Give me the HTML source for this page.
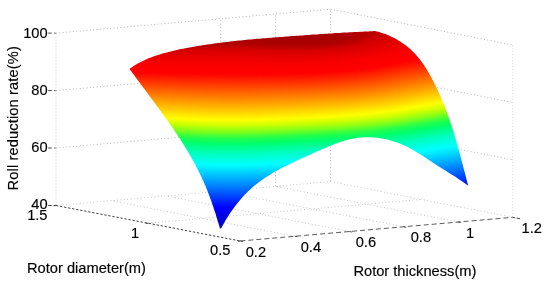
<!DOCTYPE html>
<html><head><meta charset="utf-8"><title>Roll reduction rate surface</title>
<style>
html,body{margin:0;padding:0;background:#fff}
svg{display:block}
text{font-family:"Liberation Sans",sans-serif;font-size:14.67px;fill:#000;stroke:#000;stroke-width:.15px}
.g{stroke:#8e8e8e;stroke-width:.65;stroke-dasharray:1 2.4;fill:none}
.h{stroke:#a0a0a0;stroke-width:.6;stroke-dasharray:1 2.4;fill:none}
.f{stroke:#b4b4b4;stroke-width:.6;stroke-dasharray:1 2;fill:none}
.a{stroke:#2a2a2a;stroke-width:.9;stroke-dasharray:2.3 1.8;fill:none}
.b{stroke:#4a4a4a;stroke-width:.9;stroke-dasharray:5 3;fill:none}
.t{stroke:#333;stroke-width:.9;fill:none}
</style></head><body>
<svg width="550" height="289" viewBox="0 0 550 289">
<defs>
<linearGradient id="g0" gradientUnits="userSpaceOnUse" x1="0" y1="67.4" x2="0" y2="70.5"><stop offset="0.391" stop-color="#fd0000"/><stop offset="0.565" stop-color="#fd0000"/></linearGradient>
<linearGradient id="g1" gradientUnits="userSpaceOnUse" x1="0" y1="66.1" x2="0" y2="73.3"><stop offset="0.240" stop-color="#fc0000"/><stop offset="0.662" stop-color="#fe0000"/></linearGradient>
<linearGradient id="g2" gradientUnits="userSpaceOnUse" x1="0" y1="64.8" x2="0" y2="76.0"><stop offset="0.150" stop-color="#fb0000"/><stop offset="0.686" stop-color="#ff0000"/><stop offset="0.784" stop-color="#ff0600"/></linearGradient>
<linearGradient id="g3" gradientUnits="userSpaceOnUse" x1="0" y1="63.6" x2="0" y2="78.7"><stop offset="0.109" stop-color="#fb0000"/><stop offset="0.505" stop-color="#fe0000"/><stop offset="0.604" stop-color="#ff0100"/><stop offset="0.841" stop-color="#ff1500"/></linearGradient>
<linearGradient id="g4" gradientUnits="userSpaceOnUse" x1="0" y1="62.4" x2="0" y2="81.4"><stop offset="0.085" stop-color="#f90000"/><stop offset="0.348" stop-color="#fd0000"/><stop offset="0.532" stop-color="#ff0000"/><stop offset="0.611" stop-color="#ff0800"/><stop offset="0.873" stop-color="#ff2500"/></linearGradient>
<linearGradient id="g5" gradientUnits="userSpaceOnUse" x1="0" y1="61.4" x2="0" y2="84.1"><stop offset="0.069" stop-color="#f60000"/><stop offset="0.135" stop-color="#fa0000"/><stop offset="0.289" stop-color="#fc0000"/><stop offset="0.486" stop-color="#ff0000"/><stop offset="0.684" stop-color="#ff1800"/><stop offset="0.895" stop-color="#ff3400"/></linearGradient>
<linearGradient id="g6" gradientUnits="userSpaceOnUse" x1="0" y1="60.4" x2="0" y2="86.8"><stop offset="0.058" stop-color="#f40000"/><stop offset="0.153" stop-color="#fa0000"/><stop offset="0.228" stop-color="#fb0000"/><stop offset="0.398" stop-color="#fe0000"/><stop offset="0.474" stop-color="#ff0100"/><stop offset="0.587" stop-color="#ff1200"/><stop offset="0.757" stop-color="#ff2c00"/><stop offset="0.909" stop-color="#ff4300"/></linearGradient>
<linearGradient id="g7" gradientUnits="userSpaceOnUse" x1="0" y1="59.4" x2="0" y2="89.5"><stop offset="0.050" stop-color="#f10000"/><stop offset="0.167" stop-color="#fa0000"/><stop offset="0.233" stop-color="#fb0000"/><stop offset="0.399" stop-color="#fe0000"/><stop offset="0.449" stop-color="#ff0100"/><stop offset="0.581" stop-color="#ff1800"/><stop offset="0.747" stop-color="#ff3400"/><stop offset="0.921" stop-color="#ff5200"/></linearGradient>
<linearGradient id="g8" gradientUnits="userSpaceOnUse" x1="0" y1="58.5" x2="0" y2="92.2"><stop offset="0.044" stop-color="#ef0000"/><stop offset="0.178" stop-color="#fa0000"/><stop offset="0.193" stop-color="#fa0000"/><stop offset="0.341" stop-color="#fd0000"/><stop offset="0.430" stop-color="#ff0100"/><stop offset="0.489" stop-color="#ff0d00"/><stop offset="0.637" stop-color="#ff2900"/><stop offset="0.786" stop-color="#ff4500"/><stop offset="0.929" stop-color="#ff6100"/></linearGradient>
<linearGradient id="g9" gradientUnits="userSpaceOnUse" x1="0" y1="57.6" x2="0" y2="94.9"><stop offset="0.039" stop-color="#ec0000"/><stop offset="0.174" stop-color="#fa0000"/><stop offset="0.294" stop-color="#fd0000"/><stop offset="0.402" stop-color="#ff0000"/><stop offset="0.429" stop-color="#ff0500"/><stop offset="0.549" stop-color="#ff1e00"/><stop offset="0.683" stop-color="#ff3a00"/><stop offset="0.804" stop-color="#ff5400"/><stop offset="0.936" stop-color="#ff7000"/></linearGradient>
<linearGradient id="g10" gradientUnits="userSpaceOnUse" x1="0" y1="56.8" x2="0" y2="97.6"><stop offset="0.036" stop-color="#ea0000"/><stop offset="0.170" stop-color="#f90000"/><stop offset="0.183" stop-color="#fa0000"/><stop offset="0.293" stop-color="#fd0000"/><stop offset="0.391" stop-color="#ff0000"/><stop offset="0.428" stop-color="#ff0800"/><stop offset="0.551" stop-color="#ff2400"/><stop offset="0.686" stop-color="#ff4300"/><stop offset="0.808" stop-color="#ff6000"/><stop offset="0.941" stop-color="#ff7f00"/></linearGradient>
<linearGradient id="g11" gradientUnits="userSpaceOnUse" x1="0" y1="56.1" x2="0" y2="100.3"><stop offset="0.032" stop-color="#e80000"/><stop offset="0.145" stop-color="#f50000"/><stop offset="0.191" stop-color="#fa0000"/><stop offset="0.258" stop-color="#fc0000"/><stop offset="0.371" stop-color="#ff0000"/><stop offset="0.383" stop-color="#ff0100"/><stop offset="0.484" stop-color="#ff1a00"/><stop offset="0.609" stop-color="#ff3900"/><stop offset="0.722" stop-color="#ff5500"/><stop offset="0.835" stop-color="#ff7200"/><stop offset="0.946" stop-color="#ff8e00"/></linearGradient>
<linearGradient id="g12" gradientUnits="userSpaceOnUse" x1="0" y1="55.3" x2="0" y2="103.0"><stop offset="0.030" stop-color="#e60000"/><stop offset="0.040" stop-color="#e70000"/><stop offset="0.134" stop-color="#f30000"/><stop offset="0.187" stop-color="#fa0000"/><stop offset="0.239" stop-color="#fb0000"/><stop offset="0.334" stop-color="#fe0000"/><stop offset="0.365" stop-color="#ff0000"/><stop offset="0.439" stop-color="#ff1300"/><stop offset="0.544" stop-color="#ff2f00"/><stop offset="0.648" stop-color="#ff4b00"/><stop offset="0.743" stop-color="#ff6500"/><stop offset="0.848" stop-color="#ff8100"/><stop offset="0.950" stop-color="#ff9e00"/></linearGradient>
<linearGradient id="g13" gradientUnits="userSpaceOnUse" x1="0" y1="54.6" x2="0" y2="105.7"><stop offset="0.027" stop-color="#e30000"/><stop offset="0.057" stop-color="#e80000"/><stop offset="0.135" stop-color="#f30000"/><stop offset="0.184" stop-color="#f90000"/><stop offset="0.233" stop-color="#fb0000"/><stop offset="0.341" stop-color="#fe0000"/><stop offset="0.360" stop-color="#ff0100"/><stop offset="0.438" stop-color="#ff1700"/><stop offset="0.546" stop-color="#ff3600"/><stop offset="0.644" stop-color="#ff5200"/><stop offset="0.752" stop-color="#ff7100"/><stop offset="0.850" stop-color="#ff8e00"/><stop offset="0.953" stop-color="#ffad00"/></linearGradient>
<linearGradient id="g14" gradientUnits="userSpaceOnUse" x1="0" y1="54.0" x2="0" y2="108.4"><stop offset="0.025" stop-color="#e10000"/><stop offset="0.062" stop-color="#e80000"/><stop offset="0.117" stop-color="#f00000"/><stop offset="0.191" stop-color="#fa0000"/><stop offset="0.209" stop-color="#fb0000"/><stop offset="0.310" stop-color="#fe0000"/><stop offset="0.347" stop-color="#ff0000"/><stop offset="0.402" stop-color="#ff1000"/><stop offset="0.494" stop-color="#ff2c00"/><stop offset="0.585" stop-color="#ff4800"/><stop offset="0.677" stop-color="#ff6400"/><stop offset="0.778" stop-color="#ff8400"/><stop offset="0.870" stop-color="#ffa100"/><stop offset="0.956" stop-color="#ffbc00"/></linearGradient>
<linearGradient id="g15" gradientUnits="userSpaceOnUse" x1="0" y1="53.3" x2="0" y2="111.2"><stop offset="0.024" stop-color="#df0000"/><stop offset="0.067" stop-color="#e80000"/><stop offset="0.110" stop-color="#ee0000"/><stop offset="0.188" stop-color="#fa0000"/><stop offset="0.196" stop-color="#fa0000"/><stop offset="0.283" stop-color="#fd0000"/><stop offset="0.343" stop-color="#ff0100"/><stop offset="0.369" stop-color="#ff0a00"/><stop offset="0.456" stop-color="#ff2500"/><stop offset="0.534" stop-color="#ff3e00"/><stop offset="0.620" stop-color="#ff5b00"/><stop offset="0.707" stop-color="#ff7700"/><stop offset="0.793" stop-color="#ff9400"/><stop offset="0.880" stop-color="#ffb100"/><stop offset="0.958" stop-color="#ffcb00"/></linearGradient>
<linearGradient id="g16" gradientUnits="userSpaceOnUse" x1="0" y1="52.7" x2="0" y2="113.9"><stop offset="0.022" stop-color="#dd0000"/><stop offset="0.071" stop-color="#e70000"/><stop offset="0.104" stop-color="#ed0000"/><stop offset="0.185" stop-color="#fa0000"/><stop offset="0.194" stop-color="#fa0000"/><stop offset="0.275" stop-color="#fd0000"/><stop offset="0.333" stop-color="#ff0100"/><stop offset="0.365" stop-color="#ff0b00"/><stop offset="0.447" stop-color="#ff2700"/><stop offset="0.537" stop-color="#ff4600"/><stop offset="0.619" stop-color="#ff6200"/><stop offset="0.708" stop-color="#ff8100"/><stop offset="0.790" stop-color="#ff9e00"/><stop offset="0.880" stop-color="#ffbe00"/><stop offset="0.960" stop-color="#ffdb00"/></linearGradient>
<linearGradient id="g17" gradientUnits="userSpaceOnUse" x1="0" y1="52.2" x2="0" y2="116.7"><stop offset="0.021" stop-color="#dc0000"/><stop offset="0.083" stop-color="#e90000"/><stop offset="0.098" stop-color="#eb0000"/><stop offset="0.176" stop-color="#f80000"/><stop offset="0.191" stop-color="#fa0000"/><stop offset="0.253" stop-color="#fc0000"/><stop offset="0.323" stop-color="#ff0000"/><stop offset="0.338" stop-color="#ff0500"/><stop offset="0.416" stop-color="#ff2100"/><stop offset="0.493" stop-color="#ff3d00"/><stop offset="0.571" stop-color="#ff5900"/><stop offset="0.648" stop-color="#ff7500"/><stop offset="0.733" stop-color="#ff9400"/><stop offset="0.811" stop-color="#ffb100"/><stop offset="0.888" stop-color="#ffce00"/><stop offset="0.962" stop-color="#ffea00"/></linearGradient>
<linearGradient id="g18" gradientUnits="userSpaceOnUse" x1="0" y1="51.6" x2="0" y2="119.5"><stop offset="0.019" stop-color="#da0000"/><stop offset="0.086" stop-color="#e80000"/><stop offset="0.093" stop-color="#ea0000"/><stop offset="0.167" stop-color="#f70000"/><stop offset="0.189" stop-color="#fa0000"/><stop offset="0.240" stop-color="#fc0000"/><stop offset="0.314" stop-color="#ff0000"/><stop offset="0.388" stop-color="#ff1b00"/><stop offset="0.461" stop-color="#ff3600"/><stop offset="0.528" stop-color="#ff4f00"/><stop offset="0.601" stop-color="#ff6c00"/><stop offset="0.675" stop-color="#ff8800"/><stop offset="0.749" stop-color="#ffa500"/><stop offset="0.822" stop-color="#ffc200"/><stop offset="0.896" stop-color="#ffdf00"/><stop offset="0.964" stop-color="#fffa00"/></linearGradient>
<linearGradient id="g19" gradientUnits="userSpaceOnUse" x1="0" y1="51.1" x2="0" y2="122.3"><stop offset="0.018" stop-color="#d90000"/><stop offset="0.089" stop-color="#e80000"/><stop offset="0.166" stop-color="#f60000"/><stop offset="0.187" stop-color="#fa0000"/><stop offset="0.236" stop-color="#fc0000"/><stop offset="0.306" stop-color="#ff0000"/><stop offset="0.313" stop-color="#ff0200"/><stop offset="0.383" stop-color="#ff1d00"/><stop offset="0.454" stop-color="#ff3900"/><stop offset="0.531" stop-color="#ff5700"/><stop offset="0.601" stop-color="#ff7400"/><stop offset="0.671" stop-color="#ff9000"/><stop offset="0.748" stop-color="#ffb000"/><stop offset="0.819" stop-color="#ffcd00"/><stop offset="0.896" stop-color="#ffed00"/><stop offset="0.938" stop-color="#fffe00"/><stop offset="0.965" stop-color="#eeff00"/></linearGradient>
<linearGradient id="g20" gradientUnits="userSpaceOnUse" x1="0" y1="50.6" x2="0" y2="125.2"><stop offset="0.017" stop-color="#d70000"/><stop offset="0.084" stop-color="#e70000"/><stop offset="0.091" stop-color="#e80000"/><stop offset="0.152" stop-color="#f40000"/><stop offset="0.185" stop-color="#fa0000"/><stop offset="0.219" stop-color="#fb0000"/><stop offset="0.292" stop-color="#ff0000"/><stop offset="0.299" stop-color="#ff0000"/><stop offset="0.359" stop-color="#ff1700"/><stop offset="0.426" stop-color="#ff3300"/><stop offset="0.493" stop-color="#ff4e00"/><stop offset="0.560" stop-color="#ff6b00"/><stop offset="0.627" stop-color="#ff8700"/><stop offset="0.695" stop-color="#ffa400"/><stop offset="0.768" stop-color="#ffc300"/><stop offset="0.835" stop-color="#ffe000"/><stop offset="0.902" stop-color="#fffe00"/><stop offset="0.967" stop-color="#d4ff00"/></linearGradient>
<linearGradient id="g21" gradientUnits="userSpaceOnUse" x1="0" y1="50.1" x2="0" y2="128.1"><stop offset="0.017" stop-color="#d60000"/><stop offset="0.081" stop-color="#e60000"/><stop offset="0.094" stop-color="#e90000"/><stop offset="0.145" stop-color="#f30000"/><stop offset="0.183" stop-color="#fa0000"/><stop offset="0.209" stop-color="#fb0000"/><stop offset="0.273" stop-color="#fe0000"/><stop offset="0.292" stop-color="#ff0000"/><stop offset="0.337" stop-color="#ff1200"/><stop offset="0.401" stop-color="#ff2d00"/><stop offset="0.466" stop-color="#ff4900"/><stop offset="0.523" stop-color="#ff6200"/><stop offset="0.587" stop-color="#ff7e00"/><stop offset="0.652" stop-color="#ff9a00"/><stop offset="0.716" stop-color="#ffb700"/><stop offset="0.780" stop-color="#ffd400"/><stop offset="0.844" stop-color="#fff100"/><stop offset="0.876" stop-color="#fdff00"/><stop offset="0.908" stop-color="#e6ff00"/><stop offset="0.940" stop-color="#ceff00"/><stop offset="0.968" stop-color="#b4ff08"/></linearGradient>
<linearGradient id="g22" gradientUnits="userSpaceOnUse" x1="0" y1="49.6" x2="0" y2="131.0"><stop offset="0.016" stop-color="#d40000"/><stop offset="0.077" stop-color="#e40000"/><stop offset="0.090" stop-color="#e70000"/><stop offset="0.139" stop-color="#f10000"/><stop offset="0.182" stop-color="#fa0000"/><stop offset="0.194" stop-color="#fb0000"/><stop offset="0.255" stop-color="#fd0000"/><stop offset="0.286" stop-color="#ff0000"/><stop offset="0.317" stop-color="#ff0c00"/><stop offset="0.372" stop-color="#ff2500"/><stop offset="0.434" stop-color="#ff4000"/><stop offset="0.495" stop-color="#ff5c00"/><stop offset="0.557" stop-color="#ff7800"/><stop offset="0.618" stop-color="#ff9400"/><stop offset="0.674" stop-color="#ffae00"/><stop offset="0.735" stop-color="#ffcb00"/><stop offset="0.796" stop-color="#ffe800"/><stop offset="0.846" stop-color="#feff00"/><stop offset="0.852" stop-color="#faff00"/><stop offset="0.907" stop-color="#cfff00"/><stop offset="0.913" stop-color="#caff01"/><stop offset="0.969" stop-color="#92ff14"/></linearGradient>
<linearGradient id="g23" gradientUnits="userSpaceOnUse" x1="0" y1="49.2" x2="0" y2="133.9"><stop offset="0.015" stop-color="#d20000"/><stop offset="0.074" stop-color="#e30000"/><stop offset="0.092" stop-color="#e80000"/><stop offset="0.133" stop-color="#f00000"/><stop offset="0.180" stop-color="#fa0000"/><stop offset="0.192" stop-color="#fb0000"/><stop offset="0.251" stop-color="#fd0000"/><stop offset="0.281" stop-color="#ff0000"/><stop offset="0.316" stop-color="#ff0f00"/><stop offset="0.375" stop-color="#ff2a00"/><stop offset="0.434" stop-color="#ff4600"/><stop offset="0.493" stop-color="#ff6100"/><stop offset="0.552" stop-color="#ff7e00"/><stop offset="0.611" stop-color="#ff9a00"/><stop offset="0.670" stop-color="#ffb700"/><stop offset="0.735" stop-color="#ffd600"/><stop offset="0.794" stop-color="#fff300"/><stop offset="0.817" stop-color="#ffff00"/><stop offset="0.853" stop-color="#e3ff00"/><stop offset="0.882" stop-color="#cbff01"/><stop offset="0.912" stop-color="#acff0b"/><stop offset="0.953" stop-color="#81ff19"/><stop offset="0.970" stop-color="#6cff24"/></linearGradient>
<linearGradient id="g24" gradientUnits="userSpaceOnUse" x1="0" y1="48.8" x2="0" y2="136.9"><stop offset="0.014" stop-color="#cf0000"/><stop offset="0.020" stop-color="#d30000"/><stop offset="0.071" stop-color="#e20000"/><stop offset="0.094" stop-color="#e80000"/><stop offset="0.128" stop-color="#ef0000"/><stop offset="0.179" stop-color="#fa0000"/><stop offset="0.184" stop-color="#fa0000"/><stop offset="0.241" stop-color="#fd0000"/><stop offset="0.275" stop-color="#ff0000"/><stop offset="0.298" stop-color="#ff0a00"/><stop offset="0.355" stop-color="#ff2500"/><stop offset="0.411" stop-color="#ff4000"/><stop offset="0.468" stop-color="#ff5c00"/><stop offset="0.519" stop-color="#ff7500"/><stop offset="0.576" stop-color="#ff9100"/><stop offset="0.632" stop-color="#ffae00"/><stop offset="0.689" stop-color="#ffcb00"/><stop offset="0.746" stop-color="#ffe800"/><stop offset="0.791" stop-color="#ffff00"/><stop offset="0.802" stop-color="#f6ff00"/><stop offset="0.854" stop-color="#cbff01"/><stop offset="0.859" stop-color="#c5ff03"/><stop offset="0.916" stop-color="#88ff17"/><stop offset="0.922" stop-color="#82ff19"/><stop offset="0.971" stop-color="#42ff39"/></linearGradient>
<linearGradient id="g25" gradientUnits="userSpaceOnUse" x1="0" y1="48.3" x2="0" y2="140.0"><stop offset="0.014" stop-color="#cc0000"/><stop offset="0.025" stop-color="#d40000"/><stop offset="0.068" stop-color="#e00000"/><stop offset="0.096" stop-color="#e80000"/><stop offset="0.123" stop-color="#ee0000"/><stop offset="0.172" stop-color="#fa0000"/><stop offset="0.226" stop-color="#fd0000"/><stop offset="0.270" stop-color="#ff0000"/><stop offset="0.281" stop-color="#ff0500"/><stop offset="0.336" stop-color="#ff1f00"/><stop offset="0.385" stop-color="#ff3800"/><stop offset="0.439" stop-color="#ff5400"/><stop offset="0.494" stop-color="#ff6f00"/><stop offset="0.548" stop-color="#ff8c00"/><stop offset="0.603" stop-color="#ffa800"/><stop offset="0.652" stop-color="#ffc200"/><stop offset="0.707" stop-color="#ffdf00"/><stop offset="0.761" stop-color="#fffc00"/><stop offset="0.767" stop-color="#ffff00"/><stop offset="0.816" stop-color="#d5ff00"/><stop offset="0.827" stop-color="#ccff00"/><stop offset="0.865" stop-color="#a1ff0f"/><stop offset="0.892" stop-color="#83ff19"/><stop offset="0.919" stop-color="#5eff2b"/><stop offset="0.957" stop-color="#2bff45"/><stop offset="0.972" stop-color="#1fff4d"/></linearGradient>
<linearGradient id="g26" gradientUnits="userSpaceOnUse" x1="0" y1="47.9" x2="0" y2="143.1"><stop offset="0.013" stop-color="#c90000"/><stop offset="0.029" stop-color="#d50000"/><stop offset="0.066" stop-color="#df0000"/><stop offset="0.097" stop-color="#e80000"/><stop offset="0.118" stop-color="#ed0000"/><stop offset="0.171" stop-color="#fa0000"/><stop offset="0.229" stop-color="#fd0000"/><stop offset="0.265" stop-color="#ff0000"/><stop offset="0.281" stop-color="#ff0800"/><stop offset="0.334" stop-color="#ff2200"/><stop offset="0.386" stop-color="#ff3e00"/><stop offset="0.439" stop-color="#ff5900"/><stop offset="0.497" stop-color="#ff7800"/><stop offset="0.549" stop-color="#ff9400"/><stop offset="0.602" stop-color="#ffb100"/><stop offset="0.654" stop-color="#ffcd00"/><stop offset="0.707" stop-color="#ffea00"/><stop offset="0.743" stop-color="#ffff00"/><stop offset="0.759" stop-color="#f2ff00"/><stop offset="0.801" stop-color="#ccff00"/><stop offset="0.812" stop-color="#c0ff04"/><stop offset="0.864" stop-color="#83ff19"/><stop offset="0.870" stop-color="#7cff1c"/><stop offset="0.922" stop-color="#33ff41"/><stop offset="0.927" stop-color="#2bff44"/><stop offset="0.973" stop-color="#09ff61"/></linearGradient>
<linearGradient id="g27" gradientUnits="userSpaceOnUse" x1="0" y1="47.5" x2="0" y2="146.3"><stop offset="0.013" stop-color="#c60000"/><stop offset="0.028" stop-color="#d30000"/><stop offset="0.063" stop-color="#de0000"/><stop offset="0.094" stop-color="#e70000"/><stop offset="0.114" stop-color="#ec0000"/><stop offset="0.165" stop-color="#f90000"/><stop offset="0.170" stop-color="#fa0000"/><stop offset="0.215" stop-color="#fc0000"/><stop offset="0.261" stop-color="#ff0000"/><stop offset="0.266" stop-color="#ff0300"/><stop offset="0.316" stop-color="#ff1d00"/><stop offset="0.367" stop-color="#ff3800"/><stop offset="0.418" stop-color="#ff5400"/><stop offset="0.468" stop-color="#ff7000"/><stop offset="0.519" stop-color="#ff8c00"/><stop offset="0.570" stop-color="#ffa800"/><stop offset="0.620" stop-color="#ffc500"/><stop offset="0.671" stop-color="#ffe200"/><stop offset="0.722" stop-color="#ffff00"/><stop offset="0.772" stop-color="#d1ff00"/><stop offset="0.777" stop-color="#ccff00"/><stop offset="0.823" stop-color="#95ff13"/><stop offset="0.838" stop-color="#83ff19"/><stop offset="0.874" stop-color="#50ff32"/><stop offset="0.899" stop-color="#2bff44"/><stop offset="0.924" stop-color="#17ff55"/><stop offset="0.955" stop-color="#00ff69"/><stop offset="0.973" stop-color="#00ff78"/></linearGradient>
<linearGradient id="g28" gradientUnits="userSpaceOnUse" x1="0" y1="47.2" x2="0" y2="149.5"><stop offset="0.012" stop-color="#c30000"/><stop offset="0.032" stop-color="#d40000"/><stop offset="0.061" stop-color="#dd0000"/><stop offset="0.095" stop-color="#e80000"/><stop offset="0.110" stop-color="#ec0000"/><stop offset="0.159" stop-color="#f80000"/><stop offset="0.168" stop-color="#fa0000"/><stop offset="0.203" stop-color="#fc0000"/><stop offset="0.251" stop-color="#ff0000"/><stop offset="0.256" stop-color="#ff0000"/><stop offset="0.300" stop-color="#ff1800"/><stop offset="0.349" stop-color="#ff3300"/><stop offset="0.398" stop-color="#ff4f00"/><stop offset="0.447" stop-color="#ff6a00"/><stop offset="0.491" stop-color="#ff8400"/><stop offset="0.540" stop-color="#ffa000"/><stop offset="0.589" stop-color="#ffbc00"/><stop offset="0.637" stop-color="#ffd900"/><stop offset="0.686" stop-color="#fff600"/><stop offset="0.701" stop-color="#ffff00"/><stop offset="0.735" stop-color="#dfff00"/><stop offset="0.755" stop-color="#ccff00"/><stop offset="0.784" stop-color="#a7ff0d"/><stop offset="0.813" stop-color="#83ff19"/><stop offset="0.828" stop-color="#6dff23"/><stop offset="0.872" stop-color="#2bff44"/><stop offset="0.877" stop-color="#26ff48"/><stop offset="0.926" stop-color="#00ff69"/><stop offset="0.974" stop-color="#00ff91"/></linearGradient>
<linearGradient id="g29" gradientUnits="userSpaceOnUse" x1="0" y1="46.8" x2="0" y2="152.8"><stop offset="0.012" stop-color="#c10000"/><stop offset="0.035" stop-color="#d50000"/><stop offset="0.059" stop-color="#dc0000"/><stop offset="0.097" stop-color="#e80000"/><stop offset="0.106" stop-color="#eb0000"/><stop offset="0.158" stop-color="#f80000"/><stop offset="0.163" stop-color="#f90000"/><stop offset="0.205" stop-color="#fc0000"/><stop offset="0.252" stop-color="#ff0100"/><stop offset="0.304" stop-color="#ff1e00"/><stop offset="0.351" stop-color="#ff3900"/><stop offset="0.398" stop-color="#ff5500"/><stop offset="0.445" stop-color="#ff7000"/><stop offset="0.493" stop-color="#ff8c00"/><stop offset="0.544" stop-color="#ffac00"/><stop offset="0.592" stop-color="#ffc800"/><stop offset="0.639" stop-color="#ffe500"/><stop offset="0.681" stop-color="#ffff00"/><stop offset="0.691" stop-color="#f6ff00"/><stop offset="0.733" stop-color="#cbff01"/><stop offset="0.738" stop-color="#c5ff03"/><stop offset="0.785" stop-color="#89ff17"/><stop offset="0.790" stop-color="#83ff19"/><stop offset="0.832" stop-color="#41ff39"/><stop offset="0.846" stop-color="#2bff44"/><stop offset="0.879" stop-color="#0fff5c"/><stop offset="0.898" stop-color="#00ff69"/><stop offset="0.931" stop-color="#00ff86"/><stop offset="0.974" stop-color="#00ffab"/></linearGradient>
<linearGradient id="g30" gradientUnits="userSpaceOnUse" x1="0" y1="46.4" x2="0" y2="156.2"><stop offset="0.011" stop-color="#bf0000"/><stop offset="0.034" stop-color="#d30000"/><stop offset="0.057" stop-color="#db0000"/><stop offset="0.093" stop-color="#e70000"/><stop offset="0.102" stop-color="#ea0000"/><stop offset="0.148" stop-color="#f60000"/><stop offset="0.161" stop-color="#fa0000"/><stop offset="0.193" stop-color="#fc0000"/><stop offset="0.239" stop-color="#ff0000"/><stop offset="0.243" stop-color="#ff0000"/><stop offset="0.289" stop-color="#ff1900"/><stop offset="0.335" stop-color="#ff3400"/><stop offset="0.380" stop-color="#ff5000"/><stop offset="0.426" stop-color="#ff6b00"/><stop offset="0.471" stop-color="#ff8700"/><stop offset="0.517" stop-color="#ffa300"/><stop offset="0.562" stop-color="#ffc000"/><stop offset="0.608" stop-color="#ffdd00"/><stop offset="0.653" stop-color="#fff900"/><stop offset="0.662" stop-color="#ffff00"/><stop offset="0.699" stop-color="#d9ff00"/><stop offset="0.712" stop-color="#cbff01"/><stop offset="0.749" stop-color="#9aff11"/><stop offset="0.767" stop-color="#82ff19"/><stop offset="0.794" stop-color="#57ff2f"/><stop offset="0.822" stop-color="#2bff45"/><stop offset="0.840" stop-color="#1aff52"/><stop offset="0.872" stop-color="#00ff69"/><stop offset="0.885" stop-color="#00ff76"/><stop offset="0.931" stop-color="#00ff9e"/><stop offset="0.967" stop-color="#00ffbf"/><stop offset="0.975" stop-color="#00ffc3"/></linearGradient>
<linearGradient id="g31" gradientUnits="userSpaceOnUse" x1="0" y1="46.1" x2="0" y2="159.7"><stop offset="0.011" stop-color="#bc0000"/><stop offset="0.037" stop-color="#d40000"/><stop offset="0.055" stop-color="#da0000"/><stop offset="0.094" stop-color="#e80000"/><stop offset="0.099" stop-color="#e90000"/><stop offset="0.143" stop-color="#f50000"/><stop offset="0.160" stop-color="#fa0000"/><stop offset="0.187" stop-color="#fc0000"/><stop offset="0.231" stop-color="#fe0000"/><stop offset="0.240" stop-color="#ff0000"/><stop offset="0.275" stop-color="#ff1500"/><stop offset="0.319" stop-color="#ff2f00"/><stop offset="0.363" stop-color="#ff4b00"/><stop offset="0.407" stop-color="#ff6600"/><stop offset="0.451" stop-color="#ff8200"/><stop offset="0.495" stop-color="#ff9e00"/><stop offset="0.539" stop-color="#ffba00"/><stop offset="0.583" stop-color="#ffd700"/><stop offset="0.627" stop-color="#fff400"/><stop offset="0.644" stop-color="#feff00"/><stop offset="0.671" stop-color="#e2ff00"/><stop offset="0.693" stop-color="#caff01"/><stop offset="0.715" stop-color="#acff0b"/><stop offset="0.745" stop-color="#82ff19"/><stop offset="0.759" stop-color="#6cff24"/><stop offset="0.798" stop-color="#2aff45"/><stop offset="0.803" stop-color="#25ff48"/><stop offset="0.847" stop-color="#00ff6a"/><stop offset="0.891" stop-color="#00ff92"/><stop offset="0.935" stop-color="#00ffbb"/><stop offset="0.939" stop-color="#00ffbf"/><stop offset="0.975" stop-color="#00ffd7"/></linearGradient>
<linearGradient id="g32" gradientUnits="userSpaceOnUse" x1="0" y1="45.7" x2="0" y2="163.3"><stop offset="0.010" stop-color="#ba0000"/><stop offset="0.036" stop-color="#d30000"/><stop offset="0.053" stop-color="#d90000"/><stop offset="0.095" stop-color="#e80000"/><stop offset="0.138" stop-color="#f40000"/><stop offset="0.159" stop-color="#fa0000"/><stop offset="0.180" stop-color="#fb0000"/><stop offset="0.223" stop-color="#fe0000"/><stop offset="0.236" stop-color="#ff0000"/><stop offset="0.261" stop-color="#ff1000"/><stop offset="0.304" stop-color="#ff2a00"/><stop offset="0.346" stop-color="#ff4600"/><stop offset="0.389" stop-color="#ff6100"/><stop offset="0.431" stop-color="#ff7d00"/><stop offset="0.474" stop-color="#ff9900"/><stop offset="0.516" stop-color="#ffb500"/><stop offset="0.559" stop-color="#ffd200"/><stop offset="0.601" stop-color="#ffef00"/><stop offset="0.627" stop-color="#fdff00"/><stop offset="0.644" stop-color="#ebff00"/><stop offset="0.669" stop-color="#cfff00"/><stop offset="0.686" stop-color="#b7ff07"/><stop offset="0.725" stop-color="#81ff1a"/><stop offset="0.729" stop-color="#7aff1d"/><stop offset="0.767" stop-color="#38ff3e"/><stop offset="0.776" stop-color="#29ff45"/><stop offset="0.810" stop-color="#0aff60"/><stop offset="0.822" stop-color="#00ff6a"/><stop offset="0.852" stop-color="#00ff86"/><stop offset="0.895" stop-color="#00ffaf"/><stop offset="0.912" stop-color="#00ffbf"/><stop offset="0.937" stop-color="#00ffd0"/><stop offset="0.976" stop-color="#00ffeb"/></linearGradient>
<linearGradient id="g33" gradientUnits="userSpaceOnUse" x1="0" y1="45.4" x2="0" y2="167.1"><stop offset="0.010" stop-color="#b80000"/><stop offset="0.039" stop-color="#d40000"/><stop offset="0.051" stop-color="#d80000"/><stop offset="0.092" stop-color="#e70000"/><stop offset="0.133" stop-color="#f30000"/><stop offset="0.154" stop-color="#fa0000"/><stop offset="0.170" stop-color="#fb0000"/><stop offset="0.211" stop-color="#fe0000"/><stop offset="0.232" stop-color="#ff0100"/><stop offset="0.252" stop-color="#ff0e00"/><stop offset="0.294" stop-color="#ff2800"/><stop offset="0.335" stop-color="#ff4300"/><stop offset="0.372" stop-color="#ff5c00"/><stop offset="0.413" stop-color="#ff7800"/><stop offset="0.454" stop-color="#ff9400"/><stop offset="0.495" stop-color="#ffb000"/><stop offset="0.536" stop-color="#ffcd00"/><stop offset="0.577" stop-color="#ffe900"/><stop offset="0.610" stop-color="#fdff00"/><stop offset="0.618" stop-color="#f4ff00"/><stop offset="0.651" stop-color="#ceff00"/><stop offset="0.655" stop-color="#c9ff01"/><stop offset="0.696" stop-color="#8cff16"/><stop offset="0.704" stop-color="#80ff1a"/><stop offset="0.737" stop-color="#46ff37"/><stop offset="0.754" stop-color="#29ff46"/><stop offset="0.778" stop-color="#12ff5a"/><stop offset="0.799" stop-color="#00ff6b"/><stop offset="0.819" stop-color="#00ff7f"/><stop offset="0.856" stop-color="#00ffa3"/><stop offset="0.885" stop-color="#00ffbf"/><stop offset="0.898" stop-color="#00ffc8"/><stop offset="0.939" stop-color="#00ffe5"/><stop offset="0.976" stop-color="#00ffff"/><stop offset="0.976" stop-color="#00ffff"/></linearGradient>
<linearGradient id="g34" gradientUnits="userSpaceOnUse" x1="0" y1="45.0" x2="0" y2="170.9"><stop offset="0.010" stop-color="#b60000"/><stop offset="0.037" stop-color="#d20000"/><stop offset="0.049" stop-color="#d80000"/><stop offset="0.089" stop-color="#e60000"/><stop offset="0.093" stop-color="#e80000"/><stop offset="0.129" stop-color="#f30000"/><stop offset="0.153" stop-color="#fa0000"/><stop offset="0.172" stop-color="#fb0000"/><stop offset="0.212" stop-color="#fe0000"/><stop offset="0.224" stop-color="#ff0000"/><stop offset="0.252" stop-color="#ff1100"/><stop offset="0.292" stop-color="#ff2c00"/><stop offset="0.331" stop-color="#ff4700"/><stop offset="0.375" stop-color="#ff6500"/><stop offset="0.415" stop-color="#ff8100"/><stop offset="0.454" stop-color="#ff9d00"/><stop offset="0.494" stop-color="#ffb900"/><stop offset="0.534" stop-color="#ffd600"/><stop offset="0.574" stop-color="#fff200"/><stop offset="0.589" stop-color="#fffe00"/><stop offset="0.613" stop-color="#e5ff00"/><stop offset="0.633" stop-color="#ceff00"/><stop offset="0.657" stop-color="#aaff0c"/><stop offset="0.685" stop-color="#7fff1b"/><stop offset="0.697" stop-color="#69ff25"/><stop offset="0.732" stop-color="#28ff46"/><stop offset="0.736" stop-color="#24ff4a"/><stop offset="0.772" stop-color="#02ff67"/><stop offset="0.776" stop-color="#00ff6b"/><stop offset="0.816" stop-color="#00ff94"/><stop offset="0.856" stop-color="#00ffbc"/><stop offset="0.860" stop-color="#00ffc0"/><stop offset="0.899" stop-color="#00ffdd"/><stop offset="0.939" stop-color="#00fffa"/><stop offset="0.947" stop-color="#00ffff"/><stop offset="0.976" stop-color="#00e9ff"/></linearGradient>
<linearGradient id="g35" gradientUnits="userSpaceOnUse" x1="0" y1="44.7" x2="0" y2="175.0"><stop offset="0.009" stop-color="#b50000"/><stop offset="0.013" stop-color="#b80000"/><stop offset="0.040" stop-color="#d40000"/><stop offset="0.048" stop-color="#d70000"/><stop offset="0.086" stop-color="#e50000"/><stop offset="0.094" stop-color="#e80000"/><stop offset="0.124" stop-color="#f20000"/><stop offset="0.151" stop-color="#fa0000"/><stop offset="0.163" stop-color="#fb0000"/><stop offset="0.201" stop-color="#fe0000"/><stop offset="0.220" stop-color="#ff0000"/><stop offset="0.240" stop-color="#ff0d00"/><stop offset="0.282" stop-color="#ff2a00"/><stop offset="0.320" stop-color="#ff4500"/><stop offset="0.359" stop-color="#ff6000"/><stop offset="0.397" stop-color="#ff7c00"/><stop offset="0.435" stop-color="#ff9800"/><stop offset="0.474" stop-color="#ffb400"/><stop offset="0.512" stop-color="#ffd000"/><stop offset="0.551" stop-color="#ffed00"/><stop offset="0.574" stop-color="#fffe00"/><stop offset="0.589" stop-color="#edff00"/><stop offset="0.616" stop-color="#cdff00"/><stop offset="0.627" stop-color="#bbff06"/><stop offset="0.662" stop-color="#84ff18"/><stop offset="0.666" stop-color="#7eff1b"/><stop offset="0.704" stop-color="#35ff40"/><stop offset="0.712" stop-color="#27ff47"/><stop offset="0.746" stop-color="#05ff65"/><stop offset="0.750" stop-color="#01ff68"/><stop offset="0.785" stop-color="#00ff8c"/><stop offset="0.823" stop-color="#00ffb5"/><stop offset="0.831" stop-color="#00ffbd"/><stop offset="0.861" stop-color="#00ffd4"/><stop offset="0.900" stop-color="#00fff1"/><stop offset="0.919" stop-color="#00feff"/><stop offset="0.938" stop-color="#00efff"/><stop offset="0.976" stop-color="#00d2ff"/></linearGradient>
<linearGradient id="g36" gradientUnits="userSpaceOnUse" x1="0" y1="44.4" x2="0" y2="179.2"><stop offset="0.009" stop-color="#b40000"/><stop offset="0.013" stop-color="#b60000"/><stop offset="0.042" stop-color="#d50000"/><stop offset="0.046" stop-color="#d60000"/><stop offset="0.083" stop-color="#e50000"/><stop offset="0.091" stop-color="#e80000"/><stop offset="0.120" stop-color="#f10000"/><stop offset="0.146" stop-color="#fa0000"/><stop offset="0.157" stop-color="#fb0000"/><stop offset="0.194" stop-color="#fd0000"/><stop offset="0.217" stop-color="#ff0000"/><stop offset="0.231" stop-color="#ff0b00"/><stop offset="0.269" stop-color="#ff2500"/><stop offset="0.306" stop-color="#ff4000"/><stop offset="0.343" stop-color="#ff5b00"/><stop offset="0.380" stop-color="#ff7700"/><stop offset="0.417" stop-color="#ff9300"/><stop offset="0.454" stop-color="#ffaf00"/><stop offset="0.491" stop-color="#ffcb00"/><stop offset="0.532" stop-color="#ffeb00"/><stop offset="0.558" stop-color="#ffff00"/><stop offset="0.569" stop-color="#f1ff00"/><stop offset="0.599" stop-color="#cbff01"/><stop offset="0.606" stop-color="#bfff05"/><stop offset="0.643" stop-color="#83ff19"/><stop offset="0.680" stop-color="#3bff3d"/><stop offset="0.691" stop-color="#26ff47"/><stop offset="0.717" stop-color="#0cff5f"/><stop offset="0.728" stop-color="#01ff69"/><stop offset="0.754" stop-color="#00ff85"/><stop offset="0.791" stop-color="#00ffad"/><stop offset="0.806" stop-color="#00ffbe"/><stop offset="0.829" stop-color="#00ffcf"/><stop offset="0.866" stop-color="#00ffec"/><stop offset="0.892" stop-color="#00feff"/><stop offset="0.903" stop-color="#00f5ff"/><stop offset="0.940" stop-color="#00d7ff"/><stop offset="0.976" stop-color="#00baff"/></linearGradient>
<linearGradient id="g37" gradientUnits="userSpaceOnUse" x1="0" y1="44.1" x2="0" y2="183.7"><stop offset="0.009" stop-color="#b30000"/><stop offset="0.016" stop-color="#b80000"/><stop offset="0.041" stop-color="#d30000"/><stop offset="0.044" stop-color="#d50000"/><stop offset="0.080" stop-color="#e40000"/><stop offset="0.091" stop-color="#e80000"/><stop offset="0.116" stop-color="#f00000"/><stop offset="0.145" stop-color="#fa0000"/><stop offset="0.152" stop-color="#fb0000"/><stop offset="0.188" stop-color="#fd0000"/><stop offset="0.213" stop-color="#ff0100"/><stop offset="0.224" stop-color="#ff0900"/><stop offset="0.259" stop-color="#ff2300"/><stop offset="0.295" stop-color="#ff3e00"/><stop offset="0.331" stop-color="#ff5900"/><stop offset="0.367" stop-color="#ff7500"/><stop offset="0.403" stop-color="#ff9100"/><stop offset="0.438" stop-color="#ffad00"/><stop offset="0.474" stop-color="#ffc900"/><stop offset="0.514" stop-color="#ffe900"/><stop offset="0.542" stop-color="#feff00"/><stop offset="0.550" stop-color="#f5ff00"/><stop offset="0.582" stop-color="#caff01"/><stop offset="0.585" stop-color="#c4ff03"/><stop offset="0.621" stop-color="#88ff17"/><stop offset="0.625" stop-color="#82ff19"/><stop offset="0.657" stop-color="#41ff3a"/><stop offset="0.668" stop-color="#2bff45"/><stop offset="0.693" stop-color="#0fff5c"/><stop offset="0.707" stop-color="#00ff69"/><stop offset="0.729" stop-color="#00ff82"/><stop offset="0.764" stop-color="#00ffaa"/><stop offset="0.782" stop-color="#00ffbe"/><stop offset="0.800" stop-color="#00ffcd"/><stop offset="0.836" stop-color="#00ffea"/><stop offset="0.861" stop-color="#00fffe"/><stop offset="0.872" stop-color="#00f7ff"/><stop offset="0.908" stop-color="#00daff"/><stop offset="0.944" stop-color="#00bcff"/><stop offset="0.976" stop-color="#00a1ff"/></linearGradient>
<linearGradient id="g38" gradientUnits="userSpaceOnUse" x1="0" y1="43.8" x2="0" y2="188.4"><stop offset="0.008" stop-color="#b20000"/><stop offset="0.015" stop-color="#b60000"/><stop offset="0.043" stop-color="#d40000"/><stop offset="0.077" stop-color="#e30000"/><stop offset="0.091" stop-color="#e90000"/><stop offset="0.112" stop-color="#f00000"/><stop offset="0.143" stop-color="#fa0000"/><stop offset="0.147" stop-color="#fa0000"/><stop offset="0.181" stop-color="#fd0000"/><stop offset="0.205" stop-color="#ff0000"/><stop offset="0.216" stop-color="#ff0700"/><stop offset="0.250" stop-color="#ff2100"/><stop offset="0.285" stop-color="#ff3c00"/><stop offset="0.320" stop-color="#ff5700"/><stop offset="0.354" stop-color="#ff7300"/><stop offset="0.389" stop-color="#ff8f00"/><stop offset="0.423" stop-color="#ffab00"/><stop offset="0.458" stop-color="#ffc700"/><stop offset="0.492" stop-color="#ffe400"/><stop offset="0.524" stop-color="#fffe00"/><stop offset="0.527" stop-color="#fdff00"/><stop offset="0.562" stop-color="#ceff00"/><stop offset="0.596" stop-color="#93ff13"/><stop offset="0.606" stop-color="#80ff1a"/><stop offset="0.631" stop-color="#4dff33"/><stop offset="0.648" stop-color="#29ff45"/><stop offset="0.665" stop-color="#16ff56"/><stop offset="0.686" stop-color="#00ff6a"/><stop offset="0.700" stop-color="#00ff7a"/><stop offset="0.734" stop-color="#00ffa3"/><stop offset="0.759" stop-color="#00ffbf"/><stop offset="0.769" stop-color="#00ffc8"/><stop offset="0.804" stop-color="#00ffe4"/><stop offset="0.835" stop-color="#00fffe"/><stop offset="0.838" stop-color="#00fdff"/><stop offset="0.873" stop-color="#00dfff"/><stop offset="0.907" stop-color="#00c1ff"/><stop offset="0.942" stop-color="#00a3ff"/><stop offset="0.976" stop-color="#0086ff"/></linearGradient>
<linearGradient id="g39" gradientUnits="userSpaceOnUse" x1="0" y1="43.5" x2="0" y2="193.3"><stop offset="0.008" stop-color="#b10000"/><stop offset="0.018" stop-color="#b80000"/><stop offset="0.041" stop-color="#d30000"/><stop offset="0.075" stop-color="#e20000"/><stop offset="0.088" stop-color="#e80000"/><stop offset="0.108" stop-color="#ef0000"/><stop offset="0.138" stop-color="#fa0000"/><stop offset="0.141" stop-color="#fa0000"/><stop offset="0.175" stop-color="#fd0000"/><stop offset="0.201" stop-color="#ff0000"/><stop offset="0.208" stop-color="#ff0600"/><stop offset="0.242" stop-color="#ff2000"/><stop offset="0.275" stop-color="#ff3a00"/><stop offset="0.308" stop-color="#ff5500"/><stop offset="0.342" stop-color="#ff7100"/><stop offset="0.375" stop-color="#ff8d00"/><stop offset="0.408" stop-color="#ffa900"/><stop offset="0.442" stop-color="#ffc500"/><stop offset="0.475" stop-color="#ffe200"/><stop offset="0.508" stop-color="#fffe00"/><stop offset="0.512" stop-color="#fbff00"/><stop offset="0.545" stop-color="#cdff00"/><stop offset="0.578" stop-color="#91ff14"/><stop offset="0.585" stop-color="#85ff18"/><stop offset="0.612" stop-color="#4cff34"/><stop offset="0.628" stop-color="#28ff46"/><stop offset="0.645" stop-color="#15ff57"/><stop offset="0.662" stop-color="#02ff67"/><stop offset="0.679" stop-color="#00ff7b"/><stop offset="0.712" stop-color="#00ffa4"/><stop offset="0.732" stop-color="#00ffbc"/><stop offset="0.745" stop-color="#00ffc8"/><stop offset="0.779" stop-color="#00ffe5"/><stop offset="0.809" stop-color="#00ffff"/><stop offset="0.812" stop-color="#00fcff"/><stop offset="0.845" stop-color="#00deff"/><stop offset="0.879" stop-color="#00c1ff"/><stop offset="0.912" stop-color="#00a3ff"/><stop offset="0.945" stop-color="#0085ff"/><stop offset="0.976" stop-color="#0069ff"/></linearGradient>
<linearGradient id="g40" gradientUnits="userSpaceOnUse" x1="0" y1="43.2" x2="0" y2="198.6"><stop offset="0.008" stop-color="#b00000"/><stop offset="0.017" stop-color="#b70000"/><stop offset="0.040" stop-color="#d10000"/><stop offset="0.043" stop-color="#d40000"/><stop offset="0.072" stop-color="#e10000"/><stop offset="0.088" stop-color="#e80000"/><stop offset="0.104" stop-color="#ee0000"/><stop offset="0.136" stop-color="#fa0000"/><stop offset="0.169" stop-color="#fd0000"/><stop offset="0.197" stop-color="#ff0100"/><stop offset="0.201" stop-color="#ff0400"/><stop offset="0.233" stop-color="#ff1e00"/><stop offset="0.268" stop-color="#ff3b00"/><stop offset="0.300" stop-color="#ff5600"/><stop offset="0.333" stop-color="#ff7200"/><stop offset="0.365" stop-color="#ff8e00"/><stop offset="0.397" stop-color="#ffaa00"/><stop offset="0.429" stop-color="#ffc600"/><stop offset="0.461" stop-color="#ffe200"/><stop offset="0.493" stop-color="#ffff00"/><stop offset="0.526" stop-color="#d0ff00"/><stop offset="0.529" stop-color="#cbff01"/><stop offset="0.558" stop-color="#95ff13"/><stop offset="0.567" stop-color="#83ff19"/><stop offset="0.590" stop-color="#51ff32"/><stop offset="0.609" stop-color="#27ff47"/><stop offset="0.622" stop-color="#17ff55"/><stop offset="0.641" stop-color="#01ff68"/><stop offset="0.654" stop-color="#00ff78"/><stop offset="0.686" stop-color="#00ffa1"/><stop offset="0.709" stop-color="#00ffbd"/><stop offset="0.719" stop-color="#00ffc6"/><stop offset="0.754" stop-color="#00ffe6"/><stop offset="0.783" stop-color="#00feff"/><stop offset="0.786" stop-color="#00fbff"/><stop offset="0.818" stop-color="#00ddff"/><stop offset="0.850" stop-color="#00c0ff"/><stop offset="0.883" stop-color="#00a2ff"/><stop offset="0.915" stop-color="#0084ff"/><stop offset="0.947" stop-color="#0066ff"/><stop offset="0.976" stop-color="#004bff"/></linearGradient>
<linearGradient id="g41" gradientUnits="userSpaceOnUse" x1="0" y1="42.9" x2="0" y2="204.2"><stop offset="0.007" stop-color="#af0000"/><stop offset="0.020" stop-color="#b80000"/><stop offset="0.038" stop-color="#cf0000"/><stop offset="0.041" stop-color="#d30000"/><stop offset="0.069" stop-color="#e00000"/><stop offset="0.085" stop-color="#e80000"/><stop offset="0.100" stop-color="#ed0000"/><stop offset="0.131" stop-color="#f90000"/><stop offset="0.134" stop-color="#fa0000"/><stop offset="0.162" stop-color="#fd0000"/><stop offset="0.190" stop-color="#ff0000"/><stop offset="0.196" stop-color="#ff0500"/><stop offset="0.227" stop-color="#ff1f00"/><stop offset="0.258" stop-color="#ff3a00"/><stop offset="0.289" stop-color="#ff5500"/><stop offset="0.320" stop-color="#ff7000"/><stop offset="0.351" stop-color="#ff8c00"/><stop offset="0.382" stop-color="#ffa800"/><stop offset="0.413" stop-color="#ffc400"/><stop offset="0.444" stop-color="#ffe000"/><stop offset="0.475" stop-color="#fffd00"/><stop offset="0.479" stop-color="#fdff00"/><stop offset="0.510" stop-color="#cfff00"/><stop offset="0.541" stop-color="#93ff13"/><stop offset="0.550" stop-color="#81ff19"/><stop offset="0.572" stop-color="#4fff33"/><stop offset="0.587" stop-color="#2aff45"/><stop offset="0.603" stop-color="#16ff55"/><stop offset="0.621" stop-color="#00ff69"/><stop offset="0.634" stop-color="#00ff7a"/><stop offset="0.665" stop-color="#00ffa2"/><stop offset="0.686" stop-color="#00ffbe"/><stop offset="0.696" stop-color="#00ffc7"/><stop offset="0.727" stop-color="#00ffe4"/><stop offset="0.754" stop-color="#00fffe"/><stop offset="0.758" stop-color="#00fdff"/><stop offset="0.789" stop-color="#00e0ff"/><stop offset="0.823" stop-color="#00bfff"/><stop offset="0.854" stop-color="#00a1ff"/><stop offset="0.885" stop-color="#0083ff"/><stop offset="0.916" stop-color="#0065ff"/><stop offset="0.947" stop-color="#0047ff"/><stop offset="0.976" stop-color="#002aff"/></linearGradient>
<linearGradient id="g42" gradientUnits="userSpaceOnUse" x1="0" y1="42.6" x2="0" y2="210.1"><stop offset="0.007" stop-color="#ae0000"/><stop offset="0.019" stop-color="#b70000"/><stop offset="0.037" stop-color="#cd0000"/><stop offset="0.043" stop-color="#d40000"/><stop offset="0.067" stop-color="#e00000"/><stop offset="0.085" stop-color="#e80000"/><stop offset="0.097" stop-color="#ed0000"/><stop offset="0.130" stop-color="#fa0000"/><stop offset="0.159" stop-color="#fd0000"/><stop offset="0.186" stop-color="#ff0100"/><stop offset="0.189" stop-color="#ff0300"/><stop offset="0.219" stop-color="#ff1d00"/><stop offset="0.249" stop-color="#ff3800"/><stop offset="0.279" stop-color="#ff5300"/><stop offset="0.312" stop-color="#ff7100"/><stop offset="0.341" stop-color="#ff8d00"/><stop offset="0.371" stop-color="#ffa900"/><stop offset="0.401" stop-color="#ffc500"/><stop offset="0.431" stop-color="#ffe100"/><stop offset="0.461" stop-color="#fffe00"/><stop offset="0.491" stop-color="#d2ff00"/><stop offset="0.494" stop-color="#cdff00"/><stop offset="0.524" stop-color="#92ff14"/><stop offset="0.533" stop-color="#7fff1b"/><stop offset="0.553" stop-color="#4cff34"/><stop offset="0.568" stop-color="#28ff46"/><stop offset="0.583" stop-color="#15ff57"/><stop offset="0.601" stop-color="#00ff6b"/><stop offset="0.613" stop-color="#00ff7b"/><stop offset="0.643" stop-color="#00ffa3"/><stop offset="0.664" stop-color="#00ffbf"/><stop offset="0.673" stop-color="#00ffc8"/><stop offset="0.706" stop-color="#00ffe8"/><stop offset="0.730" stop-color="#00ffff"/><stop offset="0.736" stop-color="#00f9ff"/><stop offset="0.765" stop-color="#00dcff"/><stop offset="0.795" stop-color="#00beff"/><stop offset="0.825" stop-color="#00a0ff"/><stop offset="0.855" stop-color="#0082ff"/><stop offset="0.888" stop-color="#0061ff"/><stop offset="0.918" stop-color="#0043ff"/><stop offset="0.948" stop-color="#0025ff"/><stop offset="0.976" stop-color="#0008ff"/></linearGradient>
<linearGradient id="g43" gradientUnits="userSpaceOnUse" x1="0" y1="42.3" x2="0" y2="216.3"><stop offset="0.007" stop-color="#ad0000"/><stop offset="0.021" stop-color="#b90000"/><stop offset="0.036" stop-color="#cb0000"/><stop offset="0.041" stop-color="#d30000"/><stop offset="0.064" stop-color="#df0000"/><stop offset="0.082" stop-color="#e70000"/><stop offset="0.093" stop-color="#ec0000"/><stop offset="0.122" stop-color="#f80000"/><stop offset="0.128" stop-color="#fa0000"/><stop offset="0.151" stop-color="#fc0000"/><stop offset="0.179" stop-color="#ff0000"/><stop offset="0.208" stop-color="#ff1900"/><stop offset="0.237" stop-color="#ff3400"/><stop offset="0.263" stop-color="#ff4c00"/><stop offset="0.291" stop-color="#ff6700"/><stop offset="0.320" stop-color="#ff8300"/><stop offset="0.349" stop-color="#ff9e00"/><stop offset="0.378" stop-color="#ffbb00"/><stop offset="0.406" stop-color="#ffd700"/><stop offset="0.435" stop-color="#fff400"/><stop offset="0.447" stop-color="#ffff00"/><stop offset="0.464" stop-color="#e3ff00"/><stop offset="0.478" stop-color="#cbff01"/><stop offset="0.493" stop-color="#adff0b"/><stop offset="0.513" stop-color="#83ff19"/><stop offset="0.521" stop-color="#6eff23"/><stop offset="0.550" stop-color="#27ff47"/><stop offset="0.579" stop-color="#01ff68"/><stop offset="0.608" stop-color="#00ff90"/><stop offset="0.636" stop-color="#00ffb9"/><stop offset="0.639" stop-color="#00ffbd"/><stop offset="0.665" stop-color="#00ffd7"/><stop offset="0.694" stop-color="#00fff4"/><stop offset="0.705" stop-color="#00feff"/><stop offset="0.723" stop-color="#00ecff"/><stop offset="0.748" stop-color="#00d2ff"/><stop offset="0.777" stop-color="#00b4ff"/><stop offset="0.806" stop-color="#0096ff"/><stop offset="0.835" stop-color="#0078ff"/><stop offset="0.863" stop-color="#005aff"/><stop offset="0.892" stop-color="#003cff"/><stop offset="0.921" stop-color="#001eff"/><stop offset="0.950" stop-color="#0000ff"/><stop offset="0.976" stop-color="#0000ef"/></linearGradient>
<linearGradient id="g44" gradientUnits="userSpaceOnUse" x1="0" y1="42.0" x2="0" y2="222.8"><stop offset="0.007" stop-color="#ac0000"/><stop offset="0.020" stop-color="#b70000"/><stop offset="0.034" stop-color="#c90000"/><stop offset="0.043" stop-color="#d40000"/><stop offset="0.062" stop-color="#de0000"/><stop offset="0.081" stop-color="#e80000"/><stop offset="0.090" stop-color="#ec0000"/><stop offset="0.117" stop-color="#f70000"/><stop offset="0.123" stop-color="#fa0000"/><stop offset="0.145" stop-color="#fc0000"/><stop offset="0.173" stop-color="#ff0000"/><stop offset="0.175" stop-color="#ff0000"/><stop offset="0.200" stop-color="#ff1800"/><stop offset="0.228" stop-color="#ff3200"/><stop offset="0.256" stop-color="#ff4d00"/><stop offset="0.283" stop-color="#ff6800"/><stop offset="0.311" stop-color="#ff8400"/><stop offset="0.339" stop-color="#ffa000"/><stop offset="0.366" stop-color="#ffbc00"/><stop offset="0.394" stop-color="#ffd800"/><stop offset="0.421" stop-color="#fff500"/><stop offset="0.433" stop-color="#fdff00"/><stop offset="0.449" stop-color="#e1ff00"/><stop offset="0.460" stop-color="#cfff00"/><stop offset="0.477" stop-color="#abff0b"/><stop offset="0.496" stop-color="#81ff19"/><stop offset="0.507" stop-color="#64ff28"/><stop offset="0.529" stop-color="#2aff45"/><stop offset="0.535" stop-color="#22ff4c"/><stop offset="0.560" stop-color="#00ff6a"/><stop offset="0.563" stop-color="#00ff6e"/><stop offset="0.590" stop-color="#00ff96"/><stop offset="0.618" stop-color="#00ffbe"/><stop offset="0.646" stop-color="#00ffdb"/><stop offset="0.673" stop-color="#00fff8"/><stop offset="0.679" stop-color="#00fffe"/><stop offset="0.701" stop-color="#00e8ff"/><stop offset="0.729" stop-color="#00cbff"/><stop offset="0.756" stop-color="#00adff"/><stop offset="0.784" stop-color="#008fff"/><stop offset="0.812" stop-color="#0071ff"/><stop offset="0.839" stop-color="#0053ff"/><stop offset="0.867" stop-color="#0035ff"/><stop offset="0.895" stop-color="#0016ff"/><stop offset="0.914" stop-color="#0001ff"/><stop offset="0.922" stop-color="#0000fb"/><stop offset="0.950" stop-color="#0000ea"/><stop offset="0.976" stop-color="#0000da"/></linearGradient>
<linearGradient id="g45" gradientUnits="userSpaceOnUse" x1="0" y1="41.8" x2="0" y2="229.6"><stop offset="0.006" stop-color="#ac0000"/><stop offset="0.020" stop-color="#b60000"/><stop offset="0.033" stop-color="#c80000"/><stop offset="0.041" stop-color="#d30000"/><stop offset="0.060" stop-color="#dd0000"/><stop offset="0.078" stop-color="#e70000"/><stop offset="0.086" stop-color="#eb0000"/><stop offset="0.115" stop-color="#f80000"/><stop offset="0.121" stop-color="#fa0000"/><stop offset="0.142" stop-color="#fc0000"/><stop offset="0.169" stop-color="#ff0000"/><stop offset="0.171" stop-color="#ff0100"/><stop offset="0.195" stop-color="#ff1900"/><stop offset="0.222" stop-color="#ff3300"/><stop offset="0.249" stop-color="#ff4e00"/><stop offset="0.275" stop-color="#ff6900"/><stop offset="0.304" stop-color="#ff8800"/><stop offset="0.331" stop-color="#ffa400"/><stop offset="0.358" stop-color="#ffc000"/><stop offset="0.384" stop-color="#ffdc00"/><stop offset="0.411" stop-color="#fff900"/><stop offset="0.416" stop-color="#ffff00"/><stop offset="0.438" stop-color="#dbff00"/><stop offset="0.446" stop-color="#cdff00"/><stop offset="0.464" stop-color="#a3ff0e"/><stop offset="0.477" stop-color="#85ff18"/><stop offset="0.491" stop-color="#61ff29"/><stop offset="0.512" stop-color="#28ff46"/><stop offset="0.520" stop-color="#1cff50"/><stop offset="0.539" stop-color="#02ff67"/><stop offset="0.547" stop-color="#00ff73"/><stop offset="0.573" stop-color="#00ff9c"/><stop offset="0.595" stop-color="#00ffbc"/><stop offset="0.600" stop-color="#00ffc2"/><stop offset="0.627" stop-color="#00ffdf"/><stop offset="0.653" stop-color="#00fffc"/><stop offset="0.656" stop-color="#00ffff"/><stop offset="0.680" stop-color="#00e4ff"/><stop offset="0.709" stop-color="#00c4ff"/><stop offset="0.736" stop-color="#00a6ff"/><stop offset="0.762" stop-color="#0088ff"/><stop offset="0.789" stop-color="#006aff"/><stop offset="0.816" stop-color="#004cff"/><stop offset="0.842" stop-color="#002dff"/><stop offset="0.869" stop-color="#000fff"/><stop offset="0.882" stop-color="#0000ff"/><stop offset="0.898" stop-color="#0000f5"/><stop offset="0.925" stop-color="#0000e4"/><stop offset="0.951" stop-color="#0000d4"/><stop offset="0.976" stop-color="#0000c4"/></linearGradient>
<linearGradient id="g46" gradientUnits="userSpaceOnUse" x1="0" y1="41.5" x2="0" y2="229.8"><stop offset="0.006" stop-color="#ab0000"/><stop offset="0.022" stop-color="#b80000"/><stop offset="0.033" stop-color="#c60000"/><stop offset="0.043" stop-color="#d40000"/><stop offset="0.059" stop-color="#dd0000"/><stop offset="0.081" stop-color="#e80000"/><stop offset="0.086" stop-color="#ea0000"/><stop offset="0.112" stop-color="#f60000"/><stop offset="0.120" stop-color="#fa0000"/><stop offset="0.139" stop-color="#fc0000"/><stop offset="0.166" stop-color="#fe0000"/><stop offset="0.171" stop-color="#ff0000"/><stop offset="0.195" stop-color="#ff1700"/><stop offset="0.221" stop-color="#ff3200"/><stop offset="0.248" stop-color="#ff4c00"/><stop offset="0.274" stop-color="#ff6800"/><stop offset="0.301" stop-color="#ff8300"/><stop offset="0.328" stop-color="#ff9f00"/><stop offset="0.354" stop-color="#ffbb00"/><stop offset="0.381" stop-color="#ffd800"/><stop offset="0.407" stop-color="#fff400"/><stop offset="0.418" stop-color="#feff00"/><stop offset="0.434" stop-color="#e2ff00"/><stop offset="0.447" stop-color="#caff01"/><stop offset="0.460" stop-color="#acff0b"/><stop offset="0.479" stop-color="#82ff19"/><stop offset="0.487" stop-color="#6dff24"/><stop offset="0.511" stop-color="#2bff44"/><stop offset="0.516" stop-color="#22ff4b"/><stop offset="0.540" stop-color="#00ff69"/><stop offset="0.543" stop-color="#00ff6d"/><stop offset="0.569" stop-color="#00ff95"/><stop offset="0.596" stop-color="#00ffbe"/><stop offset="0.622" stop-color="#00ffdb"/><stop offset="0.649" stop-color="#00fff8"/><stop offset="0.657" stop-color="#00feff"/><stop offset="0.676" stop-color="#00e9ff"/><stop offset="0.702" stop-color="#00cbff"/><stop offset="0.729" stop-color="#00adff"/><stop offset="0.755" stop-color="#008fff"/><stop offset="0.782" stop-color="#0071ff"/><stop offset="0.808" stop-color="#0053ff"/><stop offset="0.838" stop-color="#0032ff"/><stop offset="0.864" stop-color="#0014ff"/><stop offset="0.883" stop-color="#0000fe"/><stop offset="0.891" stop-color="#0000f9"/><stop offset="0.917" stop-color="#0000e9"/><stop offset="0.944" stop-color="#0000d8"/><stop offset="0.970" stop-color="#0000c7"/><stop offset="0.994" stop-color="#0000b9"/></linearGradient>
<linearGradient id="g47" gradientUnits="userSpaceOnUse" x1="0" y1="41.3" x2="0" y2="227.8"><stop offset="0.006" stop-color="#aa0000"/><stop offset="0.022" stop-color="#b60000"/><stop offset="0.033" stop-color="#c40000"/><stop offset="0.044" stop-color="#d30000"/><stop offset="0.060" stop-color="#dc0000"/><stop offset="0.084" stop-color="#e90000"/><stop offset="0.087" stop-color="#ea0000"/><stop offset="0.116" stop-color="#f70000"/><stop offset="0.124" stop-color="#fa0000"/><stop offset="0.143" stop-color="#fc0000"/><stop offset="0.170" stop-color="#ff0000"/><stop offset="0.175" stop-color="#ff0100"/><stop offset="0.197" stop-color="#ff1600"/><stop offset="0.223" stop-color="#ff3000"/><stop offset="0.250" stop-color="#ff4b00"/><stop offset="0.277" stop-color="#ff6600"/><stop offset="0.306" stop-color="#ff8400"/><stop offset="0.333" stop-color="#ffa000"/><stop offset="0.360" stop-color="#ffbd00"/><stop offset="0.387" stop-color="#ffd900"/><stop offset="0.414" stop-color="#fff600"/><stop offset="0.422" stop-color="#fffe00"/><stop offset="0.440" stop-color="#e0ff00"/><stop offset="0.451" stop-color="#ceff00"/><stop offset="0.467" stop-color="#aaff0c"/><stop offset="0.486" stop-color="#7fff1a"/><stop offset="0.494" stop-color="#6aff25"/><stop offset="0.518" stop-color="#28ff46"/><stop offset="0.524" stop-color="#21ff4c"/><stop offset="0.548" stop-color="#00ff6b"/><stop offset="0.550" stop-color="#00ff6f"/><stop offset="0.577" stop-color="#00ff97"/><stop offset="0.604" stop-color="#00ffbf"/><stop offset="0.631" stop-color="#00ffdc"/><stop offset="0.658" stop-color="#00fff9"/><stop offset="0.663" stop-color="#00ffff"/><stop offset="0.684" stop-color="#00e8ff"/><stop offset="0.714" stop-color="#00c7ff"/><stop offset="0.741" stop-color="#00a9ff"/><stop offset="0.767" stop-color="#008bff"/><stop offset="0.794" stop-color="#006dff"/><stop offset="0.821" stop-color="#004fff"/><stop offset="0.848" stop-color="#0031ff"/><stop offset="0.875" stop-color="#0013ff"/><stop offset="0.891" stop-color="#0001ff"/><stop offset="0.904" stop-color="#0000f7"/><stop offset="0.931" stop-color="#0000e6"/><stop offset="0.958" stop-color="#0000d6"/><stop offset="0.984" stop-color="#0000c5"/></linearGradient>
<linearGradient id="g48" gradientUnits="userSpaceOnUse" x1="0" y1="41.0" x2="0" y2="224.1"><stop offset="0.006" stop-color="#aa0000"/><stop offset="0.026" stop-color="#b80000"/><stop offset="0.034" stop-color="#c30000"/><stop offset="0.047" stop-color="#d40000"/><stop offset="0.061" stop-color="#db0000"/><stop offset="0.086" stop-color="#e80000"/><stop offset="0.088" stop-color="#e90000"/><stop offset="0.116" stop-color="#f50000"/><stop offset="0.127" stop-color="#f90000"/><stop offset="0.143" stop-color="#fb0000"/><stop offset="0.170" stop-color="#fe0000"/><stop offset="0.178" stop-color="#ff0000"/><stop offset="0.198" stop-color="#ff1200"/><stop offset="0.225" stop-color="#ff2c00"/><stop offset="0.252" stop-color="#ff4700"/><stop offset="0.279" stop-color="#ff6200"/><stop offset="0.307" stop-color="#ff7d00"/><stop offset="0.334" stop-color="#ff9900"/><stop offset="0.361" stop-color="#ffb500"/><stop offset="0.389" stop-color="#ffd200"/><stop offset="0.416" stop-color="#ffee00"/><stop offset="0.432" stop-color="#feff00"/><stop offset="0.443" stop-color="#ecff00"/><stop offset="0.462" stop-color="#cbff01"/><stop offset="0.471" stop-color="#b9ff07"/><stop offset="0.495" stop-color="#83ff19"/><stop offset="0.498" stop-color="#7cff1c"/><stop offset="0.523" stop-color="#3bff3d"/><stop offset="0.531" stop-color="#26ff47"/><stop offset="0.550" stop-color="#0cff5f"/><stop offset="0.558" stop-color="#01ff69"/><stop offset="0.577" stop-color="#00ff85"/><stop offset="0.604" stop-color="#00ffad"/><stop offset="0.615" stop-color="#00ffbd"/><stop offset="0.632" stop-color="#00ffcf"/><stop offset="0.659" stop-color="#00ffec"/><stop offset="0.678" stop-color="#00feff"/><stop offset="0.686" stop-color="#00f5ff"/><stop offset="0.714" stop-color="#00d7ff"/><stop offset="0.741" stop-color="#00baff"/><stop offset="0.768" stop-color="#009cff"/><stop offset="0.796" stop-color="#007eff"/><stop offset="0.823" stop-color="#0060ff"/><stop offset="0.850" stop-color="#0042ff"/><stop offset="0.878" stop-color="#0023ff"/><stop offset="0.905" stop-color="#0005ff"/><stop offset="0.910" stop-color="#0000fe"/><stop offset="0.932" stop-color="#0000f1"/><stop offset="0.959" stop-color="#0000e1"/><stop offset="0.985" stop-color="#0000d1"/></linearGradient>
<linearGradient id="g49" gradientUnits="userSpaceOnUse" x1="0" y1="40.8" x2="0" y2="220.6"><stop offset="0.007" stop-color="#a90000"/><stop offset="0.026" stop-color="#b70000"/><stop offset="0.034" stop-color="#c10000"/><stop offset="0.048" stop-color="#d30000"/><stop offset="0.062" stop-color="#da0000"/><stop offset="0.090" stop-color="#e90000"/><stop offset="0.118" stop-color="#f40000"/><stop offset="0.132" stop-color="#fa0000"/><stop offset="0.145" stop-color="#fb0000"/><stop offset="0.173" stop-color="#fe0000"/><stop offset="0.184" stop-color="#ff0100"/><stop offset="0.201" stop-color="#ff1000"/><stop offset="0.229" stop-color="#ff2b00"/><stop offset="0.259" stop-color="#ff4800"/><stop offset="0.287" stop-color="#ff6300"/><stop offset="0.315" stop-color="#ff7f00"/><stop offset="0.343" stop-color="#ff9b00"/><stop offset="0.371" stop-color="#ffb700"/><stop offset="0.398" stop-color="#ffd300"/><stop offset="0.426" stop-color="#fff000"/><stop offset="0.440" stop-color="#fffe00"/><stop offset="0.454" stop-color="#eaff00"/><stop offset="0.471" stop-color="#ceff00"/><stop offset="0.482" stop-color="#b6ff08"/><stop offset="0.507" stop-color="#80ff1a"/><stop offset="0.510" stop-color="#78ff1e"/><stop offset="0.537" stop-color="#30ff42"/><stop offset="0.540" stop-color="#29ff46"/><stop offset="0.565" stop-color="#06ff63"/><stop offset="0.571" stop-color="#00ff6a"/><stop offset="0.593" stop-color="#00ff8b"/><stop offset="0.621" stop-color="#00ffb3"/><stop offset="0.629" stop-color="#00ffbf"/><stop offset="0.649" stop-color="#00ffd3"/><stop offset="0.676" stop-color="#00fff0"/><stop offset="0.690" stop-color="#00ffff"/><stop offset="0.704" stop-color="#00f1ff"/><stop offset="0.732" stop-color="#00d3ff"/><stop offset="0.763" stop-color="#00b2ff"/><stop offset="0.790" stop-color="#0094ff"/><stop offset="0.818" stop-color="#0076ff"/><stop offset="0.846" stop-color="#0058ff"/><stop offset="0.874" stop-color="#003aff"/><stop offset="0.902" stop-color="#001cff"/><stop offset="0.927" stop-color="#0001ff"/><stop offset="0.929" stop-color="#0000fe"/><stop offset="0.957" stop-color="#0000ed"/><stop offset="0.985" stop-color="#0000dc"/></linearGradient>
<linearGradient id="g50" gradientUnits="userSpaceOnUse" x1="0" y1="40.5" x2="0" y2="217.4"><stop offset="0.007" stop-color="#a90000"/><stop offset="0.029" stop-color="#b80000"/><stop offset="0.035" stop-color="#bf0000"/><stop offset="0.052" stop-color="#d40000"/><stop offset="0.063" stop-color="#da0000"/><stop offset="0.091" stop-color="#e80000"/><stop offset="0.120" stop-color="#f30000"/><stop offset="0.134" stop-color="#f90000"/><stop offset="0.148" stop-color="#fb0000"/><stop offset="0.173" stop-color="#fe0000"/><stop offset="0.188" stop-color="#ff0000"/><stop offset="0.202" stop-color="#ff0d00"/><stop offset="0.230" stop-color="#ff2700"/><stop offset="0.258" stop-color="#ff4100"/><stop offset="0.287" stop-color="#ff5d00"/><stop offset="0.315" stop-color="#ff7800"/><stop offset="0.343" stop-color="#ff9400"/><stop offset="0.371" stop-color="#ffb000"/><stop offset="0.400" stop-color="#ffcc00"/><stop offset="0.428" stop-color="#ffe800"/><stop offset="0.451" stop-color="#feff00"/><stop offset="0.456" stop-color="#f5ff00"/><stop offset="0.482" stop-color="#cbff01"/><stop offset="0.484" stop-color="#c5ff03"/><stop offset="0.510" stop-color="#8fff15"/><stop offset="0.516" stop-color="#83ff19"/><stop offset="0.538" stop-color="#49ff35"/><stop offset="0.552" stop-color="#26ff47"/><stop offset="0.566" stop-color="#14ff58"/><stop offset="0.581" stop-color="#01ff68"/><stop offset="0.595" stop-color="#00ff7d"/><stop offset="0.623" stop-color="#00ffa5"/><stop offset="0.640" stop-color="#00ffbe"/><stop offset="0.651" stop-color="#00ffc9"/><stop offset="0.680" stop-color="#00ffe6"/><stop offset="0.705" stop-color="#00feff"/><stop offset="0.708" stop-color="#00fbff"/><stop offset="0.736" stop-color="#00ddff"/><stop offset="0.764" stop-color="#00bfff"/><stop offset="0.793" stop-color="#00a2ff"/><stop offset="0.821" stop-color="#0084ff"/><stop offset="0.846" stop-color="#0069ff"/><stop offset="0.875" stop-color="#004bff"/><stop offset="0.903" stop-color="#002cff"/><stop offset="0.931" stop-color="#000eff"/><stop offset="0.945" stop-color="#0000fe"/><stop offset="0.959" stop-color="#0000f6"/><stop offset="0.985" stop-color="#0000e7"/></linearGradient>
<linearGradient id="g51" gradientUnits="userSpaceOnUse" x1="0" y1="40.3" x2="0" y2="214.3"><stop offset="0.007" stop-color="#a80000"/><stop offset="0.030" stop-color="#b70000"/><stop offset="0.035" stop-color="#be0000"/><stop offset="0.053" stop-color="#d30000"/><stop offset="0.064" stop-color="#d90000"/><stop offset="0.093" stop-color="#e70000"/><stop offset="0.096" stop-color="#e90000"/><stop offset="0.122" stop-color="#f30000"/><stop offset="0.139" stop-color="#fa0000"/><stop offset="0.150" stop-color="#fb0000"/><stop offset="0.179" stop-color="#fe0000"/><stop offset="0.193" stop-color="#ff0100"/><stop offset="0.208" stop-color="#ff0e00"/><stop offset="0.237" stop-color="#ff2800"/><stop offset="0.265" stop-color="#ff4300"/><stop offset="0.294" stop-color="#ff5e00"/><stop offset="0.323" stop-color="#ff7900"/><stop offset="0.352" stop-color="#ff9500"/><stop offset="0.380" stop-color="#ffb100"/><stop offset="0.409" stop-color="#ffcd00"/><stop offset="0.438" stop-color="#ffea00"/><stop offset="0.458" stop-color="#fffe00"/><stop offset="0.467" stop-color="#f3ff00"/><stop offset="0.490" stop-color="#ceff00"/><stop offset="0.495" stop-color="#c2ff04"/><stop offset="0.527" stop-color="#7fff1a"/><stop offset="0.556" stop-color="#37ff3f"/><stop offset="0.561" stop-color="#28ff46"/><stop offset="0.584" stop-color="#0aff60"/><stop offset="0.593" stop-color="#00ff6b"/><stop offset="0.613" stop-color="#00ff87"/><stop offset="0.642" stop-color="#00ffaf"/><stop offset="0.653" stop-color="#00ffbf"/><stop offset="0.671" stop-color="#00ffd0"/><stop offset="0.699" stop-color="#00ffed"/><stop offset="0.717" stop-color="#00ffff"/><stop offset="0.728" stop-color="#00f3ff"/><stop offset="0.757" stop-color="#00d6ff"/><stop offset="0.786" stop-color="#00b8ff"/><stop offset="0.814" stop-color="#009aff"/><stop offset="0.843" stop-color="#007cff"/><stop offset="0.872" stop-color="#005eff"/><stop offset="0.900" stop-color="#0040ff"/><stop offset="0.929" stop-color="#0022ff"/><stop offset="0.958" stop-color="#0003ff"/><stop offset="0.961" stop-color="#0000ff"/><stop offset="0.985" stop-color="#0000f1"/></linearGradient>
<linearGradient id="g52" gradientUnits="userSpaceOnUse" x1="0" y1="40.1" x2="0" y2="211.4"><stop offset="0.007" stop-color="#a80000"/><stop offset="0.030" stop-color="#b60000"/><stop offset="0.036" stop-color="#bc0000"/><stop offset="0.056" stop-color="#d50000"/><stop offset="0.065" stop-color="#d80000"/><stop offset="0.094" stop-color="#e60000"/><stop offset="0.097" stop-color="#e80000"/><stop offset="0.124" stop-color="#f20000"/><stop offset="0.141" stop-color="#f90000"/><stop offset="0.150" stop-color="#fb0000"/><stop offset="0.179" stop-color="#fd0000"/><stop offset="0.197" stop-color="#ff0000"/><stop offset="0.208" stop-color="#ff0a00"/><stop offset="0.237" stop-color="#ff2400"/><stop offset="0.267" stop-color="#ff3f00"/><stop offset="0.296" stop-color="#ff5a00"/><stop offset="0.325" stop-color="#ff7500"/><stop offset="0.354" stop-color="#ff9100"/><stop offset="0.380" stop-color="#ffaa00"/><stop offset="0.410" stop-color="#ffc700"/><stop offset="0.439" stop-color="#ffe300"/><stop offset="0.468" stop-color="#feff00"/><stop offset="0.497" stop-color="#d0ff00"/><stop offset="0.500" stop-color="#cbff01"/><stop offset="0.526" stop-color="#95ff13"/><stop offset="0.535" stop-color="#83ff19"/><stop offset="0.556" stop-color="#50ff32"/><stop offset="0.573" stop-color="#26ff48"/><stop offset="0.585" stop-color="#17ff55"/><stop offset="0.602" stop-color="#00ff69"/><stop offset="0.614" stop-color="#00ff79"/><stop offset="0.640" stop-color="#00ff9d"/><stop offset="0.664" stop-color="#00ffbe"/><stop offset="0.669" stop-color="#00ffc4"/><stop offset="0.699" stop-color="#00ffe1"/><stop offset="0.728" stop-color="#00fffe"/><stop offset="0.731" stop-color="#00feff"/><stop offset="0.757" stop-color="#00e3ff"/><stop offset="0.786" stop-color="#00c5ff"/><stop offset="0.815" stop-color="#00a7ff"/><stop offset="0.845" stop-color="#0089ff"/><stop offset="0.871" stop-color="#006eff"/><stop offset="0.900" stop-color="#0050ff"/><stop offset="0.929" stop-color="#0032ff"/><stop offset="0.958" stop-color="#0014ff"/><stop offset="0.979" stop-color="#0000fe"/><stop offset="0.986" stop-color="#0000fa"/></linearGradient>
<linearGradient id="g53" gradientUnits="userSpaceOnUse" x1="0" y1="39.9" x2="0" y2="208.6"><stop offset="0.007" stop-color="#a70000"/><stop offset="0.034" stop-color="#b70000"/><stop offset="0.036" stop-color="#bb0000"/><stop offset="0.057" stop-color="#d40000"/><stop offset="0.066" stop-color="#d80000"/><stop offset="0.096" stop-color="#e60000"/><stop offset="0.102" stop-color="#e90000"/><stop offset="0.125" stop-color="#f20000"/><stop offset="0.146" stop-color="#fa0000"/><stop offset="0.155" stop-color="#fb0000"/><stop offset="0.185" stop-color="#fd0000"/><stop offset="0.202" stop-color="#ff0100"/><stop offset="0.214" stop-color="#ff0b00"/><stop offset="0.244" stop-color="#ff2600"/><stop offset="0.274" stop-color="#ff4000"/><stop offset="0.303" stop-color="#ff5b00"/><stop offset="0.333" stop-color="#ff7700"/><stop offset="0.362" stop-color="#ff9300"/><stop offset="0.392" stop-color="#ffaf00"/><stop offset="0.422" stop-color="#ffcb00"/><stop offset="0.451" stop-color="#ffe700"/><stop offset="0.475" stop-color="#fffe00"/><stop offset="0.481" stop-color="#f7ff00"/><stop offset="0.508" stop-color="#cdff00"/><stop offset="0.514" stop-color="#c1ff04"/><stop offset="0.543" stop-color="#85ff18"/><stop offset="0.546" stop-color="#7fff1b"/><stop offset="0.573" stop-color="#3dff3b"/><stop offset="0.582" stop-color="#28ff46"/><stop offset="0.603" stop-color="#0dff5d"/><stop offset="0.611" stop-color="#02ff67"/><stop offset="0.632" stop-color="#00ff83"/><stop offset="0.662" stop-color="#00ffac"/><stop offset="0.674" stop-color="#00ffbc"/><stop offset="0.691" stop-color="#00ffce"/><stop offset="0.721" stop-color="#00ffeb"/><stop offset="0.742" stop-color="#00ffff"/><stop offset="0.751" stop-color="#00f6ff"/><stop offset="0.780" stop-color="#00d8ff"/><stop offset="0.810" stop-color="#00baff"/><stop offset="0.840" stop-color="#009cff"/><stop offset="0.869" stop-color="#007fff"/><stop offset="0.899" stop-color="#0060ff"/><stop offset="0.928" stop-color="#0042ff"/><stop offset="0.958" stop-color="#0024ff"/><stop offset="0.986" stop-color="#0008ff"/></linearGradient>
<linearGradient id="g54" gradientUnits="userSpaceOnUse" x1="0" y1="39.7" x2="0" y2="206.0"><stop offset="0.007" stop-color="#a70000"/><stop offset="0.034" stop-color="#b60000"/><stop offset="0.037" stop-color="#b90000"/><stop offset="0.061" stop-color="#d50000"/><stop offset="0.067" stop-color="#d70000"/><stop offset="0.097" stop-color="#e50000"/><stop offset="0.103" stop-color="#e80000"/><stop offset="0.127" stop-color="#f10000"/><stop offset="0.148" stop-color="#fa0000"/><stop offset="0.154" stop-color="#fa0000"/><stop offset="0.184" stop-color="#fd0000"/><stop offset="0.205" stop-color="#ff0000"/><stop offset="0.214" stop-color="#ff0800"/><stop offset="0.244" stop-color="#ff2200"/><stop offset="0.275" stop-color="#ff3d00"/><stop offset="0.305" stop-color="#ff5800"/><stop offset="0.335" stop-color="#ff7300"/><stop offset="0.365" stop-color="#ff8f00"/><stop offset="0.392" stop-color="#ffa800"/><stop offset="0.422" stop-color="#ffc400"/><stop offset="0.452" stop-color="#ffe100"/><stop offset="0.482" stop-color="#fffd00"/><stop offset="0.485" stop-color="#fdff00"/><stop offset="0.512" stop-color="#d4ff00"/><stop offset="0.515" stop-color="#cfff00"/><stop offset="0.542" stop-color="#9aff11"/><stop offset="0.554" stop-color="#82ff19"/><stop offset="0.572" stop-color="#56ff2f"/><stop offset="0.590" stop-color="#2aff45"/><stop offset="0.602" stop-color="#1aff52"/><stop offset="0.623" stop-color="#00ff69"/><stop offset="0.629" stop-color="#00ff71"/><stop offset="0.659" stop-color="#00ff9a"/><stop offset="0.686" stop-color="#00ffbe"/><stop offset="0.689" stop-color="#00ffc1"/><stop offset="0.720" stop-color="#00ffde"/><stop offset="0.750" stop-color="#00fffb"/><stop offset="0.753" stop-color="#00fffe"/><stop offset="0.780" stop-color="#00e5ff"/><stop offset="0.810" stop-color="#00c7ff"/><stop offset="0.840" stop-color="#00aaff"/><stop offset="0.867" stop-color="#008fff"/><stop offset="0.897" stop-color="#0071ff"/><stop offset="0.927" stop-color="#0053ff"/><stop offset="0.957" stop-color="#0035ff"/><stop offset="0.986" stop-color="#0017ff"/></linearGradient>
<linearGradient id="g55" gradientUnits="userSpaceOnUse" x1="0" y1="39.5" x2="0" y2="203.5"><stop offset="0.007" stop-color="#a70000"/><stop offset="0.038" stop-color="#b80000"/><stop offset="0.062" stop-color="#d40000"/><stop offset="0.068" stop-color="#d70000"/><stop offset="0.098" stop-color="#e40000"/><stop offset="0.105" stop-color="#e70000"/><stop offset="0.129" stop-color="#f10000"/><stop offset="0.153" stop-color="#fa0000"/><stop offset="0.159" stop-color="#fb0000"/><stop offset="0.190" stop-color="#fd0000"/><stop offset="0.208" stop-color="#ff0000"/><stop offset="0.220" stop-color="#ff0900"/><stop offset="0.251" stop-color="#ff2300"/><stop offset="0.284" stop-color="#ff4100"/><stop offset="0.315" stop-color="#ff5c00"/><stop offset="0.345" stop-color="#ff7700"/><stop offset="0.376" stop-color="#ff9300"/><stop offset="0.406" stop-color="#ffaf00"/><stop offset="0.437" stop-color="#ffcb00"/><stop offset="0.467" stop-color="#ffe800"/><stop offset="0.492" stop-color="#ffff00"/><stop offset="0.498" stop-color="#f6ff00"/><stop offset="0.525" stop-color="#ccff00"/><stop offset="0.528" stop-color="#c6ff02"/><stop offset="0.559" stop-color="#8aff16"/><stop offset="0.562" stop-color="#84ff18"/><stop offset="0.589" stop-color="#43ff38"/><stop offset="0.602" stop-color="#27ff47"/><stop offset="0.620" stop-color="#10ff5b"/><stop offset="0.632" stop-color="#01ff68"/><stop offset="0.650" stop-color="#00ff80"/><stop offset="0.681" stop-color="#00ffa9"/><stop offset="0.696" stop-color="#00ffbd"/><stop offset="0.711" stop-color="#00ffcc"/><stop offset="0.745" stop-color="#00ffec"/><stop offset="0.766" stop-color="#00feff"/><stop offset="0.775" stop-color="#00f5ff"/><stop offset="0.806" stop-color="#00d7ff"/><stop offset="0.836" stop-color="#00baff"/><stop offset="0.867" stop-color="#009cff"/><stop offset="0.897" stop-color="#007eff"/><stop offset="0.928" stop-color="#0060ff"/><stop offset="0.958" stop-color="#0042ff"/><stop offset="0.986" stop-color="#0026ff"/></linearGradient>
<linearGradient id="g56" gradientUnits="userSpaceOnUse" x1="0" y1="39.3" x2="0" y2="201.1"><stop offset="0.007" stop-color="#a70000"/><stop offset="0.038" stop-color="#b70000"/><stop offset="0.063" stop-color="#d20000"/><stop offset="0.069" stop-color="#d60000"/><stop offset="0.100" stop-color="#e40000"/><stop offset="0.109" stop-color="#e80000"/><stop offset="0.131" stop-color="#f00000"/><stop offset="0.155" stop-color="#fa0000"/><stop offset="0.162" stop-color="#fa0000"/><stop offset="0.189" stop-color="#fd0000"/><stop offset="0.214" stop-color="#ff0000"/><stop offset="0.220" stop-color="#ff0500"/><stop offset="0.251" stop-color="#ff2000"/><stop offset="0.282" stop-color="#ff3a00"/><stop offset="0.313" stop-color="#ff5500"/><stop offset="0.344" stop-color="#ff7100"/><stop offset="0.375" stop-color="#ff8c00"/><stop offset="0.406" stop-color="#ffa800"/><stop offset="0.437" stop-color="#ffc500"/><stop offset="0.468" stop-color="#ffe100"/><stop offset="0.495" stop-color="#fffb00"/><stop offset="0.498" stop-color="#fffe00"/><stop offset="0.526" stop-color="#d7ff00"/><stop offset="0.532" stop-color="#ceff00"/><stop offset="0.557" stop-color="#9eff10"/><stop offset="0.573" stop-color="#80ff1a"/><stop offset="0.588" stop-color="#5cff2c"/><stop offset="0.610" stop-color="#29ff46"/><stop offset="0.619" stop-color="#1dff50"/><stop offset="0.644" stop-color="#00ff6a"/><stop offset="0.650" stop-color="#00ff73"/><stop offset="0.681" stop-color="#00ff9b"/><stop offset="0.709" stop-color="#00ffbf"/><stop offset="0.712" stop-color="#00ffc2"/><stop offset="0.743" stop-color="#00ffdf"/><stop offset="0.773" stop-color="#00fffc"/><stop offset="0.777" stop-color="#00ffff"/><stop offset="0.804" stop-color="#00e4ff"/><stop offset="0.832" stop-color="#00caff"/><stop offset="0.863" stop-color="#00acff"/><stop offset="0.894" stop-color="#008eff"/><stop offset="0.925" stop-color="#0070ff"/><stop offset="0.956" stop-color="#0052ff"/><stop offset="0.986" stop-color="#0034ff"/></linearGradient>
<linearGradient id="g57" gradientUnits="userSpaceOnUse" x1="0" y1="39.1" x2="0" y2="198.8"><stop offset="0.007" stop-color="#a60000"/><stop offset="0.038" stop-color="#b60000"/><stop offset="0.042" stop-color="#b80000"/><stop offset="0.067" stop-color="#d40000"/><stop offset="0.070" stop-color="#d50000"/><stop offset="0.101" stop-color="#e30000"/><stop offset="0.110" stop-color="#e70000"/><stop offset="0.132" stop-color="#f00000"/><stop offset="0.161" stop-color="#fa0000"/><stop offset="0.164" stop-color="#fa0000"/><stop offset="0.198" stop-color="#fd0000"/><stop offset="0.217" stop-color="#ff0000"/><stop offset="0.229" stop-color="#ff0a00"/><stop offset="0.261" stop-color="#ff2400"/><stop offset="0.292" stop-color="#ff3f00"/><stop offset="0.323" stop-color="#ff5a00"/><stop offset="0.355" stop-color="#ff7500"/><stop offset="0.386" stop-color="#ff9100"/><stop offset="0.417" stop-color="#ffad00"/><stop offset="0.449" stop-color="#ffc900"/><stop offset="0.480" stop-color="#ffe600"/><stop offset="0.508" stop-color="#feff00"/><stop offset="0.514" stop-color="#f5ff00"/><stop offset="0.542" stop-color="#caff01"/><stop offset="0.546" stop-color="#c4ff03"/><stop offset="0.577" stop-color="#88ff17"/><stop offset="0.580" stop-color="#82ff19"/><stop offset="0.608" stop-color="#41ff39"/><stop offset="0.618" stop-color="#2bff44"/><stop offset="0.640" stop-color="#0fff5c"/><stop offset="0.652" stop-color="#00ff69"/><stop offset="0.671" stop-color="#00ff81"/><stop offset="0.702" stop-color="#00ffaa"/><stop offset="0.718" stop-color="#00ffbe"/><stop offset="0.733" stop-color="#00ffcd"/><stop offset="0.765" stop-color="#00ffea"/><stop offset="0.787" stop-color="#00fffe"/><stop offset="0.796" stop-color="#00f7ff"/><stop offset="0.830" stop-color="#00d6ff"/><stop offset="0.862" stop-color="#00b9ff"/><stop offset="0.893" stop-color="#009bff"/><stop offset="0.924" stop-color="#007dff"/><stop offset="0.956" stop-color="#005fff"/><stop offset="0.987" stop-color="#0041ff"/></linearGradient>
<linearGradient id="g58" gradientUnits="userSpaceOnUse" x1="0" y1="38.9" x2="0" y2="196.6"><stop offset="0.007" stop-color="#a60000"/><stop offset="0.039" stop-color="#b50000"/><stop offset="0.042" stop-color="#b70000"/><stop offset="0.067" stop-color="#d30000"/><stop offset="0.071" stop-color="#d50000"/><stop offset="0.102" stop-color="#e20000"/><stop offset="0.115" stop-color="#e80000"/><stop offset="0.134" stop-color="#ef0000"/><stop offset="0.163" stop-color="#fa0000"/><stop offset="0.166" stop-color="#fa0000"/><stop offset="0.197" stop-color="#fd0000"/><stop offset="0.223" stop-color="#ff0100"/><stop offset="0.229" stop-color="#ff0600"/><stop offset="0.261" stop-color="#ff2000"/><stop offset="0.293" stop-color="#ff3b00"/><stop offset="0.324" stop-color="#ff5600"/><stop offset="0.356" stop-color="#ff7100"/><stop offset="0.388" stop-color="#ff8d00"/><stop offset="0.419" stop-color="#ffa900"/><stop offset="0.451" stop-color="#ffc500"/><stop offset="0.483" stop-color="#ffe200"/><stop offset="0.511" stop-color="#fffc00"/><stop offset="0.514" stop-color="#ffff00"/><stop offset="0.543" stop-color="#d6ff00"/><stop offset="0.549" stop-color="#ccff00"/><stop offset="0.575" stop-color="#9cff10"/><stop offset="0.587" stop-color="#84ff18"/><stop offset="0.606" stop-color="#59ff2d"/><stop offset="0.629" stop-color="#27ff47"/><stop offset="0.638" stop-color="#1cff51"/><stop offset="0.660" stop-color="#01ff68"/><stop offset="0.670" stop-color="#00ff74"/><stop offset="0.701" stop-color="#00ff9c"/><stop offset="0.727" stop-color="#00ffbd"/><stop offset="0.733" stop-color="#00ffc3"/><stop offset="0.765" stop-color="#00ffe0"/><stop offset="0.797" stop-color="#00fffd"/><stop offset="0.800" stop-color="#00feff"/><stop offset="0.828" stop-color="#00e3ff"/><stop offset="0.860" stop-color="#00c6ff"/><stop offset="0.892" stop-color="#00a8ff"/><stop offset="0.923" stop-color="#008aff"/><stop offset="0.955" stop-color="#006cff"/><stop offset="0.987" stop-color="#004eff"/></linearGradient>
<linearGradient id="g59" gradientUnits="userSpaceOnUse" x1="0" y1="38.7" x2="0" y2="194.5"><stop offset="0.007" stop-color="#a60000"/><stop offset="0.039" stop-color="#b40000"/><stop offset="0.046" stop-color="#b80000"/><stop offset="0.072" stop-color="#d40000"/><stop offset="0.104" stop-color="#e20000"/><stop offset="0.116" stop-color="#e80000"/><stop offset="0.132" stop-color="#ed0000"/><stop offset="0.165" stop-color="#f90000"/><stop offset="0.168" stop-color="#fa0000"/><stop offset="0.197" stop-color="#fd0000"/><stop offset="0.226" stop-color="#ff0000"/><stop offset="0.229" stop-color="#ff0200"/><stop offset="0.261" stop-color="#ff1d00"/><stop offset="0.293" stop-color="#ff3700"/><stop offset="0.325" stop-color="#ff5200"/><stop offset="0.357" stop-color="#ff6e00"/><stop offset="0.386" stop-color="#ff8700"/><stop offset="0.418" stop-color="#ffa300"/><stop offset="0.450" stop-color="#ffbf00"/><stop offset="0.482" stop-color="#ffdb00"/><stop offset="0.514" stop-color="#fff800"/><stop offset="0.521" stop-color="#fffe00"/><stop offset="0.546" stop-color="#dcff00"/><stop offset="0.556" stop-color="#ceff00"/><stop offset="0.578" stop-color="#a4ff0e"/><stop offset="0.598" stop-color="#80ff1a"/><stop offset="0.611" stop-color="#63ff29"/><stop offset="0.636" stop-color="#29ff46"/><stop offset="0.639" stop-color="#24ff49"/><stop offset="0.671" stop-color="#00ff6b"/><stop offset="0.704" stop-color="#00ff93"/><stop offset="0.736" stop-color="#00ffbc"/><stop offset="0.739" stop-color="#00ffbf"/><stop offset="0.768" stop-color="#00ffd9"/><stop offset="0.800" stop-color="#00fff6"/><stop offset="0.809" stop-color="#00ffff"/><stop offset="0.832" stop-color="#00eaff"/><stop offset="0.864" stop-color="#00ccff"/><stop offset="0.893" stop-color="#00b2ff"/><stop offset="0.925" stop-color="#0094ff"/><stop offset="0.957" stop-color="#0076ff"/><stop offset="0.987" stop-color="#005aff"/></linearGradient>
<linearGradient id="g60" gradientUnits="userSpaceOnUse" x1="0" y1="38.5" x2="0" y2="192.5"><stop offset="0.007" stop-color="#a60000"/><stop offset="0.040" stop-color="#b30000"/><stop offset="0.046" stop-color="#b70000"/><stop offset="0.072" stop-color="#d30000"/><stop offset="0.105" stop-color="#e10000"/><stop offset="0.121" stop-color="#e80000"/><stop offset="0.137" stop-color="#ee0000"/><stop offset="0.170" stop-color="#fa0000"/><stop offset="0.202" stop-color="#fd0000"/><stop offset="0.231" stop-color="#ff0100"/><stop offset="0.235" stop-color="#ff0400"/><stop offset="0.270" stop-color="#ff2100"/><stop offset="0.303" stop-color="#ff3c00"/><stop offset="0.335" stop-color="#ff5700"/><stop offset="0.368" stop-color="#ff7200"/><stop offset="0.400" stop-color="#ff8e00"/><stop offset="0.433" stop-color="#ffaa00"/><stop offset="0.465" stop-color="#ffc600"/><stop offset="0.498" stop-color="#ffe300"/><stop offset="0.530" stop-color="#feff00"/><stop offset="0.562" stop-color="#cfff00"/><stop offset="0.566" stop-color="#caff01"/><stop offset="0.595" stop-color="#94ff13"/><stop offset="0.605" stop-color="#82ff19"/><stop offset="0.627" stop-color="#4fff32"/><stop offset="0.644" stop-color="#2bff45"/><stop offset="0.660" stop-color="#16ff55"/><stop offset="0.679" stop-color="#00ff69"/><stop offset="0.692" stop-color="#00ff7a"/><stop offset="0.725" stop-color="#00ffa2"/><stop offset="0.747" stop-color="#00ffbf"/><stop offset="0.760" stop-color="#00ffca"/><stop offset="0.793" stop-color="#00ffe7"/><stop offset="0.819" stop-color="#00fffe"/><stop offset="0.825" stop-color="#00faff"/><stop offset="0.858" stop-color="#00dcff"/><stop offset="0.890" stop-color="#00beff"/><stop offset="0.923" stop-color="#00a0ff"/><stop offset="0.955" stop-color="#0083ff"/><stop offset="0.987" stop-color="#0065ff"/></linearGradient>
<linearGradient id="g61" gradientUnits="userSpaceOnUse" x1="0" y1="38.3" x2="0" y2="190.6"><stop offset="0.007" stop-color="#a60000"/><stop offset="0.040" stop-color="#b20000"/><stop offset="0.047" stop-color="#b60000"/><stop offset="0.073" stop-color="#d10000"/><stop offset="0.076" stop-color="#d40000"/><stop offset="0.106" stop-color="#e10000"/><stop offset="0.122" stop-color="#e80000"/><stop offset="0.139" stop-color="#ee0000"/><stop offset="0.172" stop-color="#fa0000"/><stop offset="0.204" stop-color="#fd0000"/><stop offset="0.234" stop-color="#ff0000"/><stop offset="0.237" stop-color="#ff0300"/><stop offset="0.270" stop-color="#ff1d00"/><stop offset="0.303" stop-color="#ff3800"/><stop offset="0.336" stop-color="#ff5300"/><stop offset="0.369" stop-color="#ff6f00"/><stop offset="0.401" stop-color="#ff8a00"/><stop offset="0.434" stop-color="#ffa600"/><stop offset="0.467" stop-color="#ffc300"/><stop offset="0.500" stop-color="#ffdf00"/><stop offset="0.529" stop-color="#fff900"/><stop offset="0.536" stop-color="#ffff00"/><stop offset="0.562" stop-color="#daff00"/><stop offset="0.572" stop-color="#ccff00"/><stop offset="0.595" stop-color="#a2ff0e"/><stop offset="0.611" stop-color="#84ff18"/><stop offset="0.628" stop-color="#60ff2a"/><stop offset="0.654" stop-color="#27ff47"/><stop offset="0.661" stop-color="#1fff4e"/><stop offset="0.687" stop-color="#01ff68"/><stop offset="0.694" stop-color="#00ff70"/><stop offset="0.726" stop-color="#00ff99"/><stop offset="0.756" stop-color="#00ffbe"/><stop offset="0.759" stop-color="#00ffc1"/><stop offset="0.792" stop-color="#00ffde"/><stop offset="0.825" stop-color="#00fffb"/><stop offset="0.831" stop-color="#00feff"/><stop offset="0.858" stop-color="#00e6ff"/><stop offset="0.890" stop-color="#00c8ff"/><stop offset="0.923" stop-color="#00aaff"/><stop offset="0.956" stop-color="#008cff"/><stop offset="0.987" stop-color="#0070ff"/></linearGradient>
<linearGradient id="g62" gradientUnits="userSpaceOnUse" x1="0" y1="38.1" x2="0" y2="188.8"><stop offset="0.008" stop-color="#a60000"/><stop offset="0.041" stop-color="#b10000"/><stop offset="0.051" stop-color="#b70000"/><stop offset="0.074" stop-color="#cf0000"/><stop offset="0.077" stop-color="#d30000"/><stop offset="0.107" stop-color="#e00000"/><stop offset="0.127" stop-color="#e80000"/><stop offset="0.137" stop-color="#ec0000"/><stop offset="0.170" stop-color="#f80000"/><stop offset="0.177" stop-color="#fa0000"/><stop offset="0.203" stop-color="#fc0000"/><stop offset="0.236" stop-color="#ff0000"/><stop offset="0.270" stop-color="#ff1a00"/><stop offset="0.303" stop-color="#ff3400"/><stop offset="0.336" stop-color="#ff5000"/><stop offset="0.369" stop-color="#ff6b00"/><stop offset="0.399" stop-color="#ff8400"/><stop offset="0.432" stop-color="#ffa000"/><stop offset="0.465" stop-color="#ffbc00"/><stop offset="0.499" stop-color="#ffd900"/><stop offset="0.532" stop-color="#fff500"/><stop offset="0.542" stop-color="#fffe00"/><stop offset="0.565" stop-color="#e0ff00"/><stop offset="0.578" stop-color="#cdff00"/><stop offset="0.598" stop-color="#a9ff0c"/><stop offset="0.621" stop-color="#7fff1b"/><stop offset="0.628" stop-color="#70ff22"/><stop offset="0.661" stop-color="#28ff46"/><stop offset="0.694" stop-color="#02ff68"/><stop offset="0.728" stop-color="#00ff90"/><stop offset="0.761" stop-color="#00ffb9"/><stop offset="0.764" stop-color="#00ffbd"/><stop offset="0.794" stop-color="#00ffd7"/><stop offset="0.827" stop-color="#00fff4"/><stop offset="0.840" stop-color="#00feff"/><stop offset="0.860" stop-color="#00ecff"/><stop offset="0.890" stop-color="#00d2ff"/><stop offset="0.923" stop-color="#00b4ff"/><stop offset="0.956" stop-color="#0096ff"/><stop offset="0.987" stop-color="#007aff"/></linearGradient>
<linearGradient id="g63" gradientUnits="userSpaceOnUse" x1="0" y1="37.9" x2="0" y2="187.1"><stop offset="0.008" stop-color="#a60000"/><stop offset="0.041" stop-color="#b00000"/><stop offset="0.051" stop-color="#b60000"/><stop offset="0.075" stop-color="#ce0000"/><stop offset="0.081" stop-color="#d40000"/><stop offset="0.108" stop-color="#df0000"/><stop offset="0.128" stop-color="#e80000"/><stop offset="0.142" stop-color="#ed0000"/><stop offset="0.179" stop-color="#fa0000"/><stop offset="0.212" stop-color="#fd0000"/><stop offset="0.242" stop-color="#ff0100"/><stop offset="0.246" stop-color="#ff0400"/><stop offset="0.279" stop-color="#ff1e00"/><stop offset="0.313" stop-color="#ff3900"/><stop offset="0.346" stop-color="#ff5400"/><stop offset="0.380" stop-color="#ff7000"/><stop offset="0.413" stop-color="#ff8c00"/><stop offset="0.447" stop-color="#ffa800"/><stop offset="0.480" stop-color="#ffc400"/><stop offset="0.517" stop-color="#ffe300"/><stop offset="0.551" stop-color="#fdff00"/><stop offset="0.584" stop-color="#cfff00"/><stop offset="0.618" stop-color="#93ff13"/><stop offset="0.628" stop-color="#80ff1a"/><stop offset="0.651" stop-color="#4eff33"/><stop offset="0.668" stop-color="#29ff45"/><stop offset="0.685" stop-color="#16ff56"/><stop offset="0.705" stop-color="#00ff6a"/><stop offset="0.718" stop-color="#00ff7b"/><stop offset="0.752" stop-color="#00ffa3"/><stop offset="0.775" stop-color="#00ffbf"/><stop offset="0.785" stop-color="#00ffc8"/><stop offset="0.819" stop-color="#00ffe5"/><stop offset="0.849" stop-color="#00ffff"/><stop offset="0.856" stop-color="#00f9ff"/><stop offset="0.889" stop-color="#00dbff"/><stop offset="0.923" stop-color="#00beff"/><stop offset="0.956" stop-color="#00a0ff"/><stop offset="0.987" stop-color="#0084ff"/></linearGradient>
<linearGradient id="g64" gradientUnits="userSpaceOnUse" x1="0" y1="37.8" x2="0" y2="185.4"><stop offset="0.008" stop-color="#a60000"/><stop offset="0.042" stop-color="#b00000"/><stop offset="0.055" stop-color="#b70000"/><stop offset="0.075" stop-color="#cc0000"/><stop offset="0.082" stop-color="#d30000"/><stop offset="0.109" stop-color="#df0000"/><stop offset="0.130" stop-color="#e70000"/><stop offset="0.143" stop-color="#ec0000"/><stop offset="0.177" stop-color="#f80000"/><stop offset="0.184" stop-color="#fa0000"/><stop offset="0.211" stop-color="#fc0000"/><stop offset="0.245" stop-color="#ff0000"/><stop offset="0.279" stop-color="#ff1b00"/><stop offset="0.312" stop-color="#ff3500"/><stop offset="0.346" stop-color="#ff5100"/><stop offset="0.380" stop-color="#ff6c00"/><stop offset="0.414" stop-color="#ff8800"/><stop offset="0.448" stop-color="#ffa400"/><stop offset="0.482" stop-color="#ffc000"/><stop offset="0.516" stop-color="#ffdd00"/><stop offset="0.549" stop-color="#fffa00"/><stop offset="0.556" stop-color="#feff00"/><stop offset="0.583" stop-color="#d9ff00"/><stop offset="0.593" stop-color="#cbff01"/><stop offset="0.617" stop-color="#a0ff0f"/><stop offset="0.634" stop-color="#82ff19"/><stop offset="0.651" stop-color="#5eff2b"/><stop offset="0.675" stop-color="#2bff45"/><stop offset="0.685" stop-color="#1eff4f"/><stop offset="0.712" stop-color="#00ff69"/><stop offset="0.719" stop-color="#00ff72"/><stop offset="0.753" stop-color="#00ff9a"/><stop offset="0.783" stop-color="#00ffbf"/><stop offset="0.786" stop-color="#00ffc2"/><stop offset="0.820" stop-color="#00ffde"/><stop offset="0.854" stop-color="#00fffb"/><stop offset="0.858" stop-color="#00fffe"/><stop offset="0.888" stop-color="#00e5ff"/><stop offset="0.922" stop-color="#00c7ff"/><stop offset="0.956" stop-color="#00a9ff"/><stop offset="0.987" stop-color="#008dff"/></linearGradient>
<linearGradient id="g65" gradientUnits="userSpaceOnUse" x1="0" y1="37.6" x2="0" y2="183.9"><stop offset="0.008" stop-color="#a60000"/><stop offset="0.042" stop-color="#af0000"/><stop offset="0.056" stop-color="#b60000"/><stop offset="0.076" stop-color="#ca0000"/><stop offset="0.086" stop-color="#d50000"/><stop offset="0.110" stop-color="#de0000"/><stop offset="0.134" stop-color="#e80000"/><stop offset="0.144" stop-color="#ec0000"/><stop offset="0.175" stop-color="#f60000"/><stop offset="0.186" stop-color="#fa0000"/><stop offset="0.209" stop-color="#fc0000"/><stop offset="0.244" stop-color="#ff0000"/><stop offset="0.247" stop-color="#ff0000"/><stop offset="0.278" stop-color="#ff1700"/><stop offset="0.312" stop-color="#ff3200"/><stop offset="0.346" stop-color="#ff4d00"/><stop offset="0.380" stop-color="#ff6900"/><stop offset="0.415" stop-color="#ff8400"/><stop offset="0.449" stop-color="#ffa000"/><stop offset="0.483" stop-color="#ffbd00"/><stop offset="0.514" stop-color="#ffd600"/><stop offset="0.548" stop-color="#fff300"/><stop offset="0.562" stop-color="#ffff00"/><stop offset="0.582" stop-color="#e4ff00"/><stop offset="0.599" stop-color="#ccff00"/><stop offset="0.616" stop-color="#aeff0a"/><stop offset="0.640" stop-color="#84ff18"/><stop offset="0.650" stop-color="#6eff23"/><stop offset="0.685" stop-color="#26ff47"/><stop offset="0.719" stop-color="#00ff69"/><stop offset="0.753" stop-color="#00ff91"/><stop offset="0.787" stop-color="#00ffba"/><stop offset="0.791" stop-color="#00ffbe"/><stop offset="0.821" stop-color="#00ffd8"/><stop offset="0.852" stop-color="#00fff2"/><stop offset="0.866" stop-color="#00fffe"/><stop offset="0.886" stop-color="#00eeff"/><stop offset="0.920" stop-color="#00d1ff"/><stop offset="0.955" stop-color="#00b3ff"/><stop offset="0.988" stop-color="#0096ff"/></linearGradient>
<linearGradient id="g66" gradientUnits="userSpaceOnUse" x1="0" y1="37.4" x2="0" y2="182.4"><stop offset="0.008" stop-color="#a60000"/><stop offset="0.042" stop-color="#ae0000"/><stop offset="0.060" stop-color="#b70000"/><stop offset="0.077" stop-color="#c90000"/><stop offset="0.087" stop-color="#d40000"/><stop offset="0.115" stop-color="#df0000"/><stop offset="0.135" stop-color="#e80000"/><stop offset="0.149" stop-color="#ec0000"/><stop offset="0.184" stop-color="#f80000"/><stop offset="0.187" stop-color="#fa0000"/><stop offset="0.218" stop-color="#fc0000"/><stop offset="0.253" stop-color="#ff0100"/><stop offset="0.287" stop-color="#ff1c00"/><stop offset="0.325" stop-color="#ff3900"/><stop offset="0.360" stop-color="#ff5500"/><stop offset="0.394" stop-color="#ff7000"/><stop offset="0.429" stop-color="#ff8c00"/><stop offset="0.463" stop-color="#ffa800"/><stop offset="0.498" stop-color="#ffc500"/><stop offset="0.536" stop-color="#ffe400"/><stop offset="0.567" stop-color="#fffe00"/><stop offset="0.570" stop-color="#fcff00"/><stop offset="0.605" stop-color="#cdff00"/><stop offset="0.639" stop-color="#91ff14"/><stop offset="0.646" stop-color="#85ff18"/><stop offset="0.674" stop-color="#4bff34"/><stop offset="0.691" stop-color="#27ff47"/><stop offset="0.712" stop-color="#10ff5b"/><stop offset="0.725" stop-color="#01ff68"/><stop offset="0.746" stop-color="#00ff80"/><stop offset="0.781" stop-color="#00ffa9"/><stop offset="0.798" stop-color="#00ffbd"/><stop offset="0.815" stop-color="#00ffcc"/><stop offset="0.850" stop-color="#00ffe9"/><stop offset="0.877" stop-color="#00feff"/><stop offset="0.884" stop-color="#00f8ff"/><stop offset="0.922" stop-color="#00d7ff"/><stop offset="0.957" stop-color="#00b9ff"/><stop offset="0.988" stop-color="#009fff"/></linearGradient>
<linearGradient id="g67" gradientUnits="userSpaceOnUse" x1="0" y1="37.3" x2="0" y2="180.9"><stop offset="0.008" stop-color="#a60000"/><stop offset="0.043" stop-color="#ad0000"/><stop offset="0.060" stop-color="#b60000"/><stop offset="0.078" stop-color="#c70000"/><stop offset="0.088" stop-color="#d20000"/><stop offset="0.112" stop-color="#dd0000"/><stop offset="0.140" stop-color="#e80000"/><stop offset="0.147" stop-color="#eb0000"/><stop offset="0.182" stop-color="#f70000"/><stop offset="0.192" stop-color="#fa0000"/><stop offset="0.217" stop-color="#fc0000"/><stop offset="0.252" stop-color="#ff0000"/><stop offset="0.255" stop-color="#ff0000"/><stop offset="0.290" stop-color="#ff1b00"/><stop offset="0.325" stop-color="#ff3600"/><stop offset="0.359" stop-color="#ff5100"/><stop offset="0.394" stop-color="#ff6d00"/><stop offset="0.429" stop-color="#ff8800"/><stop offset="0.464" stop-color="#ffa500"/><stop offset="0.499" stop-color="#ffc100"/><stop offset="0.534" stop-color="#ffde00"/><stop offset="0.568" stop-color="#fffb00"/><stop offset="0.575" stop-color="#fdff00"/><stop offset="0.603" stop-color="#d8ff00"/><stop offset="0.610" stop-color="#ceff00"/><stop offset="0.638" stop-color="#9eff10"/><stop offset="0.655" stop-color="#80ff1a"/><stop offset="0.673" stop-color="#5bff2c"/><stop offset="0.697" stop-color="#28ff46"/><stop offset="0.708" stop-color="#1dff50"/><stop offset="0.732" stop-color="#02ff67"/><stop offset="0.746" stop-color="#00ff77"/><stop offset="0.781" stop-color="#00ffa0"/><stop offset="0.805" stop-color="#00ffbd"/><stop offset="0.815" stop-color="#00ffc6"/><stop offset="0.850" stop-color="#00ffe3"/><stop offset="0.885" stop-color="#00feff"/><stop offset="0.920" stop-color="#00e1ff"/><stop offset="0.955" stop-color="#00c3ff"/><stop offset="0.988" stop-color="#00a7ff"/></linearGradient>
<linearGradient id="g68" gradientUnits="userSpaceOnUse" x1="0" y1="37.1" x2="0" y2="179.5"><stop offset="0.008" stop-color="#a60000"/><stop offset="0.043" stop-color="#ac0000"/><stop offset="0.064" stop-color="#b80000"/><stop offset="0.078" stop-color="#c50000"/><stop offset="0.092" stop-color="#d40000"/><stop offset="0.113" stop-color="#dc0000"/><stop offset="0.141" stop-color="#e80000"/><stop offset="0.148" stop-color="#ea0000"/><stop offset="0.183" stop-color="#f60000"/><stop offset="0.194" stop-color="#fa0000"/><stop offset="0.219" stop-color="#fc0000"/><stop offset="0.254" stop-color="#ff0000"/><stop offset="0.257" stop-color="#ff0000"/><stop offset="0.289" stop-color="#ff1700"/><stop offset="0.324" stop-color="#ff3200"/><stop offset="0.359" stop-color="#ff4e00"/><stop offset="0.394" stop-color="#ff6900"/><stop offset="0.429" stop-color="#ff8500"/><stop offset="0.464" stop-color="#ffa100"/><stop offset="0.499" stop-color="#ffbe00"/><stop offset="0.535" stop-color="#ffda00"/><stop offset="0.570" stop-color="#fff700"/><stop offset="0.580" stop-color="#feff00"/><stop offset="0.605" stop-color="#ddff00"/><stop offset="0.615" stop-color="#cfff00"/><stop offset="0.640" stop-color="#a5ff0d"/><stop offset="0.661" stop-color="#81ff1a"/><stop offset="0.675" stop-color="#64ff28"/><stop offset="0.703" stop-color="#29ff45"/><stop offset="0.710" stop-color="#21ff4c"/><stop offset="0.742" stop-color="#00ff6a"/><stop offset="0.745" stop-color="#00ff6e"/><stop offset="0.780" stop-color="#00ff97"/><stop offset="0.815" stop-color="#00ffbf"/><stop offset="0.851" stop-color="#00ffdc"/><stop offset="0.886" stop-color="#00fff9"/><stop offset="0.893" stop-color="#00ffff"/><stop offset="0.921" stop-color="#00e7ff"/><stop offset="0.956" stop-color="#00c9ff"/><stop offset="0.988" stop-color="#00aeff"/></linearGradient>
<linearGradient id="g69" gradientUnits="userSpaceOnUse" x1="0" y1="36.9" x2="0" y2="178.2"><stop offset="0.008" stop-color="#a60000"/><stop offset="0.043" stop-color="#ab0000"/><stop offset="0.065" stop-color="#b60000"/><stop offset="0.079" stop-color="#c40000"/><stop offset="0.093" stop-color="#d30000"/><stop offset="0.114" stop-color="#dc0000"/><stop offset="0.143" stop-color="#e70000"/><stop offset="0.150" stop-color="#ea0000"/><stop offset="0.181" stop-color="#f50000"/><stop offset="0.196" stop-color="#fa0000"/><stop offset="0.217" stop-color="#fc0000"/><stop offset="0.252" stop-color="#fe0000"/><stop offset="0.263" stop-color="#ff0100"/><stop offset="0.288" stop-color="#ff1400"/><stop offset="0.323" stop-color="#ff2f00"/><stop offset="0.359" stop-color="#ff4a00"/><stop offset="0.394" stop-color="#ff6600"/><stop offset="0.429" stop-color="#ff8200"/><stop offset="0.465" stop-color="#ff9e00"/><stop offset="0.497" stop-color="#ffb700"/><stop offset="0.532" stop-color="#ffd400"/><stop offset="0.567" stop-color="#fff100"/><stop offset="0.585" stop-color="#ffff00"/><stop offset="0.603" stop-color="#e7ff00"/><stop offset="0.624" stop-color="#cbff01"/><stop offset="0.638" stop-color="#b3ff09"/><stop offset="0.667" stop-color="#82ff19"/><stop offset="0.674" stop-color="#74ff20"/><stop offset="0.709" stop-color="#2aff45"/><stop offset="0.744" stop-color="#03ff66"/><stop offset="0.748" stop-color="#00ff6a"/><stop offset="0.780" stop-color="#00ff8e"/><stop offset="0.815" stop-color="#00ffb7"/><stop offset="0.822" stop-color="#00ffbf"/><stop offset="0.847" stop-color="#00ffd3"/><stop offset="0.883" stop-color="#00fff0"/><stop offset="0.900" stop-color="#00ffff"/><stop offset="0.918" stop-color="#00f0ff"/><stop offset="0.953" stop-color="#00d3ff"/><stop offset="0.988" stop-color="#00b6ff"/></linearGradient>
<linearGradient id="g70" gradientUnits="userSpaceOnUse" x1="0" y1="36.8" x2="0" y2="176.9"><stop offset="0.008" stop-color="#a60000"/><stop offset="0.044" stop-color="#aa0000"/><stop offset="0.069" stop-color="#b80000"/><stop offset="0.079" stop-color="#c20000"/><stop offset="0.097" stop-color="#d40000"/><stop offset="0.119" stop-color="#dd0000"/><stop offset="0.147" stop-color="#e80000"/><stop offset="0.154" stop-color="#eb0000"/><stop offset="0.190" stop-color="#f70000"/><stop offset="0.201" stop-color="#fa0000"/><stop offset="0.226" stop-color="#fc0000"/><stop offset="0.261" stop-color="#ff0000"/><stop offset="0.265" stop-color="#ff0100"/><stop offset="0.297" stop-color="#ff1800"/><stop offset="0.336" stop-color="#ff3600"/><stop offset="0.372" stop-color="#ff5200"/><stop offset="0.408" stop-color="#ff6d00"/><stop offset="0.444" stop-color="#ff8900"/><stop offset="0.479" stop-color="#ffa600"/><stop offset="0.518" stop-color="#ffc500"/><stop offset="0.554" stop-color="#ffe200"/><stop offset="0.590" stop-color="#ffff00"/><stop offset="0.626" stop-color="#d1ff00"/><stop offset="0.629" stop-color="#ccff00"/><stop offset="0.661" stop-color="#95ff13"/><stop offset="0.672" stop-color="#83ff19"/><stop offset="0.700" stop-color="#49ff36"/><stop offset="0.718" stop-color="#26ff48"/><stop offset="0.736" stop-color="#13ff58"/><stop offset="0.754" stop-color="#00ff69"/><stop offset="0.772" stop-color="#00ff7d"/><stop offset="0.808" stop-color="#00ffa6"/><stop offset="0.829" stop-color="#00ffbe"/><stop offset="0.843" stop-color="#00ffca"/><stop offset="0.879" stop-color="#00ffe7"/><stop offset="0.908" stop-color="#00fffe"/><stop offset="0.918" stop-color="#00f7ff"/><stop offset="0.954" stop-color="#00d9ff"/><stop offset="0.988" stop-color="#00bdff"/></linearGradient>
<linearGradient id="g71" gradientUnits="userSpaceOnUse" x1="0" y1="36.6" x2="0" y2="175.6"><stop offset="0.008" stop-color="#a60000"/><stop offset="0.044" stop-color="#aa0000"/><stop offset="0.069" stop-color="#b60000"/><stop offset="0.080" stop-color="#c10000"/><stop offset="0.098" stop-color="#d30000"/><stop offset="0.116" stop-color="#db0000"/><stop offset="0.148" stop-color="#e80000"/><stop offset="0.152" stop-color="#e90000"/><stop offset="0.192" stop-color="#f60000"/><stop offset="0.202" stop-color="#fa0000"/><stop offset="0.228" stop-color="#fc0000"/><stop offset="0.264" stop-color="#ff0000"/><stop offset="0.267" stop-color="#ff0000"/><stop offset="0.300" stop-color="#ff1800"/><stop offset="0.335" stop-color="#ff3300"/><stop offset="0.371" stop-color="#ff4e00"/><stop offset="0.407" stop-color="#ff6a00"/><stop offset="0.443" stop-color="#ff8600"/><stop offset="0.479" stop-color="#ffa200"/><stop offset="0.519" stop-color="#ffc100"/><stop offset="0.555" stop-color="#ffde00"/><stop offset="0.591" stop-color="#fffb00"/><stop offset="0.594" stop-color="#fffe00"/><stop offset="0.627" stop-color="#d6ff00"/><stop offset="0.634" stop-color="#cdff00"/><stop offset="0.663" stop-color="#9cff10"/><stop offset="0.677" stop-color="#84ff18"/><stop offset="0.699" stop-color="#59ff2e"/><stop offset="0.724" stop-color="#27ff47"/><stop offset="0.735" stop-color="#1bff51"/><stop offset="0.760" stop-color="#01ff69"/><stop offset="0.771" stop-color="#00ff75"/><stop offset="0.807" stop-color="#00ff9d"/><stop offset="0.836" stop-color="#00ffbe"/><stop offset="0.846" stop-color="#00ffc7"/><stop offset="0.882" stop-color="#00ffe4"/><stop offset="0.915" stop-color="#00fffe"/><stop offset="0.918" stop-color="#00fdff"/><stop offset="0.954" stop-color="#00dfff"/><stop offset="0.988" stop-color="#00c4ff"/></linearGradient>
<linearGradient id="g72" gradientUnits="userSpaceOnUse" x1="0" y1="36.5" x2="0" y2="174.4"><stop offset="0.008" stop-color="#a60000"/><stop offset="0.044" stop-color="#a90000"/><stop offset="0.073" stop-color="#b80000"/><stop offset="0.081" stop-color="#bf0000"/><stop offset="0.102" stop-color="#d40000"/><stop offset="0.117" stop-color="#da0000"/><stop offset="0.153" stop-color="#e90000"/><stop offset="0.189" stop-color="#f50000"/><stop offset="0.204" stop-color="#fa0000"/><stop offset="0.226" stop-color="#fc0000"/><stop offset="0.262" stop-color="#fe0000"/><stop offset="0.269" stop-color="#ff0000"/><stop offset="0.298" stop-color="#ff1400"/><stop offset="0.334" stop-color="#ff2f00"/><stop offset="0.371" stop-color="#ff4b00"/><stop offset="0.407" stop-color="#ff6700"/><stop offset="0.443" stop-color="#ff8200"/><stop offset="0.479" stop-color="#ff9f00"/><stop offset="0.519" stop-color="#ffbe00"/><stop offset="0.556" stop-color="#ffdb00"/><stop offset="0.592" stop-color="#fff800"/><stop offset="0.599" stop-color="#fffe00"/><stop offset="0.628" stop-color="#dcff00"/><stop offset="0.639" stop-color="#ceff00"/><stop offset="0.664" stop-color="#a3ff0e"/><stop offset="0.686" stop-color="#7eff1b"/><stop offset="0.701" stop-color="#61ff29"/><stop offset="0.730" stop-color="#27ff47"/><stop offset="0.737" stop-color="#20ff4d"/><stop offset="0.766" stop-color="#01ff68"/><stop offset="0.773" stop-color="#00ff70"/><stop offset="0.809" stop-color="#00ff99"/><stop offset="0.842" stop-color="#00ffbe"/><stop offset="0.846" stop-color="#00ffc1"/><stop offset="0.882" stop-color="#00ffde"/><stop offset="0.918" stop-color="#00fffb"/><stop offset="0.925" stop-color="#00feff"/><stop offset="0.954" stop-color="#00e6ff"/><stop offset="0.988" stop-color="#00caff"/></linearGradient>
<linearGradient id="g73" gradientUnits="userSpaceOnUse" x1="0" y1="36.3" x2="0" y2="173.2"><stop offset="0.008" stop-color="#a60000"/><stop offset="0.045" stop-color="#a80000"/><stop offset="0.074" stop-color="#b70000"/><stop offset="0.081" stop-color="#bd0000"/><stop offset="0.103" stop-color="#d40000"/><stop offset="0.118" stop-color="#d90000"/><stop offset="0.154" stop-color="#e80000"/><stop offset="0.191" stop-color="#f40000"/><stop offset="0.209" stop-color="#fa0000"/><stop offset="0.227" stop-color="#fb0000"/><stop offset="0.264" stop-color="#fe0000"/><stop offset="0.275" stop-color="#ff0100"/><stop offset="0.300" stop-color="#ff1400"/><stop offset="0.337" stop-color="#ff2f00"/><stop offset="0.373" stop-color="#ff4a00"/><stop offset="0.410" stop-color="#ff6600"/><stop offset="0.446" stop-color="#ff8200"/><stop offset="0.483" stop-color="#ff9e00"/><stop offset="0.516" stop-color="#ffb800"/><stop offset="0.552" stop-color="#ffd500"/><stop offset="0.589" stop-color="#fff200"/><stop offset="0.607" stop-color="#fdff00"/><stop offset="0.625" stop-color="#e6ff00"/><stop offset="0.644" stop-color="#ceff00"/><stop offset="0.662" stop-color="#b0ff0a"/><stop offset="0.691" stop-color="#7fff1a"/><stop offset="0.698" stop-color="#71ff22"/><stop offset="0.735" stop-color="#28ff46"/><stop offset="0.772" stop-color="#02ff68"/><stop offset="0.808" stop-color="#00ff90"/><stop offset="0.845" stop-color="#00ffb9"/><stop offset="0.848" stop-color="#00ffbd"/><stop offset="0.881" stop-color="#00ffd7"/><stop offset="0.918" stop-color="#00fff4"/><stop offset="0.932" stop-color="#00feff"/><stop offset="0.954" stop-color="#00ecff"/><stop offset="0.988" stop-color="#00d0ff"/></linearGradient>
<linearGradient id="g74" gradientUnits="userSpaceOnUse" x1="0" y1="36.2" x2="0" y2="172.1"><stop offset="0.008" stop-color="#a60000"/><stop offset="0.045" stop-color="#a70000"/><stop offset="0.078" stop-color="#b80000"/><stop offset="0.082" stop-color="#bc0000"/><stop offset="0.104" stop-color="#d20000"/><stop offset="0.119" stop-color="#d90000"/><stop offset="0.155" stop-color="#e80000"/><stop offset="0.189" stop-color="#f30000"/><stop offset="0.211" stop-color="#fa0000"/><stop offset="0.225" stop-color="#fb0000"/><stop offset="0.262" stop-color="#fe0000"/><stop offset="0.277" stop-color="#ff0000"/><stop offset="0.299" stop-color="#ff1000"/><stop offset="0.336" stop-color="#ff2b00"/><stop offset="0.372" stop-color="#ff4700"/><stop offset="0.409" stop-color="#ff6300"/><stop offset="0.446" stop-color="#ff7f00"/><stop offset="0.483" stop-color="#ff9b00"/><stop offset="0.516" stop-color="#ffb400"/><stop offset="0.553" stop-color="#ffd100"/><stop offset="0.590" stop-color="#ffee00"/><stop offset="0.612" stop-color="#feff00"/><stop offset="0.626" stop-color="#ebff00"/><stop offset="0.648" stop-color="#cfff00"/><stop offset="0.663" stop-color="#b7ff07"/><stop offset="0.696" stop-color="#80ff1a"/><stop offset="0.700" stop-color="#79ff1d"/><stop offset="0.737" stop-color="#30ff42"/><stop offset="0.740" stop-color="#28ff46"/><stop offset="0.773" stop-color="#06ff64"/><stop offset="0.781" stop-color="#00ff6b"/><stop offset="0.810" stop-color="#00ff8c"/><stop offset="0.843" stop-color="#00ffb0"/><stop offset="0.854" stop-color="#00ffbd"/><stop offset="0.880" stop-color="#00ffd1"/><stop offset="0.917" stop-color="#00ffee"/><stop offset="0.939" stop-color="#00feff"/><stop offset="0.954" stop-color="#00f2ff"/><stop offset="0.988" stop-color="#00d7ff"/></linearGradient>
<linearGradient id="g75" gradientUnits="userSpaceOnUse" x1="0" y1="36.0" x2="0" y2="171.0"><stop offset="0.008" stop-color="#a60000"/><stop offset="0.045" stop-color="#a60000"/><stop offset="0.079" stop-color="#b70000"/><stop offset="0.082" stop-color="#ba0000"/><stop offset="0.108" stop-color="#d40000"/><stop offset="0.123" stop-color="#da0000"/><stop offset="0.160" stop-color="#e80000"/><stop offset="0.197" stop-color="#f50000"/><stop offset="0.212" stop-color="#fa0000"/><stop offset="0.234" stop-color="#fc0000"/><stop offset="0.271" stop-color="#fe0000"/><stop offset="0.279" stop-color="#ff0000"/><stop offset="0.312" stop-color="#ff1800"/><stop offset="0.349" stop-color="#ff3300"/><stop offset="0.386" stop-color="#ff4e00"/><stop offset="0.423" stop-color="#ff6a00"/><stop offset="0.460" stop-color="#ff8600"/><stop offset="0.497" stop-color="#ffa300"/><stop offset="0.538" stop-color="#ffc200"/><stop offset="0.575" stop-color="#ffdf00"/><stop offset="0.612" stop-color="#fffc00"/><stop offset="0.616" stop-color="#ffff00"/><stop offset="0.649" stop-color="#d4ff00"/><stop offset="0.657" stop-color="#caff01"/><stop offset="0.686" stop-color="#9aff11"/><stop offset="0.701" stop-color="#81ff19"/><stop offset="0.727" stop-color="#4eff33"/><stop offset="0.746" stop-color="#29ff45"/><stop offset="0.764" stop-color="#16ff56"/><stop offset="0.786" stop-color="#00ff6a"/><stop offset="0.801" stop-color="#00ff7b"/><stop offset="0.838" stop-color="#00ffa4"/><stop offset="0.860" stop-color="#00ffbc"/><stop offset="0.875" stop-color="#00ffc8"/><stop offset="0.916" stop-color="#00ffe8"/><stop offset="0.946" stop-color="#00ffff"/><stop offset="0.953" stop-color="#00f9ff"/><stop offset="0.988" stop-color="#00ddff"/></linearGradient>
<linearGradient id="g76" gradientUnits="userSpaceOnUse" x1="0" y1="35.9" x2="0" y2="169.9"><stop offset="0.008" stop-color="#a60000"/><stop offset="0.046" stop-color="#a60000"/><stop offset="0.079" stop-color="#b60000"/><stop offset="0.083" stop-color="#b90000"/><stop offset="0.109" stop-color="#d30000"/><stop offset="0.120" stop-color="#d80000"/><stop offset="0.158" stop-color="#e70000"/><stop offset="0.161" stop-color="#e80000"/><stop offset="0.199" stop-color="#f40000"/><stop offset="0.217" stop-color="#fa0000"/><stop offset="0.236" stop-color="#fb0000"/><stop offset="0.273" stop-color="#fe0000"/><stop offset="0.281" stop-color="#ff0000"/><stop offset="0.311" stop-color="#ff1400"/><stop offset="0.348" stop-color="#ff3000"/><stop offset="0.385" stop-color="#ff4b00"/><stop offset="0.423" stop-color="#ff6700"/><stop offset="0.460" stop-color="#ff8300"/><stop offset="0.501" stop-color="#ffa200"/><stop offset="0.538" stop-color="#ffbf00"/><stop offset="0.575" stop-color="#ffdc00"/><stop offset="0.613" stop-color="#fff900"/><stop offset="0.620" stop-color="#ffff00"/><stop offset="0.650" stop-color="#daff00"/><stop offset="0.661" stop-color="#cbff01"/><stop offset="0.687" stop-color="#a1ff0f"/><stop offset="0.706" stop-color="#82ff19"/><stop offset="0.725" stop-color="#5eff2b"/><stop offset="0.751" stop-color="#2aff45"/><stop offset="0.762" stop-color="#1eff4f"/><stop offset="0.792" stop-color="#00ff6a"/><stop offset="0.799" stop-color="#00ff72"/><stop offset="0.840" stop-color="#00ff9f"/><stop offset="0.870" stop-color="#00ffbf"/><stop offset="0.878" stop-color="#00ffc5"/><stop offset="0.915" stop-color="#00ffe2"/><stop offset="0.952" stop-color="#00ffff"/><stop offset="0.988" stop-color="#00e2ff"/></linearGradient>
<linearGradient id="g77" gradientUnits="userSpaceOnUse" x1="0" y1="35.7" x2="0" y2="168.8"><stop offset="0.008" stop-color="#a70000"/><stop offset="0.046" stop-color="#a60000"/><stop offset="0.084" stop-color="#b80000"/><stop offset="0.114" stop-color="#d50000"/><stop offset="0.121" stop-color="#d70000"/><stop offset="0.159" stop-color="#e60000"/><stop offset="0.162" stop-color="#e80000"/><stop offset="0.196" stop-color="#f30000"/><stop offset="0.219" stop-color="#fa0000"/><stop offset="0.234" stop-color="#fb0000"/><stop offset="0.271" stop-color="#fe0000"/><stop offset="0.286" stop-color="#ff0100"/><stop offset="0.309" stop-color="#ff1100"/><stop offset="0.347" stop-color="#ff2c00"/><stop offset="0.384" stop-color="#ff4800"/><stop offset="0.422" stop-color="#ff6400"/><stop offset="0.459" stop-color="#ff8000"/><stop offset="0.497" stop-color="#ff9c00"/><stop offset="0.538" stop-color="#ffbc00"/><stop offset="0.576" stop-color="#ffd900"/><stop offset="0.613" stop-color="#fff600"/><stop offset="0.624" stop-color="#fffe00"/><stop offset="0.651" stop-color="#dfff00"/><stop offset="0.666" stop-color="#ccff00"/><stop offset="0.688" stop-color="#a8ff0c"/><stop offset="0.711" stop-color="#83ff19"/><stop offset="0.726" stop-color="#66ff27"/><stop offset="0.756" stop-color="#2bff44"/><stop offset="0.763" stop-color="#22ff4b"/><stop offset="0.797" stop-color="#00ff6a"/><stop offset="0.801" stop-color="#00ff6e"/><stop offset="0.839" stop-color="#00ff96"/><stop offset="0.876" stop-color="#00ffbf"/><stop offset="0.914" stop-color="#00ffdc"/><stop offset="0.951" stop-color="#00fff9"/><stop offset="0.959" stop-color="#00ffff"/><stop offset="0.988" stop-color="#00e8ff"/></linearGradient>
<linearGradient id="g78" gradientUnits="userSpaceOnUse" x1="0" y1="35.6" x2="0" y2="167.8"><stop offset="0.008" stop-color="#a70000"/><stop offset="0.046" stop-color="#a60000"/><stop offset="0.084" stop-color="#b60000"/><stop offset="0.114" stop-color="#d40000"/><stop offset="0.122" stop-color="#d70000"/><stop offset="0.160" stop-color="#e60000"/><stop offset="0.167" stop-color="#e90000"/><stop offset="0.198" stop-color="#f20000"/><stop offset="0.220" stop-color="#fa0000"/><stop offset="0.235" stop-color="#fb0000"/><stop offset="0.273" stop-color="#fe0000"/><stop offset="0.288" stop-color="#ff0000"/><stop offset="0.311" stop-color="#ff1000"/><stop offset="0.349" stop-color="#ff2c00"/><stop offset="0.387" stop-color="#ff4700"/><stop offset="0.424" stop-color="#ff6300"/><stop offset="0.462" stop-color="#ff7f00"/><stop offset="0.500" stop-color="#ff9c00"/><stop offset="0.538" stop-color="#ffb800"/><stop offset="0.576" stop-color="#ffd500"/><stop offset="0.614" stop-color="#fff200"/><stop offset="0.629" stop-color="#fffe00"/><stop offset="0.651" stop-color="#e4ff00"/><stop offset="0.670" stop-color="#cdff00"/><stop offset="0.689" stop-color="#aeff0a"/><stop offset="0.716" stop-color="#84ff18"/><stop offset="0.727" stop-color="#6eff23"/><stop offset="0.765" stop-color="#26ff48"/><stop offset="0.803" stop-color="#00ff69"/><stop offset="0.840" stop-color="#00ff92"/><stop offset="0.878" stop-color="#00ffbb"/><stop offset="0.882" stop-color="#00ffbf"/><stop offset="0.916" stop-color="#00ffd9"/><stop offset="0.954" stop-color="#00fff6"/><stop offset="0.965" stop-color="#00ffff"/><stop offset="0.988" stop-color="#00edff"/></linearGradient>
<linearGradient id="g79" gradientUnits="userSpaceOnUse" x1="0" y1="35.4" x2="0" y2="166.8"><stop offset="0.009" stop-color="#a70000"/><stop offset="0.047" stop-color="#a60000"/><stop offset="0.085" stop-color="#b60000"/><stop offset="0.088" stop-color="#b80000"/><stop offset="0.115" stop-color="#d30000"/><stop offset="0.123" stop-color="#d60000"/><stop offset="0.161" stop-color="#e50000"/><stop offset="0.168" stop-color="#e80000"/><stop offset="0.199" stop-color="#f20000"/><stop offset="0.222" stop-color="#f90000"/><stop offset="0.237" stop-color="#fb0000"/><stop offset="0.271" stop-color="#fe0000"/><stop offset="0.290" stop-color="#ff0000"/><stop offset="0.309" stop-color="#ff0d00"/><stop offset="0.347" stop-color="#ff2800"/><stop offset="0.385" stop-color="#ff4400"/><stop offset="0.423" stop-color="#ff6000"/><stop offset="0.462" stop-color="#ff7c00"/><stop offset="0.500" stop-color="#ff9800"/><stop offset="0.538" stop-color="#ffb500"/><stop offset="0.576" stop-color="#ffd200"/><stop offset="0.614" stop-color="#ffef00"/><stop offset="0.633" stop-color="#fffe00"/><stop offset="0.652" stop-color="#eaff00"/><stop offset="0.675" stop-color="#cdff00"/><stop offset="0.690" stop-color="#b5ff08"/><stop offset="0.720" stop-color="#84ff18"/><stop offset="0.728" stop-color="#76ff1f"/><stop offset="0.762" stop-color="#34ff40"/><stop offset="0.770" stop-color="#27ff47"/><stop offset="0.800" stop-color="#08ff62"/><stop offset="0.808" stop-color="#00ff69"/><stop offset="0.838" stop-color="#00ff89"/><stop offset="0.876" stop-color="#00ffb2"/><stop offset="0.888" stop-color="#00ffbe"/><stop offset="0.914" stop-color="#00ffd3"/><stop offset="0.953" stop-color="#00fff0"/><stop offset="0.972" stop-color="#00fffe"/><stop offset="0.988" stop-color="#00f3ff"/></linearGradient>
<linearGradient id="g80" gradientUnits="userSpaceOnUse" x1="0" y1="35.3" x2="0" y2="165.8"><stop offset="0.009" stop-color="#a70000"/><stop offset="0.047" stop-color="#a60000"/><stop offset="0.085" stop-color="#b50000"/><stop offset="0.089" stop-color="#b70000"/><stop offset="0.120" stop-color="#d50000"/><stop offset="0.124" stop-color="#d60000"/><stop offset="0.158" stop-color="#e30000"/><stop offset="0.170" stop-color="#e80000"/><stop offset="0.196" stop-color="#f00000"/><stop offset="0.227" stop-color="#fa0000"/><stop offset="0.235" stop-color="#fb0000"/><stop offset="0.273" stop-color="#fd0000"/><stop offset="0.292" stop-color="#ff0000"/><stop offset="0.311" stop-color="#ff0c00"/><stop offset="0.350" stop-color="#ff2800"/><stop offset="0.384" stop-color="#ff4000"/><stop offset="0.422" stop-color="#ff5c00"/><stop offset="0.461" stop-color="#ff7900"/><stop offset="0.499" stop-color="#ff9500"/><stop offset="0.537" stop-color="#ffb200"/><stop offset="0.576" stop-color="#ffcf00"/><stop offset="0.614" stop-color="#ffec00"/><stop offset="0.641" stop-color="#fdff00"/><stop offset="0.648" stop-color="#f4ff00"/><stop offset="0.679" stop-color="#ceff00"/><stop offset="0.687" stop-color="#c2ff04"/><stop offset="0.725" stop-color="#85ff18"/><stop offset="0.763" stop-color="#3cff3c"/><stop offset="0.775" stop-color="#27ff47"/><stop offset="0.802" stop-color="#0cff5e"/><stop offset="0.813" stop-color="#01ff68"/><stop offset="0.840" stop-color="#00ff85"/><stop offset="0.874" stop-color="#00ffaa"/><stop offset="0.894" stop-color="#00ffbe"/><stop offset="0.913" stop-color="#00ffcd"/><stop offset="0.951" stop-color="#00ffea"/><stop offset="0.978" stop-color="#00fffe"/><stop offset="0.988" stop-color="#00f8ff"/></linearGradient>
<linearGradient id="g81" gradientUnits="userSpaceOnUse" x1="0" y1="35.1" x2="0" y2="164.8"><stop offset="0.009" stop-color="#a70000"/><stop offset="0.047" stop-color="#a60000"/><stop offset="0.086" stop-color="#b40000"/><stop offset="0.090" stop-color="#b60000"/><stop offset="0.120" stop-color="#d40000"/><stop offset="0.128" stop-color="#d70000"/><stop offset="0.167" stop-color="#e60000"/><stop offset="0.171" stop-color="#e70000"/><stop offset="0.205" stop-color="#f30000"/><stop offset="0.228" stop-color="#fa0000"/><stop offset="0.244" stop-color="#fb0000"/><stop offset="0.282" stop-color="#fe0000"/><stop offset="0.298" stop-color="#ff0100"/><stop offset="0.325" stop-color="#ff1400"/><stop offset="0.363" stop-color="#ff2f00"/><stop offset="0.402" stop-color="#ff4b00"/><stop offset="0.440" stop-color="#ff6700"/><stop offset="0.479" stop-color="#ff8300"/><stop offset="0.521" stop-color="#ffa300"/><stop offset="0.560" stop-color="#ffc000"/><stop offset="0.599" stop-color="#ffdd00"/><stop offset="0.637" stop-color="#fffa00"/><stop offset="0.645" stop-color="#feff00"/><stop offset="0.676" stop-color="#d8ff00"/><stop offset="0.683" stop-color="#ceff00"/><stop offset="0.718" stop-color="#98ff12"/><stop offset="0.733" stop-color="#7fff1b"/><stop offset="0.757" stop-color="#53ff31"/><stop offset="0.780" stop-color="#27ff47"/><stop offset="0.795" stop-color="#18ff54"/><stop offset="0.818" stop-color="#01ff68"/><stop offset="0.834" stop-color="#00ff78"/><stop offset="0.872" stop-color="#00ffa1"/><stop offset="0.899" stop-color="#00ffbe"/><stop offset="0.915" stop-color="#00ffca"/><stop offset="0.953" stop-color="#00ffe7"/><stop offset="0.984" stop-color="#00fffe"/><stop offset="0.988" stop-color="#00fdff"/></linearGradient>
<linearGradient id="g82" gradientUnits="userSpaceOnUse" x1="0" y1="35.0" x2="0" y2="163.9"><stop offset="0.009" stop-color="#a70000"/><stop offset="0.048" stop-color="#a60000"/><stop offset="0.086" stop-color="#b30000"/><stop offset="0.094" stop-color="#b80000"/><stop offset="0.121" stop-color="#d30000"/><stop offset="0.125" stop-color="#d50000"/><stop offset="0.164" stop-color="#e40000"/><stop offset="0.176" stop-color="#e80000"/><stop offset="0.207" stop-color="#f20000"/><stop offset="0.230" stop-color="#fa0000"/><stop offset="0.245" stop-color="#fb0000"/><stop offset="0.284" stop-color="#fe0000"/><stop offset="0.300" stop-color="#ff0000"/><stop offset="0.323" stop-color="#ff1100"/><stop offset="0.362" stop-color="#ff2c00"/><stop offset="0.401" stop-color="#ff4800"/><stop offset="0.439" stop-color="#ff6400"/><stop offset="0.478" stop-color="#ff8000"/><stop offset="0.521" stop-color="#ffa000"/><stop offset="0.560" stop-color="#ffbc00"/><stop offset="0.598" stop-color="#ffd900"/><stop offset="0.637" stop-color="#fff700"/><stop offset="0.649" stop-color="#feff00"/><stop offset="0.676" stop-color="#ddff00"/><stop offset="0.688" stop-color="#cfff00"/><stop offset="0.715" stop-color="#a5ff0d"/><stop offset="0.738" stop-color="#80ff1a"/><stop offset="0.754" stop-color="#62ff29"/><stop offset="0.785" stop-color="#28ff46"/><stop offset="0.792" stop-color="#20ff4d"/><stop offset="0.823" stop-color="#01ff68"/><stop offset="0.835" stop-color="#00ff74"/><stop offset="0.874" stop-color="#00ff9d"/><stop offset="0.905" stop-color="#00ffbe"/><stop offset="0.913" stop-color="#00ffc4"/><stop offset="0.952" stop-color="#00ffe1"/><stop offset="0.988" stop-color="#00fffc"/></linearGradient>
<linearGradient id="g83" gradientUnits="userSpaceOnUse" x1="0" y1="34.8" x2="0" y2="162.9"><stop offset="0.009" stop-color="#a80000"/><stop offset="0.048" stop-color="#a60000"/><stop offset="0.087" stop-color="#b30000"/><stop offset="0.095" stop-color="#b70000"/><stop offset="0.126" stop-color="#d50000"/><stop offset="0.165" stop-color="#e30000"/><stop offset="0.177" stop-color="#e80000"/><stop offset="0.204" stop-color="#f10000"/><stop offset="0.231" stop-color="#f90000"/><stop offset="0.243" stop-color="#fb0000"/><stop offset="0.282" stop-color="#fe0000"/><stop offset="0.302" stop-color="#ff0000"/><stop offset="0.321" stop-color="#ff0d00"/><stop offset="0.360" stop-color="#ff2900"/><stop offset="0.399" stop-color="#ff4400"/><stop offset="0.438" stop-color="#ff6000"/><stop offset="0.477" stop-color="#ff7d00"/><stop offset="0.520" stop-color="#ff9c00"/><stop offset="0.559" stop-color="#ffb900"/><stop offset="0.598" stop-color="#ffd600"/><stop offset="0.637" stop-color="#fff300"/><stop offset="0.653" stop-color="#ffff00"/><stop offset="0.676" stop-color="#e2ff00"/><stop offset="0.696" stop-color="#caff01"/><stop offset="0.715" stop-color="#abff0b"/><stop offset="0.743" stop-color="#80ff1a"/><stop offset="0.754" stop-color="#6aff25"/><stop offset="0.790" stop-color="#28ff46"/><stop offset="0.793" stop-color="#24ff49"/><stop offset="0.829" stop-color="#02ff68"/><stop offset="0.833" stop-color="#00ff6b"/><stop offset="0.872" stop-color="#00ff94"/><stop offset="0.911" stop-color="#00ffbd"/><stop offset="0.950" stop-color="#00ffda"/><stop offset="0.988" stop-color="#00fff7"/></linearGradient>
<linearGradient id="g84" gradientUnits="userSpaceOnUse" x1="0" y1="34.7" x2="0" y2="162.0"><stop offset="0.009" stop-color="#a80000"/><stop offset="0.048" stop-color="#a60000"/><stop offset="0.087" stop-color="#b20000"/><stop offset="0.095" stop-color="#b60000"/><stop offset="0.127" stop-color="#d40000"/><stop offset="0.166" stop-color="#e30000"/><stop offset="0.178" stop-color="#e80000"/><stop offset="0.205" stop-color="#f00000"/><stop offset="0.237" stop-color="#fa0000"/><stop offset="0.245" stop-color="#fb0000"/><stop offset="0.284" stop-color="#fd0000"/><stop offset="0.303" stop-color="#ff0000"/><stop offset="0.323" stop-color="#ff0d00"/><stop offset="0.362" stop-color="#ff2800"/><stop offset="0.402" stop-color="#ff4400"/><stop offset="0.441" stop-color="#ff6000"/><stop offset="0.480" stop-color="#ff7c00"/><stop offset="0.519" stop-color="#ff9900"/><stop offset="0.559" stop-color="#ffb600"/><stop offset="0.598" stop-color="#ffd300"/><stop offset="0.637" stop-color="#fff000"/><stop offset="0.657" stop-color="#ffff00"/><stop offset="0.677" stop-color="#e8ff00"/><stop offset="0.700" stop-color="#cbff01"/><stop offset="0.716" stop-color="#b2ff09"/><stop offset="0.747" stop-color="#81ff19"/><stop offset="0.755" stop-color="#72ff21"/><stop offset="0.794" stop-color="#29ff46"/><stop offset="0.834" stop-color="#02ff67"/><stop offset="0.873" stop-color="#00ff90"/><stop offset="0.912" stop-color="#00ffb9"/><stop offset="0.916" stop-color="#00ffbd"/><stop offset="0.952" stop-color="#00ffd7"/><stop offset="0.988" stop-color="#00fff2"/></linearGradient>
<linearGradient id="g85" gradientUnits="userSpaceOnUse" x1="0" y1="34.5" x2="0" y2="161.1"><stop offset="0.009" stop-color="#a80000"/><stop offset="0.048" stop-color="#a60000"/><stop offset="0.088" stop-color="#b10000"/><stop offset="0.100" stop-color="#b80000"/><stop offset="0.127" stop-color="#d30000"/><stop offset="0.167" stop-color="#e30000"/><stop offset="0.179" stop-color="#e70000"/><stop offset="0.206" stop-color="#f00000"/><stop offset="0.238" stop-color="#fa0000"/><stop offset="0.246" stop-color="#fb0000"/><stop offset="0.282" stop-color="#fd0000"/><stop offset="0.309" stop-color="#ff0100"/><stop offset="0.321" stop-color="#ff0900"/><stop offset="0.361" stop-color="#ff2500"/><stop offset="0.400" stop-color="#ff4100"/><stop offset="0.440" stop-color="#ff5d00"/><stop offset="0.479" stop-color="#ff7900"/><stop offset="0.519" stop-color="#ff9600"/><stop offset="0.558" stop-color="#ffb300"/><stop offset="0.598" stop-color="#ffd000"/><stop offset="0.637" stop-color="#ffed00"/><stop offset="0.661" stop-color="#ffff00"/><stop offset="0.677" stop-color="#edff00"/><stop offset="0.704" stop-color="#cbff01"/><stop offset="0.716" stop-color="#b9ff07"/><stop offset="0.752" stop-color="#82ff19"/><stop offset="0.791" stop-color="#38ff3e"/><stop offset="0.799" stop-color="#29ff45"/><stop offset="0.831" stop-color="#0aff60"/><stop offset="0.843" stop-color="#00ff6b"/><stop offset="0.870" stop-color="#00ff87"/><stop offset="0.910" stop-color="#00ffb0"/><stop offset="0.922" stop-color="#00ffbd"/><stop offset="0.950" stop-color="#00ffd1"/><stop offset="0.988" stop-color="#00ffee"/></linearGradient>
<linearGradient id="g86" gradientUnits="userSpaceOnUse" x1="0" y1="34.4" x2="0" y2="160.1"><stop offset="0.009" stop-color="#a80000"/><stop offset="0.049" stop-color="#a60000"/><stop offset="0.088" stop-color="#b10000"/><stop offset="0.100" stop-color="#b70000"/><stop offset="0.128" stop-color="#d20000"/><stop offset="0.168" stop-color="#e20000"/><stop offset="0.184" stop-color="#e80000"/><stop offset="0.204" stop-color="#ee0000"/><stop offset="0.240" stop-color="#fa0000"/><stop offset="0.244" stop-color="#fa0000"/><stop offset="0.283" stop-color="#fd0000"/><stop offset="0.311" stop-color="#ff0100"/><stop offset="0.323" stop-color="#ff0900"/><stop offset="0.363" stop-color="#ff2400"/><stop offset="0.403" stop-color="#ff4000"/><stop offset="0.442" stop-color="#ff5c00"/><stop offset="0.482" stop-color="#ff7900"/><stop offset="0.518" stop-color="#ff9200"/><stop offset="0.558" stop-color="#ffaf00"/><stop offset="0.597" stop-color="#ffcc00"/><stop offset="0.637" stop-color="#ffea00"/><stop offset="0.665" stop-color="#fffe00"/><stop offset="0.677" stop-color="#f2ff00"/><stop offset="0.709" stop-color="#ccff00"/><stop offset="0.717" stop-color="#c0ff04"/><stop offset="0.756" stop-color="#82ff19"/><stop offset="0.796" stop-color="#39ff3e"/><stop offset="0.804" stop-color="#2aff45"/><stop offset="0.832" stop-color="#0eff5d"/><stop offset="0.848" stop-color="#00ff6a"/><stop offset="0.872" stop-color="#00ff83"/><stop offset="0.912" stop-color="#00ffac"/><stop offset="0.927" stop-color="#00ffbc"/><stop offset="0.951" stop-color="#00ffce"/><stop offset="0.988" stop-color="#00ffe9"/></linearGradient>
<linearGradient id="g87" gradientUnits="userSpaceOnUse" x1="0" y1="34.3" x2="0" y2="159.2"><stop offset="0.009" stop-color="#a90000"/><stop offset="0.049" stop-color="#a60000"/><stop offset="0.089" stop-color="#b00000"/><stop offset="0.101" stop-color="#b70000"/><stop offset="0.133" stop-color="#d50000"/><stop offset="0.173" stop-color="#e30000"/><stop offset="0.185" stop-color="#e80000"/><stop offset="0.213" stop-color="#f10000"/><stop offset="0.241" stop-color="#fa0000"/><stop offset="0.253" stop-color="#fb0000"/><stop offset="0.293" stop-color="#fe0000"/><stop offset="0.313" stop-color="#ff0000"/><stop offset="0.337" stop-color="#ff1100"/><stop offset="0.377" stop-color="#ff2c00"/><stop offset="0.417" stop-color="#ff4800"/><stop offset="0.457" stop-color="#ff6400"/><stop offset="0.497" stop-color="#ff8100"/><stop offset="0.541" stop-color="#ffa000"/><stop offset="0.581" stop-color="#ffbd00"/><stop offset="0.621" stop-color="#ffdb00"/><stop offset="0.661" stop-color="#fff800"/><stop offset="0.669" stop-color="#fffe00"/><stop offset="0.705" stop-color="#d6ff00"/><stop offset="0.713" stop-color="#ccff00"/><stop offset="0.745" stop-color="#9bff11"/><stop offset="0.761" stop-color="#83ff19"/><stop offset="0.785" stop-color="#57ff2f"/><stop offset="0.809" stop-color="#2aff45"/><stop offset="0.825" stop-color="#1aff52"/><stop offset="0.853" stop-color="#00ff6a"/><stop offset="0.865" stop-color="#00ff76"/><stop offset="0.909" stop-color="#00ffa3"/><stop offset="0.933" stop-color="#00ffbc"/><stop offset="0.949" stop-color="#00ffc8"/><stop offset="0.988" stop-color="#00ffe4"/></linearGradient>
<linearGradient id="g88" gradientUnits="userSpaceOnUse" x1="0" y1="34.1" x2="0" y2="158.3"><stop offset="0.009" stop-color="#a90000"/><stop offset="0.049" stop-color="#a60000"/><stop offset="0.090" stop-color="#b00000"/><stop offset="0.102" stop-color="#b60000"/><stop offset="0.130" stop-color="#d10000"/><stop offset="0.134" stop-color="#d40000"/><stop offset="0.174" stop-color="#e30000"/><stop offset="0.186" stop-color="#e80000"/><stop offset="0.214" stop-color="#f00000"/><stop offset="0.242" stop-color="#f90000"/><stop offset="0.255" stop-color="#fb0000"/><stop offset="0.295" stop-color="#fe0000"/><stop offset="0.315" stop-color="#ff0000"/><stop offset="0.335" stop-color="#ff0d00"/><stop offset="0.379" stop-color="#ff2c00"/><stop offset="0.420" stop-color="#ff4800"/><stop offset="0.460" stop-color="#ff6400"/><stop offset="0.500" stop-color="#ff8000"/><stop offset="0.540" stop-color="#ff9d00"/><stop offset="0.581" stop-color="#ffba00"/><stop offset="0.621" stop-color="#ffd700"/><stop offset="0.665" stop-color="#fff800"/><stop offset="0.673" stop-color="#fffe00"/><stop offset="0.705" stop-color="#dbff00"/><stop offset="0.717" stop-color="#cdff00"/><stop offset="0.746" stop-color="#a2ff0e"/><stop offset="0.766" stop-color="#83ff19"/><stop offset="0.786" stop-color="#5fff2b"/><stop offset="0.814" stop-color="#2bff45"/><stop offset="0.826" stop-color="#1eff4f"/><stop offset="0.858" stop-color="#00ff6a"/><stop offset="0.870" stop-color="#00ff76"/><stop offset="0.911" stop-color="#00ff9f"/><stop offset="0.943" stop-color="#00ffbf"/><stop offset="0.951" stop-color="#00ffc5"/><stop offset="0.988" stop-color="#00ffe0"/></linearGradient>
<linearGradient id="g89" gradientUnits="userSpaceOnUse" x1="0" y1="34.0" x2="0" y2="157.4"><stop offset="0.009" stop-color="#a90000"/><stop offset="0.050" stop-color="#a60000"/><stop offset="0.090" stop-color="#af0000"/><stop offset="0.106" stop-color="#b90000"/><stop offset="0.131" stop-color="#d00000"/><stop offset="0.135" stop-color="#d40000"/><stop offset="0.171" stop-color="#e10000"/><stop offset="0.187" stop-color="#e70000"/><stop offset="0.212" stop-color="#ef0000"/><stop offset="0.248" stop-color="#fa0000"/><stop offset="0.252" stop-color="#fa0000"/><stop offset="0.297" stop-color="#fd0000"/><stop offset="0.317" stop-color="#ff0000"/><stop offset="0.337" stop-color="#ff0d00"/><stop offset="0.378" stop-color="#ff2800"/><stop offset="0.418" stop-color="#ff4400"/><stop offset="0.459" stop-color="#ff6100"/><stop offset="0.499" stop-color="#ff7d00"/><stop offset="0.540" stop-color="#ff9a00"/><stop offset="0.580" stop-color="#ffb700"/><stop offset="0.621" stop-color="#ffd400"/><stop offset="0.661" stop-color="#fff200"/><stop offset="0.681" stop-color="#fdff00"/><stop offset="0.702" stop-color="#e5ff00"/><stop offset="0.722" stop-color="#cdff00"/><stop offset="0.746" stop-color="#a9ff0c"/><stop offset="0.770" stop-color="#84ff18"/><stop offset="0.787" stop-color="#67ff27"/><stop offset="0.819" stop-color="#2cff44"/><stop offset="0.827" stop-color="#22ff4b"/><stop offset="0.864" stop-color="#00ff6a"/><stop offset="0.868" stop-color="#00ff6e"/><stop offset="0.908" stop-color="#00ff97"/><stop offset="0.949" stop-color="#00ffbf"/><stop offset="0.988" stop-color="#00ffdb"/></linearGradient>
<linearGradient id="g90" gradientUnits="userSpaceOnUse" x1="0" y1="33.8" x2="0" y2="156.6"><stop offset="0.009" stop-color="#a90000"/><stop offset="0.050" stop-color="#a60000"/><stop offset="0.091" stop-color="#af0000"/><stop offset="0.107" stop-color="#b80000"/><stop offset="0.131" stop-color="#cf0000"/><stop offset="0.135" stop-color="#d30000"/><stop offset="0.172" stop-color="#e10000"/><stop offset="0.188" stop-color="#e70000"/><stop offset="0.213" stop-color="#ef0000"/><stop offset="0.250" stop-color="#fa0000"/><stop offset="0.254" stop-color="#fa0000"/><stop offset="0.294" stop-color="#fd0000"/><stop offset="0.319" stop-color="#ff0000"/><stop offset="0.335" stop-color="#ff0a00"/><stop offset="0.376" stop-color="#ff2500"/><stop offset="0.417" stop-color="#ff4100"/><stop offset="0.457" stop-color="#ff5d00"/><stop offset="0.498" stop-color="#ff7a00"/><stop offset="0.543" stop-color="#ff9900"/><stop offset="0.584" stop-color="#ffb700"/><stop offset="0.624" stop-color="#ffd400"/><stop offset="0.665" stop-color="#fff100"/><stop offset="0.685" stop-color="#fdff00"/><stop offset="0.706" stop-color="#e6ff00"/><stop offset="0.726" stop-color="#ceff00"/><stop offset="0.747" stop-color="#afff0a"/><stop offset="0.775" stop-color="#84ff18"/><stop offset="0.787" stop-color="#6fff23"/><stop offset="0.828" stop-color="#26ff48"/><stop offset="0.869" stop-color="#00ff69"/><stop offset="0.910" stop-color="#00ff92"/><stop offset="0.950" stop-color="#00ffbb"/><stop offset="0.954" stop-color="#00ffbf"/><stop offset="0.988" stop-color="#00ffd7"/></linearGradient>
<linearGradient id="g91" gradientUnits="userSpaceOnUse" x1="0" y1="33.7" x2="0" y2="155.7"><stop offset="0.009" stop-color="#aa0000"/><stop offset="0.050" stop-color="#a60000"/><stop offset="0.091" stop-color="#af0000"/><stop offset="0.108" stop-color="#b70000"/><stop offset="0.132" stop-color="#ce0000"/><stop offset="0.136" stop-color="#d20000"/><stop offset="0.173" stop-color="#e10000"/><stop offset="0.194" stop-color="#e80000"/><stop offset="0.214" stop-color="#ef0000"/><stop offset="0.251" stop-color="#fa0000"/><stop offset="0.255" stop-color="#fa0000"/><stop offset="0.296" stop-color="#fd0000"/><stop offset="0.325" stop-color="#ff0100"/><stop offset="0.337" stop-color="#ff0900"/><stop offset="0.378" stop-color="#ff2500"/><stop offset="0.419" stop-color="#ff4100"/><stop offset="0.460" stop-color="#ff5d00"/><stop offset="0.501" stop-color="#ff7900"/><stop offset="0.538" stop-color="#ff9300"/><stop offset="0.579" stop-color="#ffb000"/><stop offset="0.620" stop-color="#ffce00"/><stop offset="0.661" stop-color="#ffeb00"/><stop offset="0.690" stop-color="#feff00"/><stop offset="0.702" stop-color="#f0ff00"/><stop offset="0.731" stop-color="#ceff00"/><stop offset="0.743" stop-color="#bcff06"/><stop offset="0.780" stop-color="#85ff18"/><stop offset="0.784" stop-color="#7eff1b"/><stop offset="0.825" stop-color="#34ff40"/><stop offset="0.833" stop-color="#27ff47"/><stop offset="0.866" stop-color="#08ff62"/><stop offset="0.874" stop-color="#00ff69"/><stop offset="0.907" stop-color="#00ff8a"/><stop offset="0.948" stop-color="#00ffb3"/><stop offset="0.960" stop-color="#00ffbf"/><stop offset="0.988" stop-color="#00ffd2"/></linearGradient>
<linearGradient id="g92" gradientUnits="userSpaceOnUse" x1="0" y1="33.6" x2="0" y2="154.8"><stop offset="0.009" stop-color="#aa0000"/><stop offset="0.050" stop-color="#a60000"/><stop offset="0.092" stop-color="#ae0000"/><stop offset="0.108" stop-color="#b70000"/><stop offset="0.133" stop-color="#ce0000"/><stop offset="0.141" stop-color="#d50000"/><stop offset="0.174" stop-color="#e10000"/><stop offset="0.195" stop-color="#e80000"/><stop offset="0.215" stop-color="#ee0000"/><stop offset="0.253" stop-color="#fa0000"/><stop offset="0.257" stop-color="#fa0000"/><stop offset="0.294" stop-color="#fd0000"/><stop offset="0.327" stop-color="#ff0100"/><stop offset="0.335" stop-color="#ff0600"/><stop offset="0.376" stop-color="#ff2200"/><stop offset="0.418" stop-color="#ff3e00"/><stop offset="0.459" stop-color="#ff5a00"/><stop offset="0.500" stop-color="#ff7600"/><stop offset="0.541" stop-color="#ff9300"/><stop offset="0.583" stop-color="#ffb000"/><stop offset="0.624" stop-color="#ffcd00"/><stop offset="0.665" stop-color="#ffeb00"/><stop offset="0.694" stop-color="#feff00"/><stop offset="0.706" stop-color="#f0ff00"/><stop offset="0.735" stop-color="#cfff00"/><stop offset="0.743" stop-color="#c3ff03"/><stop offset="0.785" stop-color="#85ff18"/><stop offset="0.789" stop-color="#7fff1b"/><stop offset="0.826" stop-color="#3cff3c"/><stop offset="0.838" stop-color="#27ff47"/><stop offset="0.867" stop-color="#0cff5f"/><stop offset="0.880" stop-color="#00ff69"/><stop offset="0.908" stop-color="#00ff85"/><stop offset="0.950" stop-color="#00ffae"/><stop offset="0.966" stop-color="#00ffbf"/><stop offset="0.988" stop-color="#00ffce"/></linearGradient>
<linearGradient id="g93" gradientUnits="userSpaceOnUse" x1="0" y1="33.4" x2="0" y2="153.9"><stop offset="0.009" stop-color="#aa0000"/><stop offset="0.051" stop-color="#a60000"/><stop offset="0.092" stop-color="#ae0000"/><stop offset="0.109" stop-color="#b70000"/><stop offset="0.134" stop-color="#cd0000"/><stop offset="0.142" stop-color="#d50000"/><stop offset="0.171" stop-color="#df0000"/><stop offset="0.196" stop-color="#e80000"/><stop offset="0.213" stop-color="#ed0000"/><stop offset="0.254" stop-color="#fa0000"/><stop offset="0.296" stop-color="#fd0000"/><stop offset="0.329" stop-color="#ff0000"/><stop offset="0.337" stop-color="#ff0600"/><stop offset="0.375" stop-color="#ff1f00"/><stop offset="0.416" stop-color="#ff3a00"/><stop offset="0.458" stop-color="#ff5700"/><stop offset="0.499" stop-color="#ff7300"/><stop offset="0.541" stop-color="#ff9000"/><stop offset="0.582" stop-color="#ffad00"/><stop offset="0.624" stop-color="#ffca00"/><stop offset="0.661" stop-color="#ffe500"/><stop offset="0.698" stop-color="#ffff00"/><stop offset="0.702" stop-color="#faff00"/><stop offset="0.740" stop-color="#cfff00"/><stop offset="0.744" stop-color="#c9ff01"/><stop offset="0.785" stop-color="#8cff16"/><stop offset="0.794" stop-color="#7fff1a"/><stop offset="0.827" stop-color="#44ff38"/><stop offset="0.844" stop-color="#27ff47"/><stop offset="0.864" stop-color="#14ff58"/><stop offset="0.885" stop-color="#01ff69"/><stop offset="0.906" stop-color="#00ff7d"/><stop offset="0.947" stop-color="#00ffa6"/><stop offset="0.972" stop-color="#00ffbe"/><stop offset="0.988" stop-color="#00ffc9"/></linearGradient>
<linearGradient id="g94" gradientUnits="userSpaceOnUse" x1="0" y1="33.3" x2="0" y2="153.0"><stop offset="0.009" stop-color="#aa0000"/><stop offset="0.051" stop-color="#a60000"/><stop offset="0.093" stop-color="#ae0000"/><stop offset="0.110" stop-color="#b70000"/><stop offset="0.139" stop-color="#d10000"/><stop offset="0.143" stop-color="#d40000"/><stop offset="0.181" stop-color="#e20000"/><stop offset="0.197" stop-color="#e80000"/><stop offset="0.222" stop-color="#ef0000"/><stop offset="0.256" stop-color="#fa0000"/><stop offset="0.264" stop-color="#fa0000"/><stop offset="0.310" stop-color="#fe0000"/><stop offset="0.331" stop-color="#ff0000"/><stop offset="0.352" stop-color="#ff0e00"/><stop offset="0.394" stop-color="#ff2900"/><stop offset="0.435" stop-color="#ff4500"/><stop offset="0.477" stop-color="#ff6200"/><stop offset="0.523" stop-color="#ff8100"/><stop offset="0.565" stop-color="#ff9e00"/><stop offset="0.607" stop-color="#ffbb00"/><stop offset="0.648" stop-color="#ffd900"/><stop offset="0.690" stop-color="#fff600"/><stop offset="0.703" stop-color="#ffff00"/><stop offset="0.736" stop-color="#d9ff00"/><stop offset="0.745" stop-color="#cfff00"/><stop offset="0.778" stop-color="#9fff0f"/><stop offset="0.799" stop-color="#80ff1a"/><stop offset="0.820" stop-color="#5bff2d"/><stop offset="0.849" stop-color="#27ff47"/><stop offset="0.861" stop-color="#1cff51"/><stop offset="0.891" stop-color="#01ff68"/><stop offset="0.907" stop-color="#00ff79"/><stop offset="0.949" stop-color="#00ffa2"/><stop offset="0.978" stop-color="#00ffbe"/><stop offset="0.987" stop-color="#00ffc5"/></linearGradient>
<linearGradient id="g95" gradientUnits="userSpaceOnUse" x1="0" y1="33.1" x2="0" y2="152.1"><stop offset="0.009" stop-color="#ab0000"/><stop offset="0.051" stop-color="#a60000"/><stop offset="0.093" stop-color="#ae0000"/><stop offset="0.110" stop-color="#b60000"/><stop offset="0.136" stop-color="#cd0000"/><stop offset="0.144" stop-color="#d40000"/><stop offset="0.182" stop-color="#e20000"/><stop offset="0.199" stop-color="#e80000"/><stop offset="0.224" stop-color="#ef0000"/><stop offset="0.257" stop-color="#f90000"/><stop offset="0.266" stop-color="#fa0000"/><stop offset="0.308" stop-color="#fd0000"/><stop offset="0.333" stop-color="#ff0000"/><stop offset="0.350" stop-color="#ff0b00"/><stop offset="0.392" stop-color="#ff2600"/><stop offset="0.434" stop-color="#ff4200"/><stop offset="0.476" stop-color="#ff5f00"/><stop offset="0.522" stop-color="#ff7e00"/><stop offset="0.564" stop-color="#ff9b00"/><stop offset="0.606" stop-color="#ffb800"/><stop offset="0.648" stop-color="#ffd500"/><stop offset="0.690" stop-color="#fff300"/><stop offset="0.707" stop-color="#ffff00"/><stop offset="0.732" stop-color="#e3ff00"/><stop offset="0.753" stop-color="#caff01"/><stop offset="0.774" stop-color="#abff0b"/><stop offset="0.804" stop-color="#80ff1a"/><stop offset="0.817" stop-color="#6aff25"/><stop offset="0.854" stop-color="#28ff46"/><stop offset="0.863" stop-color="#20ff4d"/><stop offset="0.896" stop-color="#01ff68"/><stop offset="0.905" stop-color="#00ff70"/><stop offset="0.947" stop-color="#00ff99"/><stop offset="0.985" stop-color="#00ffbe"/><stop offset="0.987" stop-color="#00ffc0"/></linearGradient>
<linearGradient id="g96" gradientUnits="userSpaceOnUse" x1="0" y1="33.0" x2="0" y2="151.2"><stop offset="0.009" stop-color="#ab0000"/><stop offset="0.052" stop-color="#a60000"/><stop offset="0.094" stop-color="#ae0000"/><stop offset="0.111" stop-color="#b60000"/><stop offset="0.136" stop-color="#cd0000"/><stop offset="0.145" stop-color="#d40000"/><stop offset="0.179" stop-color="#e00000"/><stop offset="0.200" stop-color="#e80000"/><stop offset="0.221" stop-color="#ee0000"/><stop offset="0.263" stop-color="#fa0000"/><stop offset="0.268" stop-color="#fa0000"/><stop offset="0.310" stop-color="#fd0000"/><stop offset="0.335" stop-color="#ff0000"/><stop offset="0.352" stop-color="#ff0a00"/><stop offset="0.394" stop-color="#ff2600"/><stop offset="0.437" stop-color="#ff4200"/><stop offset="0.479" stop-color="#ff5e00"/><stop offset="0.521" stop-color="#ff7b00"/><stop offset="0.564" stop-color="#ff9800"/><stop offset="0.606" stop-color="#ffb500"/><stop offset="0.648" stop-color="#ffd200"/><stop offset="0.691" stop-color="#fff000"/><stop offset="0.712" stop-color="#ffff00"/><stop offset="0.733" stop-color="#e8ff00"/><stop offset="0.758" stop-color="#cbff01"/><stop offset="0.779" stop-color="#acff0b"/><stop offset="0.809" stop-color="#80ff1a"/><stop offset="0.822" stop-color="#6aff25"/><stop offset="0.860" stop-color="#28ff46"/><stop offset="0.864" stop-color="#24ff4a"/><stop offset="0.902" stop-color="#01ff68"/><stop offset="0.906" stop-color="#00ff6c"/><stop offset="0.949" stop-color="#00ff95"/><stop offset="0.987" stop-color="#00ffba"/></linearGradient>
<linearGradient id="g97" gradientUnits="userSpaceOnUse" x1="0" y1="32.9" x2="0" y2="150.3"><stop offset="0.010" stop-color="#ab0000"/><stop offset="0.052" stop-color="#a60000"/><stop offset="0.095" stop-color="#ae0000"/><stop offset="0.112" stop-color="#b60000"/><stop offset="0.137" stop-color="#cd0000"/><stop offset="0.146" stop-color="#d40000"/><stop offset="0.180" stop-color="#e00000"/><stop offset="0.201" stop-color="#e80000"/><stop offset="0.222" stop-color="#ee0000"/><stop offset="0.265" stop-color="#fa0000"/><stop offset="0.308" stop-color="#fd0000"/><stop offset="0.337" stop-color="#ff0000"/><stop offset="0.350" stop-color="#ff0800"/><stop offset="0.393" stop-color="#ff2300"/><stop offset="0.435" stop-color="#ff3f00"/><stop offset="0.478" stop-color="#ff5b00"/><stop offset="0.520" stop-color="#ff7800"/><stop offset="0.563" stop-color="#ff9500"/><stop offset="0.606" stop-color="#ffb200"/><stop offset="0.648" stop-color="#ffcf00"/><stop offset="0.691" stop-color="#ffed00"/><stop offset="0.716" stop-color="#ffff00"/><stop offset="0.733" stop-color="#edff00"/><stop offset="0.763" stop-color="#cbff01"/><stop offset="0.776" stop-color="#b8ff07"/><stop offset="0.814" stop-color="#81ff1a"/><stop offset="0.818" stop-color="#79ff1d"/><stop offset="0.861" stop-color="#2fff42"/><stop offset="0.865" stop-color="#28ff46"/><stop offset="0.904" stop-color="#05ff64"/><stop offset="0.908" stop-color="#01ff68"/><stop offset="0.946" stop-color="#00ff8c"/><stop offset="0.987" stop-color="#00ffb4"/></linearGradient>
<linearGradient id="g98" gradientUnits="userSpaceOnUse" x1="0" y1="32.7" x2="0" y2="149.4"><stop offset="0.010" stop-color="#ac0000"/><stop offset="0.052" stop-color="#a60000"/><stop offset="0.095" stop-color="#ae0000"/><stop offset="0.112" stop-color="#b60000"/><stop offset="0.138" stop-color="#cd0000"/><stop offset="0.147" stop-color="#d40000"/><stop offset="0.181" stop-color="#e00000"/><stop offset="0.202" stop-color="#e80000"/><stop offset="0.224" stop-color="#ee0000"/><stop offset="0.267" stop-color="#fa0000"/><stop offset="0.309" stop-color="#fd0000"/><stop offset="0.339" stop-color="#ff0000"/><stop offset="0.352" stop-color="#ff0700"/><stop offset="0.395" stop-color="#ff2300"/><stop offset="0.438" stop-color="#ff3f00"/><stop offset="0.481" stop-color="#ff5b00"/><stop offset="0.519" stop-color="#ff7500"/><stop offset="0.562" stop-color="#ff9200"/><stop offset="0.605" stop-color="#ffaf00"/><stop offset="0.648" stop-color="#ffcc00"/><stop offset="0.691" stop-color="#ffea00"/><stop offset="0.721" stop-color="#fffe00"/><stop offset="0.734" stop-color="#f2ff00"/><stop offset="0.768" stop-color="#cbff01"/><stop offset="0.777" stop-color="#bfff05"/><stop offset="0.819" stop-color="#81ff19"/><stop offset="0.862" stop-color="#37ff3e"/><stop offset="0.871" stop-color="#28ff46"/><stop offset="0.905" stop-color="#09ff61"/><stop offset="0.914" stop-color="#02ff68"/><stop offset="0.948" stop-color="#00ff88"/><stop offset="0.987" stop-color="#00ffae"/></linearGradient>
<linearGradient id="g99" gradientUnits="userSpaceOnUse" x1="0" y1="32.6" x2="0" y2="148.6"><stop offset="0.010" stop-color="#ac0000"/><stop offset="0.053" stop-color="#a60000"/><stop offset="0.096" stop-color="#ae0000"/><stop offset="0.113" stop-color="#b70000"/><stop offset="0.139" stop-color="#cd0000"/><stop offset="0.148" stop-color="#d40000"/><stop offset="0.178" stop-color="#de0000"/><stop offset="0.204" stop-color="#e80000"/><stop offset="0.221" stop-color="#ed0000"/><stop offset="0.264" stop-color="#f90000"/><stop offset="0.268" stop-color="#fa0000"/><stop offset="0.307" stop-color="#fd0000"/><stop offset="0.342" stop-color="#ff0000"/><stop offset="0.350" stop-color="#ff0500"/><stop offset="0.393" stop-color="#ff2000"/><stop offset="0.436" stop-color="#ff3c00"/><stop offset="0.480" stop-color="#ff5800"/><stop offset="0.518" stop-color="#ff7200"/><stop offset="0.562" stop-color="#ff8f00"/><stop offset="0.605" stop-color="#ffac00"/><stop offset="0.648" stop-color="#ffc900"/><stop offset="0.691" stop-color="#ffe700"/><stop offset="0.725" stop-color="#fffe00"/><stop offset="0.734" stop-color="#f7ff00"/><stop offset="0.773" stop-color="#cbff01"/><stop offset="0.777" stop-color="#c5ff03"/><stop offset="0.820" stop-color="#88ff17"/><stop offset="0.825" stop-color="#81ff19"/><stop offset="0.859" stop-color="#46ff37"/><stop offset="0.876" stop-color="#28ff46"/><stop offset="0.902" stop-color="#11ff5a"/><stop offset="0.919" stop-color="#02ff68"/><stop offset="0.945" stop-color="#00ff80"/><stop offset="0.987" stop-color="#00ffa8"/></linearGradient>
<linearGradient id="g100" gradientUnits="userSpaceOnUse" x1="0" y1="32.5" x2="0" y2="147.7"><stop offset="0.010" stop-color="#ac0000"/><stop offset="0.053" stop-color="#a60000"/><stop offset="0.096" stop-color="#af0000"/><stop offset="0.114" stop-color="#b70000"/><stop offset="0.135" stop-color="#c90000"/><stop offset="0.149" stop-color="#d40000"/><stop offset="0.179" stop-color="#de0000"/><stop offset="0.205" stop-color="#e80000"/><stop offset="0.222" stop-color="#ed0000"/><stop offset="0.266" stop-color="#f90000"/><stop offset="0.270" stop-color="#fa0000"/><stop offset="0.309" stop-color="#fd0000"/><stop offset="0.344" stop-color="#ff0000"/><stop offset="0.352" stop-color="#ff0400"/><stop offset="0.391" stop-color="#ff1d00"/><stop offset="0.435" stop-color="#ff3900"/><stop offset="0.478" stop-color="#ff5500"/><stop offset="0.522" stop-color="#ff7200"/><stop offset="0.565" stop-color="#ff8f00"/><stop offset="0.608" stop-color="#ffac00"/><stop offset="0.647" stop-color="#ffc600"/><stop offset="0.691" stop-color="#ffe300"/><stop offset="0.730" stop-color="#fffe00"/><stop offset="0.734" stop-color="#fcff00"/><stop offset="0.778" stop-color="#ccff00"/><stop offset="0.821" stop-color="#8eff15"/><stop offset="0.830" stop-color="#82ff19"/><stop offset="0.864" stop-color="#46ff37"/><stop offset="0.882" stop-color="#29ff46"/><stop offset="0.903" stop-color="#15ff57"/><stop offset="0.925" stop-color="#02ff67"/><stop offset="0.947" stop-color="#00ff7c"/><stop offset="0.987" stop-color="#00ffa2"/></linearGradient>
<linearGradient id="g101" gradientUnits="userSpaceOnUse" x1="0" y1="32.3" x2="0" y2="146.9"><stop offset="0.010" stop-color="#ad0000"/><stop offset="0.053" stop-color="#a60000"/><stop offset="0.097" stop-color="#af0000"/><stop offset="0.114" stop-color="#b70000"/><stop offset="0.145" stop-color="#d10000"/><stop offset="0.149" stop-color="#d40000"/><stop offset="0.189" stop-color="#e20000"/><stop offset="0.206" stop-color="#e80000"/><stop offset="0.232" stop-color="#ef0000"/><stop offset="0.272" stop-color="#fa0000"/><stop offset="0.276" stop-color="#fa0000"/><stop offset="0.320" stop-color="#fd0000"/><stop offset="0.346" stop-color="#ff0000"/><stop offset="0.363" stop-color="#ff0a00"/><stop offset="0.411" stop-color="#ff2800"/><stop offset="0.455" stop-color="#ff4400"/><stop offset="0.499" stop-color="#ff6000"/><stop offset="0.542" stop-color="#ff7d00"/><stop offset="0.586" stop-color="#ff9a00"/><stop offset="0.634" stop-color="#ffba00"/><stop offset="0.678" stop-color="#ffd800"/><stop offset="0.721" stop-color="#fff500"/><stop offset="0.734" stop-color="#fffe00"/><stop offset="0.765" stop-color="#dfff00"/><stop offset="0.782" stop-color="#ccff00"/><stop offset="0.809" stop-color="#a7ff0d"/><stop offset="0.835" stop-color="#82ff19"/><stop offset="0.852" stop-color="#64ff28"/><stop offset="0.887" stop-color="#29ff46"/><stop offset="0.900" stop-color="#1dff50"/><stop offset="0.931" stop-color="#02ff67"/><stop offset="0.944" stop-color="#00ff73"/><stop offset="0.987" stop-color="#00ff9c"/></linearGradient>
<linearGradient id="g102" gradientUnits="userSpaceOnUse" x1="0" y1="32.2" x2="0" y2="146.1"><stop offset="0.010" stop-color="#ad0000"/><stop offset="0.054" stop-color="#a60000"/><stop offset="0.098" stop-color="#b00000"/><stop offset="0.115" stop-color="#b80000"/><stop offset="0.142" stop-color="#ce0000"/><stop offset="0.150" stop-color="#d50000"/><stop offset="0.190" stop-color="#e20000"/><stop offset="0.207" stop-color="#e80000"/><stop offset="0.234" stop-color="#ef0000"/><stop offset="0.273" stop-color="#fa0000"/><stop offset="0.278" stop-color="#fa0000"/><stop offset="0.322" stop-color="#fd0000"/><stop offset="0.348" stop-color="#ff0000"/><stop offset="0.365" stop-color="#ff0a00"/><stop offset="0.409" stop-color="#ff2500"/><stop offset="0.453" stop-color="#ff4100"/><stop offset="0.502" stop-color="#ff6000"/><stop offset="0.545" stop-color="#ff7d00"/><stop offset="0.589" stop-color="#ff9a00"/><stop offset="0.633" stop-color="#ffb700"/><stop offset="0.677" stop-color="#ffd500"/><stop offset="0.721" stop-color="#fff200"/><stop offset="0.739" stop-color="#fffe00"/><stop offset="0.765" stop-color="#e4ff00"/><stop offset="0.787" stop-color="#ccff00"/><stop offset="0.809" stop-color="#adff0b"/><stop offset="0.840" stop-color="#82ff19"/><stop offset="0.857" stop-color="#64ff28"/><stop offset="0.892" stop-color="#29ff46"/><stop offset="0.901" stop-color="#21ff4c"/><stop offset="0.941" stop-color="#00ff6b"/><stop offset="0.945" stop-color="#00ff6f"/><stop offset="0.987" stop-color="#00ff97"/></linearGradient>
<linearGradient id="g103" gradientUnits="userSpaceOnUse" x1="0" y1="32.1" x2="0" y2="145.3"><stop offset="0.010" stop-color="#ae0000"/><stop offset="0.054" stop-color="#a60000"/><stop offset="0.098" stop-color="#b00000"/><stop offset="0.116" stop-color="#b90000"/><stop offset="0.142" stop-color="#ce0000"/><stop offset="0.147" stop-color="#d20000"/><stop offset="0.186" stop-color="#e00000"/><stop offset="0.209" stop-color="#e80000"/><stop offset="0.231" stop-color="#ee0000"/><stop offset="0.275" stop-color="#fa0000"/><stop offset="0.279" stop-color="#fa0000"/><stop offset="0.323" stop-color="#fd0000"/><stop offset="0.350" stop-color="#ff0000"/><stop offset="0.368" stop-color="#ff0a00"/><stop offset="0.412" stop-color="#ff2500"/><stop offset="0.456" stop-color="#ff4100"/><stop offset="0.500" stop-color="#ff5e00"/><stop offset="0.544" stop-color="#ff7a00"/><stop offset="0.588" stop-color="#ff9700"/><stop offset="0.633" stop-color="#ffb400"/><stop offset="0.677" stop-color="#ffd200"/><stop offset="0.721" stop-color="#ffef00"/><stop offset="0.743" stop-color="#fffe00"/><stop offset="0.769" stop-color="#e4ff00"/><stop offset="0.792" stop-color="#ccff00"/><stop offset="0.814" stop-color="#adff0b"/><stop offset="0.845" stop-color="#82ff19"/><stop offset="0.858" stop-color="#6cff24"/><stop offset="0.898" stop-color="#29ff46"/><stop offset="0.902" stop-color="#25ff49"/><stop offset="0.946" stop-color="#00ff6b"/><stop offset="0.987" stop-color="#00ff91"/></linearGradient>
<linearGradient id="g104" gradientUnits="userSpaceOnUse" x1="0" y1="32.0" x2="0" y2="144.6"><stop offset="0.010" stop-color="#ae0000"/><stop offset="0.054" stop-color="#a60000"/><stop offset="0.099" stop-color="#b10000"/><stop offset="0.112" stop-color="#b60000"/><stop offset="0.143" stop-color="#cf0000"/><stop offset="0.148" stop-color="#d30000"/><stop offset="0.188" stop-color="#e10000"/><stop offset="0.210" stop-color="#e80000"/><stop offset="0.232" stop-color="#ee0000"/><stop offset="0.272" stop-color="#f90000"/><stop offset="0.276" stop-color="#fa0000"/><stop offset="0.321" stop-color="#fd0000"/><stop offset="0.352" stop-color="#ff0000"/><stop offset="0.365" stop-color="#ff0700"/><stop offset="0.410" stop-color="#ff2300"/><stop offset="0.454" stop-color="#ff3f00"/><stop offset="0.498" stop-color="#ff5b00"/><stop offset="0.547" stop-color="#ff7a00"/><stop offset="0.592" stop-color="#ff9700"/><stop offset="0.636" stop-color="#ffb400"/><stop offset="0.680" stop-color="#ffd200"/><stop offset="0.725" stop-color="#ffef00"/><stop offset="0.747" stop-color="#fffe00"/><stop offset="0.769" stop-color="#e9ff00"/><stop offset="0.796" stop-color="#ccff00"/><stop offset="0.814" stop-color="#b3ff09"/><stop offset="0.849" stop-color="#82ff19"/><stop offset="0.858" stop-color="#73ff20"/><stop offset="0.903" stop-color="#29ff46"/><stop offset="0.947" stop-color="#02ff67"/><stop offset="0.951" stop-color="#00ff6b"/><stop offset="0.987" stop-color="#00ff8c"/></linearGradient>
<linearGradient id="g105" gradientUnits="userSpaceOnUse" x1="0" y1="31.9" x2="0" y2="143.8"><stop offset="0.010" stop-color="#ae0000"/><stop offset="0.055" stop-color="#a60000"/><stop offset="0.099" stop-color="#b10000"/><stop offset="0.113" stop-color="#b70000"/><stop offset="0.144" stop-color="#d00000"/><stop offset="0.148" stop-color="#d40000"/><stop offset="0.189" stop-color="#e10000"/><stop offset="0.211" stop-color="#e80000"/><stop offset="0.233" stop-color="#ee0000"/><stop offset="0.273" stop-color="#fa0000"/><stop offset="0.278" stop-color="#fa0000"/><stop offset="0.322" stop-color="#fd0000"/><stop offset="0.354" stop-color="#ff0000"/><stop offset="0.367" stop-color="#ff0800"/><stop offset="0.412" stop-color="#ff2300"/><stop offset="0.456" stop-color="#ff3f00"/><stop offset="0.501" stop-color="#ff5b00"/><stop offset="0.541" stop-color="#ff7500"/><stop offset="0.586" stop-color="#ff9100"/><stop offset="0.631" stop-color="#ffaf00"/><stop offset="0.675" stop-color="#ffcc00"/><stop offset="0.720" stop-color="#ffe900"/><stop offset="0.751" stop-color="#fffe00"/><stop offset="0.764" stop-color="#f2ff00"/><stop offset="0.800" stop-color="#ccff00"/><stop offset="0.809" stop-color="#bfff05"/><stop offset="0.854" stop-color="#82ff19"/><stop offset="0.898" stop-color="#38ff3e"/><stop offset="0.907" stop-color="#29ff46"/><stop offset="0.943" stop-color="#0aff61"/><stop offset="0.956" stop-color="#00ff6b"/><stop offset="0.988" stop-color="#00ff88"/></linearGradient>
<linearGradient id="g106" gradientUnits="userSpaceOnUse" x1="0" y1="31.7" x2="0" y2="143.2"><stop offset="0.010" stop-color="#af0000"/><stop offset="0.055" stop-color="#a70000"/><stop offset="0.100" stop-color="#b20000"/><stop offset="0.113" stop-color="#b80000"/><stop offset="0.145" stop-color="#d10000"/><stop offset="0.149" stop-color="#d40000"/><stop offset="0.189" stop-color="#e10000"/><stop offset="0.212" stop-color="#e80000"/><stop offset="0.234" stop-color="#ee0000"/><stop offset="0.275" stop-color="#fa0000"/><stop offset="0.320" stop-color="#fd0000"/><stop offset="0.356" stop-color="#ff0000"/><stop offset="0.364" stop-color="#ff0500"/><stop offset="0.409" stop-color="#ff2000"/><stop offset="0.454" stop-color="#ff3c00"/><stop offset="0.499" stop-color="#ff5800"/><stop offset="0.544" stop-color="#ff7500"/><stop offset="0.589" stop-color="#ff9200"/><stop offset="0.634" stop-color="#ffaf00"/><stop offset="0.679" stop-color="#ffcc00"/><stop offset="0.723" stop-color="#ffe900"/><stop offset="0.755" stop-color="#fffe00"/><stop offset="0.764" stop-color="#f7ff00"/><stop offset="0.804" stop-color="#cbff01"/><stop offset="0.809" stop-color="#c5ff03"/><stop offset="0.854" stop-color="#88ff17"/><stop offset="0.858" stop-color="#82ff19"/><stop offset="0.899" stop-color="#3fff3b"/><stop offset="0.912" stop-color="#29ff46"/><stop offset="0.943" stop-color="#0dff5d"/><stop offset="0.957" stop-color="#02ff67"/><stop offset="0.988" stop-color="#00ff83"/></linearGradient>
<linearGradient id="g107" gradientUnits="userSpaceOnUse" x1="0" y1="31.6" x2="0" y2="142.5"><stop offset="0.010" stop-color="#af0000"/><stop offset="0.055" stop-color="#a80000"/><stop offset="0.100" stop-color="#b30000"/><stop offset="0.109" stop-color="#b70000"/><stop offset="0.145" stop-color="#d20000"/><stop offset="0.150" stop-color="#d50000"/><stop offset="0.186" stop-color="#e00000"/><stop offset="0.208" stop-color="#e70000"/><stop offset="0.231" stop-color="#ed0000"/><stop offset="0.276" stop-color="#fa0000"/><stop offset="0.321" stop-color="#fd0000"/><stop offset="0.357" stop-color="#ff0000"/><stop offset="0.366" stop-color="#ff0500"/><stop offset="0.411" stop-color="#ff2100"/><stop offset="0.456" stop-color="#ff3c00"/><stop offset="0.497" stop-color="#ff5600"/><stop offset="0.542" stop-color="#ff7200"/><stop offset="0.587" stop-color="#ff8f00"/><stop offset="0.632" stop-color="#ffac00"/><stop offset="0.677" stop-color="#ffc900"/><stop offset="0.722" stop-color="#ffe700"/><stop offset="0.759" stop-color="#fffe00"/><stop offset="0.768" stop-color="#f7ff00"/><stop offset="0.808" stop-color="#cbff01"/><stop offset="0.813" stop-color="#c5ff03"/><stop offset="0.853" stop-color="#8eff15"/><stop offset="0.862" stop-color="#81ff19"/><stop offset="0.898" stop-color="#46ff37"/><stop offset="0.916" stop-color="#28ff46"/><stop offset="0.943" stop-color="#11ff5a"/><stop offset="0.961" stop-color="#02ff67"/><stop offset="0.988" stop-color="#00ff7f"/></linearGradient>
<linearGradient id="g108" gradientUnits="userSpaceOnUse" x1="0" y1="31.5" x2="0" y2="141.9"><stop offset="0.010" stop-color="#b00000"/><stop offset="0.055" stop-color="#aa0000"/><stop offset="0.101" stop-color="#b40000"/><stop offset="0.110" stop-color="#b80000"/><stop offset="0.141" stop-color="#cf0000"/><stop offset="0.146" stop-color="#d30000"/><stop offset="0.187" stop-color="#e00000"/><stop offset="0.209" stop-color="#e80000"/><stop offset="0.232" stop-color="#ee0000"/><stop offset="0.277" stop-color="#fa0000"/><stop offset="0.323" stop-color="#fd0000"/><stop offset="0.359" stop-color="#ff0000"/><stop offset="0.368" stop-color="#ff0600"/><stop offset="0.409" stop-color="#ff1e00"/><stop offset="0.454" stop-color="#ff3a00"/><stop offset="0.499" stop-color="#ff5600"/><stop offset="0.545" stop-color="#ff7200"/><stop offset="0.590" stop-color="#ff8f00"/><stop offset="0.631" stop-color="#ffa900"/><stop offset="0.676" stop-color="#ffc600"/><stop offset="0.721" stop-color="#ffe400"/><stop offset="0.762" stop-color="#ffff00"/><stop offset="0.767" stop-color="#fbff00"/><stop offset="0.812" stop-color="#cbff01"/><stop offset="0.857" stop-color="#8dff15"/><stop offset="0.866" stop-color="#81ff1a"/><stop offset="0.898" stop-color="#4dff33"/><stop offset="0.921" stop-color="#28ff46"/><stop offset="0.943" stop-color="#15ff57"/><stop offset="0.966" stop-color="#02ff68"/><stop offset="0.988" stop-color="#00ff7b"/></linearGradient>
<linearGradient id="g109" gradientUnits="userSpaceOnUse" x1="0" y1="31.4" x2="0" y2="141.3"><stop offset="0.010" stop-color="#b00000"/><stop offset="0.056" stop-color="#ab0000"/><stop offset="0.101" stop-color="#b50000"/><stop offset="0.106" stop-color="#b70000"/><stop offset="0.147" stop-color="#d40000"/><stop offset="0.151" stop-color="#d50000"/><stop offset="0.197" stop-color="#e40000"/><stop offset="0.210" stop-color="#e80000"/><stop offset="0.242" stop-color="#f00000"/><stop offset="0.278" stop-color="#fa0000"/><stop offset="0.288" stop-color="#fb0000"/><stop offset="0.338" stop-color="#fe0000"/><stop offset="0.360" stop-color="#ff0100"/><stop offset="0.383" stop-color="#ff0e00"/><stop offset="0.429" stop-color="#ff2900"/><stop offset="0.474" stop-color="#ff4500"/><stop offset="0.524" stop-color="#ff6400"/><stop offset="0.570" stop-color="#ff8100"/><stop offset="0.615" stop-color="#ff9e00"/><stop offset="0.661" stop-color="#ffbb00"/><stop offset="0.711" stop-color="#ffdb00"/><stop offset="0.756" stop-color="#fff900"/><stop offset="0.765" stop-color="#ffff00"/><stop offset="0.802" stop-color="#d9ff00"/><stop offset="0.815" stop-color="#cbff01"/><stop offset="0.847" stop-color="#a0ff0f"/><stop offset="0.870" stop-color="#81ff1a"/><stop offset="0.897" stop-color="#54ff30"/><stop offset="0.924" stop-color="#28ff46"/><stop offset="0.943" stop-color="#19ff54"/><stop offset="0.970" stop-color="#01ff68"/><stop offset="0.988" stop-color="#00ff78"/></linearGradient>
<linearGradient id="g110" gradientUnits="userSpaceOnUse" x1="0" y1="31.3" x2="0" y2="140.8"><stop offset="0.010" stop-color="#b10000"/><stop offset="0.056" stop-color="#ad0000"/><stop offset="0.101" stop-color="#b70000"/><stop offset="0.143" stop-color="#d20000"/><stop offset="0.152" stop-color="#d60000"/><stop offset="0.197" stop-color="#e40000"/><stop offset="0.211" stop-color="#e80000"/><stop offset="0.243" stop-color="#f10000"/><stop offset="0.280" stop-color="#fa0000"/><stop offset="0.289" stop-color="#fb0000"/><stop offset="0.339" stop-color="#fe0000"/><stop offset="0.362" stop-color="#ff0100"/><stop offset="0.385" stop-color="#ff0f00"/><stop offset="0.430" stop-color="#ff2a00"/><stop offset="0.476" stop-color="#ff4600"/><stop offset="0.526" stop-color="#ff6500"/><stop offset="0.572" stop-color="#ff8100"/><stop offset="0.617" stop-color="#ff9e00"/><stop offset="0.663" stop-color="#ffbb00"/><stop offset="0.713" stop-color="#ffdb00"/><stop offset="0.759" stop-color="#fff900"/><stop offset="0.768" stop-color="#ffff00"/><stop offset="0.805" stop-color="#d9ff00"/><stop offset="0.818" stop-color="#caff01"/><stop offset="0.850" stop-color="#9fff0f"/><stop offset="0.873" stop-color="#80ff1a"/><stop offset="0.901" stop-color="#54ff30"/><stop offset="0.928" stop-color="#28ff46"/><stop offset="0.946" stop-color="#18ff54"/><stop offset="0.974" stop-color="#01ff68"/><stop offset="0.988" stop-color="#00ff75"/></linearGradient>
<linearGradient id="g111" gradientUnits="userSpaceOnUse" x1="0" y1="31.2" x2="0" y2="140.3"><stop offset="0.010" stop-color="#b10000"/><stop offset="0.056" stop-color="#ae0000"/><stop offset="0.097" stop-color="#b60000"/><stop offset="0.102" stop-color="#b90000"/><stop offset="0.143" stop-color="#d40000"/><stop offset="0.152" stop-color="#d70000"/><stop offset="0.198" stop-color="#e40000"/><stop offset="0.207" stop-color="#e70000"/><stop offset="0.244" stop-color="#f10000"/><stop offset="0.276" stop-color="#fa0000"/><stop offset="0.290" stop-color="#fb0000"/><stop offset="0.335" stop-color="#fd0000"/><stop offset="0.358" stop-color="#ff0000"/><stop offset="0.386" stop-color="#ff0f00"/><stop offset="0.432" stop-color="#ff2a00"/><stop offset="0.478" stop-color="#ff4600"/><stop offset="0.523" stop-color="#ff6200"/><stop offset="0.569" stop-color="#ff7f00"/><stop offset="0.615" stop-color="#ff9c00"/><stop offset="0.665" stop-color="#ffbc00"/><stop offset="0.711" stop-color="#ffd900"/><stop offset="0.757" stop-color="#fff600"/><stop offset="0.771" stop-color="#ffff00"/><stop offset="0.803" stop-color="#ddff00"/><stop offset="0.817" stop-color="#cfff00"/><stop offset="0.849" stop-color="#a5ff0d"/><stop offset="0.876" stop-color="#7fff1a"/><stop offset="0.899" stop-color="#5aff2d"/><stop offset="0.931" stop-color="#27ff47"/><stop offset="0.945" stop-color="#1cff51"/><stop offset="0.977" stop-color="#01ff68"/><stop offset="0.988" stop-color="#00ff72"/></linearGradient>
<linearGradient id="g112" gradientUnits="userSpaceOnUse" x1="0" y1="31.1" x2="0" y2="139.8"><stop offset="0.010" stop-color="#b20000"/><stop offset="0.056" stop-color="#b00000"/><stop offset="0.093" stop-color="#b70000"/><stop offset="0.102" stop-color="#bb0000"/><stop offset="0.139" stop-color="#d20000"/><stop offset="0.148" stop-color="#d60000"/><stop offset="0.199" stop-color="#e50000"/><stop offset="0.208" stop-color="#e80000"/><stop offset="0.245" stop-color="#f10000"/><stop offset="0.277" stop-color="#fa0000"/><stop offset="0.291" stop-color="#fb0000"/><stop offset="0.336" stop-color="#fe0000"/><stop offset="0.359" stop-color="#ff0000"/><stop offset="0.382" stop-color="#ff0d00"/><stop offset="0.428" stop-color="#ff2800"/><stop offset="0.474" stop-color="#ff4400"/><stop offset="0.525" stop-color="#ff6300"/><stop offset="0.571" stop-color="#ff7f00"/><stop offset="0.617" stop-color="#ff9c00"/><stop offset="0.663" stop-color="#ffb900"/><stop offset="0.709" stop-color="#ffd600"/><stop offset="0.755" stop-color="#fff400"/><stop offset="0.773" stop-color="#feff00"/><stop offset="0.801" stop-color="#e2ff00"/><stop offset="0.819" stop-color="#cfff00"/><stop offset="0.851" stop-color="#a4ff0e"/><stop offset="0.879" stop-color="#7fff1b"/><stop offset="0.897" stop-color="#61ff29"/><stop offset="0.934" stop-color="#27ff47"/><stop offset="0.943" stop-color="#1fff4e"/><stop offset="0.980" stop-color="#01ff68"/><stop offset="0.988" stop-color="#00ff70"/></linearGradient>
<linearGradient id="g113" gradientUnits="userSpaceOnUse" x1="0" y1="31.0" x2="0" y2="139.5"><stop offset="0.010" stop-color="#b20000"/><stop offset="0.056" stop-color="#b10000"/><stop offset="0.089" stop-color="#b70000"/><stop offset="0.102" stop-color="#bd0000"/><stop offset="0.139" stop-color="#d40000"/><stop offset="0.148" stop-color="#d70000"/><stop offset="0.199" stop-color="#e50000"/><stop offset="0.208" stop-color="#e80000"/><stop offset="0.245" stop-color="#f20000"/><stop offset="0.277" stop-color="#fa0000"/><stop offset="0.291" stop-color="#fb0000"/><stop offset="0.337" stop-color="#fe0000"/><stop offset="0.360" stop-color="#ff0000"/><stop offset="0.383" stop-color="#ff0d00"/><stop offset="0.430" stop-color="#ff2900"/><stop offset="0.476" stop-color="#ff4400"/><stop offset="0.526" stop-color="#ff6300"/><stop offset="0.572" stop-color="#ff8000"/><stop offset="0.619" stop-color="#ff9c00"/><stop offset="0.665" stop-color="#ffb900"/><stop offset="0.711" stop-color="#ffd700"/><stop offset="0.757" stop-color="#fff400"/><stop offset="0.775" stop-color="#fdff00"/><stop offset="0.803" stop-color="#e1ff00"/><stop offset="0.821" stop-color="#ceff00"/><stop offset="0.854" stop-color="#a3ff0e"/><stop offset="0.877" stop-color="#85ff18"/><stop offset="0.900" stop-color="#60ff2a"/><stop offset="0.937" stop-color="#27ff47"/><stop offset="0.946" stop-color="#1fff4e"/><stop offset="0.983" stop-color="#00ff69"/><stop offset="0.989" stop-color="#00ff6e"/></linearGradient>
<linearGradient id="g114" gradientUnits="userSpaceOnUse" x1="0" y1="30.9" x2="0" y2="139.1"><stop offset="0.010" stop-color="#b30000"/><stop offset="0.056" stop-color="#b30000"/><stop offset="0.084" stop-color="#b80000"/><stop offset="0.103" stop-color="#c00000"/><stop offset="0.135" stop-color="#d30000"/><stop offset="0.149" stop-color="#d70000"/><stop offset="0.195" stop-color="#e50000"/><stop offset="0.204" stop-color="#e70000"/><stop offset="0.241" stop-color="#f10000"/><stop offset="0.273" stop-color="#f90000"/><stop offset="0.292" stop-color="#fb0000"/><stop offset="0.338" stop-color="#fe0000"/><stop offset="0.361" stop-color="#ff0100"/><stop offset="0.384" stop-color="#ff0e00"/><stop offset="0.430" stop-color="#ff2900"/><stop offset="0.477" stop-color="#ff4500"/><stop offset="0.523" stop-color="#ff6100"/><stop offset="0.569" stop-color="#ff7d00"/><stop offset="0.615" stop-color="#ff9a00"/><stop offset="0.661" stop-color="#ffb700"/><stop offset="0.708" stop-color="#ffd400"/><stop offset="0.758" stop-color="#fff500"/><stop offset="0.777" stop-color="#fdff00"/><stop offset="0.805" stop-color="#e0ff00"/><stop offset="0.823" stop-color="#cdff00"/><stop offset="0.851" stop-color="#a9ff0c"/><stop offset="0.879" stop-color="#84ff18"/><stop offset="0.897" stop-color="#67ff27"/><stop offset="0.939" stop-color="#26ff48"/><stop offset="0.943" stop-color="#22ff4b"/><stop offset="0.985" stop-color="#00ff69"/><stop offset="0.989" stop-color="#00ff6d"/></linearGradient>
<linearGradient id="g115" gradientUnits="userSpaceOnUse" x1="0" y1="30.8" x2="0" y2="138.8"><stop offset="0.010" stop-color="#b30000"/><stop offset="0.056" stop-color="#b40000"/><stop offset="0.075" stop-color="#b70000"/><stop offset="0.103" stop-color="#c30000"/><stop offset="0.130" stop-color="#d30000"/><stop offset="0.149" stop-color="#d80000"/><stop offset="0.195" stop-color="#e50000"/><stop offset="0.205" stop-color="#e80000"/><stop offset="0.242" stop-color="#f10000"/><stop offset="0.274" stop-color="#fa0000"/><stop offset="0.292" stop-color="#fb0000"/><stop offset="0.339" stop-color="#fe0000"/><stop offset="0.357" stop-color="#ff0000"/><stop offset="0.385" stop-color="#ff0f00"/><stop offset="0.431" stop-color="#ff2a00"/><stop offset="0.478" stop-color="#ff4500"/><stop offset="0.524" stop-color="#ff6100"/><stop offset="0.570" stop-color="#ff7e00"/><stop offset="0.616" stop-color="#ff9a00"/><stop offset="0.663" stop-color="#ffb700"/><stop offset="0.709" stop-color="#ffd500"/><stop offset="0.760" stop-color="#fff500"/><stop offset="0.774" stop-color="#fffe00"/><stop offset="0.806" stop-color="#e0ff00"/><stop offset="0.825" stop-color="#ccff00"/><stop offset="0.852" stop-color="#a8ff0c"/><stop offset="0.880" stop-color="#83ff19"/><stop offset="0.899" stop-color="#66ff27"/><stop offset="0.936" stop-color="#2bff45"/><stop offset="0.945" stop-color="#22ff4b"/><stop offset="0.986" stop-color="#00ff6a"/><stop offset="0.989" stop-color="#00ff6c"/></linearGradient>
<linearGradient id="g116" gradientUnits="userSpaceOnUse" x1="0" y1="30.7" x2="0" y2="138.6"><stop offset="0.010" stop-color="#b40000"/><stop offset="0.056" stop-color="#b50000"/><stop offset="0.066" stop-color="#b70000"/><stop offset="0.103" stop-color="#c50000"/><stop offset="0.131" stop-color="#d40000"/><stop offset="0.149" stop-color="#d90000"/><stop offset="0.195" stop-color="#e60000"/><stop offset="0.200" stop-color="#e70000"/><stop offset="0.242" stop-color="#f20000"/><stop offset="0.274" stop-color="#fa0000"/><stop offset="0.293" stop-color="#fb0000"/><stop offset="0.339" stop-color="#fe0000"/><stop offset="0.358" stop-color="#ff0000"/><stop offset="0.385" stop-color="#ff1000"/><stop offset="0.432" stop-color="#ff2b00"/><stop offset="0.478" stop-color="#ff4600"/><stop offset="0.524" stop-color="#ff6200"/><stop offset="0.571" stop-color="#ff7e00"/><stop offset="0.617" stop-color="#ff9b00"/><stop offset="0.663" stop-color="#ffb800"/><stop offset="0.710" stop-color="#ffd500"/><stop offset="0.761" stop-color="#fff600"/><stop offset="0.775" stop-color="#fffe00"/><stop offset="0.807" stop-color="#dfff00"/><stop offset="0.826" stop-color="#cbff01"/><stop offset="0.853" stop-color="#a7ff0d"/><stop offset="0.881" stop-color="#82ff19"/><stop offset="0.900" stop-color="#65ff28"/><stop offset="0.937" stop-color="#2aff45"/><stop offset="0.946" stop-color="#21ff4c"/><stop offset="0.988" stop-color="#00ff6a"/><stop offset="0.989" stop-color="#00ff6c"/></linearGradient>
<linearGradient id="g117" gradientUnits="userSpaceOnUse" x1="0" y1="30.6" x2="0" y2="138.4"><stop offset="0.010" stop-color="#b50000"/><stop offset="0.057" stop-color="#b70000"/><stop offset="0.103" stop-color="#c80000"/><stop offset="0.126" stop-color="#d40000"/><stop offset="0.149" stop-color="#da0000"/><stop offset="0.196" stop-color="#e70000"/><stop offset="0.200" stop-color="#e80000"/><stop offset="0.242" stop-color="#f20000"/><stop offset="0.270" stop-color="#fa0000"/><stop offset="0.293" stop-color="#fb0000"/><stop offset="0.339" stop-color="#fe0000"/><stop offset="0.358" stop-color="#ff0100"/><stop offset="0.386" stop-color="#ff1000"/><stop offset="0.432" stop-color="#ff2b00"/><stop offset="0.478" stop-color="#ff4700"/><stop offset="0.525" stop-color="#ff6300"/><stop offset="0.571" stop-color="#ff7f00"/><stop offset="0.618" stop-color="#ff9c00"/><stop offset="0.664" stop-color="#ffb900"/><stop offset="0.710" stop-color="#ffd600"/><stop offset="0.761" stop-color="#fff600"/><stop offset="0.775" stop-color="#ffff00"/><stop offset="0.808" stop-color="#deff00"/><stop offset="0.826" stop-color="#caff01"/><stop offset="0.854" stop-color="#a6ff0d"/><stop offset="0.882" stop-color="#81ff1a"/><stop offset="0.900" stop-color="#63ff28"/><stop offset="0.938" stop-color="#28ff46"/><stop offset="0.947" stop-color="#21ff4d"/><stop offset="0.989" stop-color="#00ff6b"/><stop offset="0.990" stop-color="#00ff6c"/></linearGradient>
<linearGradient id="g118" gradientUnits="userSpaceOnUse" x1="0" y1="30.5" x2="0" y2="138.3"><stop offset="0.010" stop-color="#b50000"/><stop offset="0.052" stop-color="#b70000"/><stop offset="0.057" stop-color="#b80000"/><stop offset="0.103" stop-color="#cb0000"/><stop offset="0.121" stop-color="#d40000"/><stop offset="0.149" stop-color="#db0000"/><stop offset="0.196" stop-color="#e70000"/><stop offset="0.242" stop-color="#f30000"/><stop offset="0.270" stop-color="#fa0000"/><stop offset="0.293" stop-color="#fb0000"/><stop offset="0.339" stop-color="#fe0000"/><stop offset="0.353" stop-color="#ff0000"/><stop offset="0.386" stop-color="#ff1100"/><stop offset="0.432" stop-color="#ff2c00"/><stop offset="0.479" stop-color="#ff4800"/><stop offset="0.525" stop-color="#ff6300"/><stop offset="0.571" stop-color="#ff8000"/><stop offset="0.618" stop-color="#ff9c00"/><stop offset="0.664" stop-color="#ffb900"/><stop offset="0.711" stop-color="#ffd600"/><stop offset="0.762" stop-color="#fff700"/><stop offset="0.775" stop-color="#feff00"/><stop offset="0.808" stop-color="#ddff00"/><stop offset="0.822" stop-color="#cfff00"/><stop offset="0.854" stop-color="#a4ff0e"/><stop offset="0.882" stop-color="#7fff1a"/><stop offset="0.901" stop-color="#62ff29"/><stop offset="0.938" stop-color="#27ff46"/><stop offset="0.947" stop-color="#20ff4d"/><stop offset="0.984" stop-color="#01ff68"/><stop offset="0.990" stop-color="#00ff6d"/></linearGradient>
<linearGradient id="g119" gradientUnits="userSpaceOnUse" x1="0" y1="30.4" x2="0" y2="138.2"><stop offset="0.010" stop-color="#b60000"/><stop offset="0.043" stop-color="#b70000"/><stop offset="0.057" stop-color="#ba0000"/><stop offset="0.103" stop-color="#ce0000"/><stop offset="0.112" stop-color="#d30000"/><stop offset="0.149" stop-color="#dc0000"/><stop offset="0.196" stop-color="#e80000"/><stop offset="0.242" stop-color="#f30000"/><stop offset="0.270" stop-color="#fa0000"/><stop offset="0.293" stop-color="#fb0000"/><stop offset="0.339" stop-color="#fe0000"/><stop offset="0.353" stop-color="#ff0000"/><stop offset="0.386" stop-color="#ff1200"/><stop offset="0.432" stop-color="#ff2d00"/><stop offset="0.478" stop-color="#ff4800"/><stop offset="0.525" stop-color="#ff6400"/><stop offset="0.571" stop-color="#ff8100"/><stop offset="0.618" stop-color="#ff9d00"/><stop offset="0.664" stop-color="#ffba00"/><stop offset="0.710" stop-color="#ffd700"/><stop offset="0.761" stop-color="#fff700"/><stop offset="0.775" stop-color="#fdff00"/><stop offset="0.808" stop-color="#dcff00"/><stop offset="0.822" stop-color="#ceff00"/><stop offset="0.854" stop-color="#a3ff0e"/><stop offset="0.877" stop-color="#85ff18"/><stop offset="0.900" stop-color="#60ff2a"/><stop offset="0.938" stop-color="#27ff47"/><stop offset="0.947" stop-color="#1fff4e"/><stop offset="0.984" stop-color="#01ff69"/><stop offset="0.990" stop-color="#00ff6e"/></linearGradient>
<linearGradient id="g120" gradientUnits="userSpaceOnUse" x1="0" y1="30.3" x2="0" y2="138.2"><stop offset="0.010" stop-color="#b70000"/><stop offset="0.033" stop-color="#b70000"/><stop offset="0.056" stop-color="#bc0000"/><stop offset="0.103" stop-color="#d00000"/><stop offset="0.107" stop-color="#d30000"/><stop offset="0.149" stop-color="#dd0000"/><stop offset="0.191" stop-color="#e80000"/><stop offset="0.195" stop-color="#e90000"/><stop offset="0.242" stop-color="#f40000"/><stop offset="0.265" stop-color="#fa0000"/><stop offset="0.293" stop-color="#fc0000"/><stop offset="0.339" stop-color="#fe0000"/><stop offset="0.353" stop-color="#ff0100"/><stop offset="0.385" stop-color="#ff1300"/><stop offset="0.432" stop-color="#ff2e00"/><stop offset="0.478" stop-color="#ff4900"/><stop offset="0.524" stop-color="#ff6500"/><stop offset="0.571" stop-color="#ff8100"/><stop offset="0.617" stop-color="#ff9e00"/><stop offset="0.663" stop-color="#ffbb00"/><stop offset="0.710" stop-color="#ffd800"/><stop offset="0.761" stop-color="#fff800"/><stop offset="0.770" stop-color="#fffe00"/><stop offset="0.807" stop-color="#dbff00"/><stop offset="0.821" stop-color="#ccff00"/><stop offset="0.853" stop-color="#a2ff0e"/><stop offset="0.876" stop-color="#83ff19"/><stop offset="0.900" stop-color="#5fff2b"/><stop offset="0.932" stop-color="#2bff44"/><stop offset="0.946" stop-color="#1eff4f"/><stop offset="0.983" stop-color="#00ff69"/><stop offset="0.990" stop-color="#00ff70"/></linearGradient>
<linearGradient id="g121" gradientUnits="userSpaceOnUse" x1="0" y1="30.2" x2="0" y2="138.3"><stop offset="0.010" stop-color="#b70000"/><stop offset="0.056" stop-color="#be0000"/><stop offset="0.103" stop-color="#d30000"/><stop offset="0.149" stop-color="#de0000"/><stop offset="0.186" stop-color="#e80000"/><stop offset="0.195" stop-color="#ea0000"/><stop offset="0.241" stop-color="#f50000"/><stop offset="0.260" stop-color="#f90000"/><stop offset="0.292" stop-color="#fc0000"/><stop offset="0.338" stop-color="#fe0000"/><stop offset="0.348" stop-color="#ff0000"/><stop offset="0.385" stop-color="#ff1400"/><stop offset="0.431" stop-color="#ff2f00"/><stop offset="0.477" stop-color="#ff4a00"/><stop offset="0.523" stop-color="#ff6600"/><stop offset="0.570" stop-color="#ff8200"/><stop offset="0.616" stop-color="#ff9f00"/><stop offset="0.662" stop-color="#ffbc00"/><stop offset="0.709" stop-color="#ffd900"/><stop offset="0.759" stop-color="#fff900"/><stop offset="0.769" stop-color="#ffff00"/><stop offset="0.806" stop-color="#daff00"/><stop offset="0.820" stop-color="#cbff01"/><stop offset="0.852" stop-color="#a0ff0f"/><stop offset="0.875" stop-color="#82ff19"/><stop offset="0.898" stop-color="#5dff2c"/><stop offset="0.931" stop-color="#2aff45"/><stop offset="0.944" stop-color="#1dff4f"/><stop offset="0.981" stop-color="#00ff6a"/><stop offset="0.990" stop-color="#00ff72"/></linearGradient>
<linearGradient id="g122" gradientUnits="userSpaceOnUse" x1="0" y1="30.2" x2="0" y2="138.5"><stop offset="0.010" stop-color="#b90000"/><stop offset="0.056" stop-color="#c00000"/><stop offset="0.098" stop-color="#d30000"/><stop offset="0.102" stop-color="#d50000"/><stop offset="0.149" stop-color="#df0000"/><stop offset="0.185" stop-color="#e80000"/><stop offset="0.199" stop-color="#eb0000"/><stop offset="0.245" stop-color="#f70000"/><stop offset="0.259" stop-color="#fa0000"/><stop offset="0.292" stop-color="#fc0000"/><stop offset="0.338" stop-color="#ff0000"/><stop offset="0.347" stop-color="#ff0100"/><stop offset="0.384" stop-color="#ff1500"/><stop offset="0.430" stop-color="#ff3000"/><stop offset="0.476" stop-color="#ff4b00"/><stop offset="0.527" stop-color="#ff6a00"/><stop offset="0.573" stop-color="#ff8600"/><stop offset="0.619" stop-color="#ffa300"/><stop offset="0.666" stop-color="#ffbf00"/><stop offset="0.712" stop-color="#ffdc00"/><stop offset="0.758" stop-color="#fffa00"/><stop offset="0.767" stop-color="#feff00"/><stop offset="0.804" stop-color="#d8ff00"/><stop offset="0.813" stop-color="#cfff00"/><stop offset="0.855" stop-color="#99ff11"/><stop offset="0.873" stop-color="#80ff1a"/><stop offset="0.901" stop-color="#54ff30"/><stop offset="0.929" stop-color="#28ff46"/><stop offset="0.947" stop-color="#19ff53"/><stop offset="0.975" stop-color="#02ff67"/><stop offset="0.990" stop-color="#00ff74"/></linearGradient>
<linearGradient id="g123" gradientUnits="userSpaceOnUse" x1="0" y1="30.1" x2="0" y2="138.7"><stop offset="0.010" stop-color="#ba0000"/><stop offset="0.056" stop-color="#c20000"/><stop offset="0.093" stop-color="#d30000"/><stop offset="0.102" stop-color="#d50000"/><stop offset="0.148" stop-color="#e00000"/><stop offset="0.180" stop-color="#e80000"/><stop offset="0.199" stop-color="#ec0000"/><stop offset="0.245" stop-color="#f70000"/><stop offset="0.254" stop-color="#fa0000"/><stop offset="0.291" stop-color="#fc0000"/><stop offset="0.337" stop-color="#ff0000"/><stop offset="0.341" stop-color="#ff0000"/><stop offset="0.383" stop-color="#ff1700"/><stop offset="0.429" stop-color="#ff3100"/><stop offset="0.475" stop-color="#ff4c00"/><stop offset="0.526" stop-color="#ff6b00"/><stop offset="0.572" stop-color="#ff8700"/><stop offset="0.618" stop-color="#ffa400"/><stop offset="0.664" stop-color="#ffc000"/><stop offset="0.710" stop-color="#ffdd00"/><stop offset="0.756" stop-color="#fffb00"/><stop offset="0.761" stop-color="#fffe00"/><stop offset="0.802" stop-color="#d7ff00"/><stop offset="0.811" stop-color="#cdff00"/><stop offset="0.853" stop-color="#97ff12"/><stop offset="0.866" stop-color="#85ff18"/><stop offset="0.899" stop-color="#52ff31"/><stop offset="0.926" stop-color="#27ff47"/><stop offset="0.945" stop-color="#18ff54"/><stop offset="0.972" stop-color="#01ff68"/><stop offset="0.989" stop-color="#00ff77"/></linearGradient>
<linearGradient id="g124" gradientUnits="userSpaceOnUse" x1="0" y1="30.2" x2="0" y2="138.9"><stop offset="0.012" stop-color="#bb0000"/><stop offset="0.058" stop-color="#c60000"/><stop offset="0.090" stop-color="#d40000"/><stop offset="0.104" stop-color="#d70000"/><stop offset="0.150" stop-color="#e20000"/><stop offset="0.173" stop-color="#e80000"/><stop offset="0.201" stop-color="#ee0000"/><stop offset="0.247" stop-color="#f90000"/><stop offset="0.251" stop-color="#fa0000"/><stop offset="0.293" stop-color="#fc0000"/><stop offset="0.339" stop-color="#ff0000"/><stop offset="0.385" stop-color="#ff1a00"/><stop offset="0.431" stop-color="#ff3500"/><stop offset="0.477" stop-color="#ff5000"/><stop offset="0.527" stop-color="#ff6e00"/><stop offset="0.573" stop-color="#ff8a00"/><stop offset="0.619" stop-color="#ffa700"/><stop offset="0.665" stop-color="#ffc400"/><stop offset="0.711" stop-color="#ffe100"/><stop offset="0.757" stop-color="#fffe00"/><stop offset="0.803" stop-color="#d1ff00"/><stop offset="0.808" stop-color="#cdff00"/><stop offset="0.854" stop-color="#90ff14"/><stop offset="0.863" stop-color="#84ff18"/><stop offset="0.900" stop-color="#49ff35"/><stop offset="0.923" stop-color="#26ff48"/><stop offset="0.946" stop-color="#13ff58"/><stop offset="0.969" stop-color="#00ff69"/><stop offset="0.989" stop-color="#00ff7b"/></linearGradient>
<linearGradient id="g125" gradientUnits="userSpaceOnUse" x1="0" y1="30.7" x2="0" y2="139.2"><stop offset="0.012" stop-color="#bd0000"/><stop offset="0.058" stop-color="#ca0000"/><stop offset="0.077" stop-color="#d30000"/><stop offset="0.104" stop-color="#d90000"/><stop offset="0.151" stop-color="#e40000"/><stop offset="0.164" stop-color="#e80000"/><stop offset="0.197" stop-color="#ef0000"/><stop offset="0.243" stop-color="#fa0000"/><stop offset="0.293" stop-color="#fd0000"/><stop offset="0.330" stop-color="#ff0000"/><stop offset="0.340" stop-color="#ff0500"/><stop offset="0.386" stop-color="#ff1f00"/><stop offset="0.432" stop-color="#ff3900"/><stop offset="0.478" stop-color="#ff5400"/><stop offset="0.524" stop-color="#ff7000"/><stop offset="0.570" stop-color="#ff8c00"/><stop offset="0.616" stop-color="#ffa900"/><stop offset="0.662" stop-color="#ffc500"/><stop offset="0.708" stop-color="#ffe200"/><stop offset="0.755" stop-color="#feff00"/><stop offset="0.759" stop-color="#f9ff00"/><stop offset="0.801" stop-color="#cfff00"/><stop offset="0.805" stop-color="#c9ff01"/><stop offset="0.851" stop-color="#8dff15"/><stop offset="0.861" stop-color="#80ff1a"/><stop offset="0.897" stop-color="#45ff37"/><stop offset="0.916" stop-color="#28ff46"/><stop offset="0.944" stop-color="#11ff5a"/><stop offset="0.967" stop-color="#00ff6b"/><stop offset="0.989" stop-color="#00ff7e"/></linearGradient>
<linearGradient id="g126" gradientUnits="userSpaceOnUse" x1="0" y1="31.3" x2="0" y2="139.5"><stop offset="0.013" stop-color="#c00000"/><stop offset="0.059" stop-color="#cf0000"/><stop offset="0.068" stop-color="#d40000"/><stop offset="0.105" stop-color="#db0000"/><stop offset="0.151" stop-color="#e70000"/><stop offset="0.156" stop-color="#e80000"/><stop offset="0.197" stop-color="#f10000"/><stop offset="0.234" stop-color="#fa0000"/><stop offset="0.244" stop-color="#fb0000"/><stop offset="0.294" stop-color="#fd0000"/><stop offset="0.322" stop-color="#ff0000"/><stop offset="0.341" stop-color="#ff0a00"/><stop offset="0.387" stop-color="#ff2400"/><stop offset="0.433" stop-color="#ff3e00"/><stop offset="0.479" stop-color="#ff5900"/><stop offset="0.525" stop-color="#ff7500"/><stop offset="0.572" stop-color="#ff9100"/><stop offset="0.618" stop-color="#ffae00"/><stop offset="0.664" stop-color="#ffca00"/><stop offset="0.710" stop-color="#ffe700"/><stop offset="0.747" stop-color="#ffff00"/><stop offset="0.761" stop-color="#f1ff00"/><stop offset="0.798" stop-color="#cbff01"/><stop offset="0.807" stop-color="#bfff05"/><stop offset="0.854" stop-color="#82ff19"/><stop offset="0.900" stop-color="#39ff3d"/><stop offset="0.909" stop-color="#2bff45"/><stop offset="0.946" stop-color="#0bff5f"/><stop offset="0.960" stop-color="#00ff69"/><stop offset="0.989" stop-color="#00ff83"/></linearGradient>
<linearGradient id="g127" gradientUnits="userSpaceOnUse" x1="0" y1="31.9" x2="0" y2="139.9"><stop offset="0.013" stop-color="#c30000"/><stop offset="0.059" stop-color="#d40000"/><stop offset="0.105" stop-color="#de0000"/><stop offset="0.147" stop-color="#e80000"/><stop offset="0.152" stop-color="#e90000"/><stop offset="0.198" stop-color="#f40000"/><stop offset="0.226" stop-color="#fa0000"/><stop offset="0.244" stop-color="#fb0000"/><stop offset="0.291" stop-color="#fe0000"/><stop offset="0.314" stop-color="#ff0000"/><stop offset="0.337" stop-color="#ff0c00"/><stop offset="0.383" stop-color="#ff2600"/><stop offset="0.430" stop-color="#ff4100"/><stop offset="0.476" stop-color="#ff5c00"/><stop offset="0.527" stop-color="#ff7a00"/><stop offset="0.573" stop-color="#ff9600"/><stop offset="0.620" stop-color="#ffb300"/><stop offset="0.666" stop-color="#ffd000"/><stop offset="0.712" stop-color="#ffed00"/><stop offset="0.740" stop-color="#fffe00"/><stop offset="0.758" stop-color="#eeff00"/><stop offset="0.791" stop-color="#cdff00"/><stop offset="0.805" stop-color="#baff06"/><stop offset="0.846" stop-color="#84ff18"/><stop offset="0.851" stop-color="#7dff1c"/><stop offset="0.897" stop-color="#34ff40"/><stop offset="0.907" stop-color="#26ff47"/><stop offset="0.944" stop-color="#08ff62"/><stop offset="0.953" stop-color="#00ff69"/><stop offset="0.988" stop-color="#00ff87"/></linearGradient>
<linearGradient id="g128" gradientUnits="userSpaceOnUse" x1="0" y1="32.6" x2="0" y2="140.3"><stop offset="0.013" stop-color="#c70000"/><stop offset="0.046" stop-color="#d40000"/><stop offset="0.060" stop-color="#d60000"/><stop offset="0.106" stop-color="#e00000"/><stop offset="0.134" stop-color="#e70000"/><stop offset="0.152" stop-color="#eb0000"/><stop offset="0.199" stop-color="#f60000"/><stop offset="0.217" stop-color="#fa0000"/><stop offset="0.245" stop-color="#fc0000"/><stop offset="0.292" stop-color="#fe0000"/><stop offset="0.306" stop-color="#ff0000"/><stop offset="0.338" stop-color="#ff1200"/><stop offset="0.384" stop-color="#ff2c00"/><stop offset="0.431" stop-color="#ff4600"/><stop offset="0.477" stop-color="#ff6200"/><stop offset="0.528" stop-color="#ff8000"/><stop offset="0.575" stop-color="#ff9c00"/><stop offset="0.621" stop-color="#ffb900"/><stop offset="0.668" stop-color="#ffd500"/><stop offset="0.714" stop-color="#fff200"/><stop offset="0.733" stop-color="#fffe00"/><stop offset="0.760" stop-color="#e5ff00"/><stop offset="0.784" stop-color="#cdff00"/><stop offset="0.807" stop-color="#afff0a"/><stop offset="0.839" stop-color="#84ff18"/><stop offset="0.853" stop-color="#6fff23"/><stop offset="0.900" stop-color="#27ff47"/><stop offset="0.946" stop-color="#01ff68"/><stop offset="0.988" stop-color="#00ff8d"/></linearGradient>
<linearGradient id="g129" gradientUnits="userSpaceOnUse" x1="0" y1="33.4" x2="0" y2="140.8"><stop offset="0.013" stop-color="#cc0000"/><stop offset="0.032" stop-color="#d30000"/><stop offset="0.060" stop-color="#d90000"/><stop offset="0.106" stop-color="#e30000"/><stop offset="0.125" stop-color="#e80000"/><stop offset="0.153" stop-color="#ee0000"/><stop offset="0.200" stop-color="#f90000"/><stop offset="0.204" stop-color="#fa0000"/><stop offset="0.246" stop-color="#fc0000"/><stop offset="0.293" stop-color="#ff0000"/><stop offset="0.297" stop-color="#ff0100"/><stop offset="0.339" stop-color="#ff1800"/><stop offset="0.386" stop-color="#ff3200"/><stop offset="0.432" stop-color="#ff4c00"/><stop offset="0.479" stop-color="#ff6800"/><stop offset="0.525" stop-color="#ff8300"/><stop offset="0.572" stop-color="#ff9f00"/><stop offset="0.618" stop-color="#ffbc00"/><stop offset="0.665" stop-color="#ffd800"/><stop offset="0.711" stop-color="#fff500"/><stop offset="0.725" stop-color="#fffe00"/><stop offset="0.758" stop-color="#e0ff00"/><stop offset="0.777" stop-color="#cdff00"/><stop offset="0.805" stop-color="#a8ff0c"/><stop offset="0.832" stop-color="#84ff18"/><stop offset="0.851" stop-color="#67ff26"/><stop offset="0.893" stop-color="#27ff47"/><stop offset="0.898" stop-color="#23ff4a"/><stop offset="0.939" stop-color="#01ff68"/><stop offset="0.944" stop-color="#00ff6c"/><stop offset="0.988" stop-color="#00ff92"/></linearGradient>
<linearGradient id="g130" gradientUnits="userSpaceOnUse" x1="0" y1="34.2" x2="0" y2="141.3"><stop offset="0.014" stop-color="#d10000"/><stop offset="0.018" stop-color="#d30000"/><stop offset="0.060" stop-color="#db0000"/><stop offset="0.107" stop-color="#e60000"/><stop offset="0.116" stop-color="#e80000"/><stop offset="0.154" stop-color="#f00000"/><stop offset="0.196" stop-color="#fa0000"/><stop offset="0.200" stop-color="#fa0000"/><stop offset="0.247" stop-color="#fd0000"/><stop offset="0.284" stop-color="#ff0000"/><stop offset="0.294" stop-color="#ff0500"/><stop offset="0.340" stop-color="#ff1e00"/><stop offset="0.387" stop-color="#ff3800"/><stop offset="0.434" stop-color="#ff5300"/><stop offset="0.480" stop-color="#ff6e00"/><stop offset="0.522" stop-color="#ff8700"/><stop offset="0.569" stop-color="#ffa300"/><stop offset="0.616" stop-color="#ffbf00"/><stop offset="0.662" stop-color="#ffdc00"/><stop offset="0.709" stop-color="#fff900"/><stop offset="0.718" stop-color="#ffff00"/><stop offset="0.756" stop-color="#daff00"/><stop offset="0.770" stop-color="#ccff00"/><stop offset="0.802" stop-color="#a1ff0f"/><stop offset="0.826" stop-color="#83ff19"/><stop offset="0.849" stop-color="#5fff2b"/><stop offset="0.886" stop-color="#26ff48"/><stop offset="0.896" stop-color="#1fff4e"/><stop offset="0.933" stop-color="#00ff69"/><stop offset="0.942" stop-color="#00ff71"/><stop offset="0.988" stop-color="#00ff98"/></linearGradient>
<linearGradient id="g131" gradientUnits="userSpaceOnUse" x1="0" y1="35.0" x2="0" y2="141.9"><stop offset="0.014" stop-color="#d50000"/><stop offset="0.061" stop-color="#de0000"/><stop offset="0.103" stop-color="#e80000"/><stop offset="0.108" stop-color="#e90000"/><stop offset="0.154" stop-color="#f30000"/><stop offset="0.183" stop-color="#fa0000"/><stop offset="0.201" stop-color="#fb0000"/><stop offset="0.248" stop-color="#fe0000"/><stop offset="0.276" stop-color="#ff0100"/><stop offset="0.295" stop-color="#ff0b00"/><stop offset="0.342" stop-color="#ff2500"/><stop offset="0.388" stop-color="#ff3f00"/><stop offset="0.435" stop-color="#ff5900"/><stop offset="0.482" stop-color="#ff7500"/><stop offset="0.524" stop-color="#ff8e00"/><stop offset="0.571" stop-color="#ffaa00"/><stop offset="0.618" stop-color="#ffc600"/><stop offset="0.664" stop-color="#ffe300"/><stop offset="0.711" stop-color="#feff00"/><stop offset="0.758" stop-color="#cfff00"/><stop offset="0.805" stop-color="#93ff13"/><stop offset="0.819" stop-color="#81ff1a"/><stop offset="0.852" stop-color="#4eff33"/><stop offset="0.875" stop-color="#2aff45"/><stop offset="0.898" stop-color="#16ff56"/><stop offset="0.926" stop-color="#00ff6a"/><stop offset="0.945" stop-color="#00ff7a"/><stop offset="0.987" stop-color="#00ff9f"/></linearGradient>
<linearGradient id="g132" gradientUnits="userSpaceOnUse" x1="0" y1="35.9" x2="0" y2="142.5"><stop offset="0.014" stop-color="#d80000"/><stop offset="0.061" stop-color="#e10000"/><stop offset="0.090" stop-color="#e80000"/><stop offset="0.108" stop-color="#ec0000"/><stop offset="0.155" stop-color="#f60000"/><stop offset="0.169" stop-color="#fa0000"/><stop offset="0.202" stop-color="#fc0000"/><stop offset="0.249" stop-color="#fe0000"/><stop offset="0.263" stop-color="#ff0000"/><stop offset="0.291" stop-color="#ff0f00"/><stop offset="0.338" stop-color="#ff2900"/><stop offset="0.385" stop-color="#ff4300"/><stop offset="0.432" stop-color="#ff5e00"/><stop offset="0.479" stop-color="#ff7900"/><stop offset="0.526" stop-color="#ff9500"/><stop offset="0.573" stop-color="#ffb100"/><stop offset="0.620" stop-color="#ffcd00"/><stop offset="0.667" stop-color="#ffea00"/><stop offset="0.699" stop-color="#fffe00"/><stop offset="0.714" stop-color="#f2ff00"/><stop offset="0.751" stop-color="#cdff00"/><stop offset="0.756" stop-color="#c7ff02"/><stop offset="0.803" stop-color="#8aff16"/><stop offset="0.807" stop-color="#84ff18"/><stop offset="0.850" stop-color="#43ff38"/><stop offset="0.868" stop-color="#27ff47"/><stop offset="0.897" stop-color="#10ff5b"/><stop offset="0.915" stop-color="#01ff68"/><stop offset="0.943" stop-color="#00ff80"/><stop offset="0.987" stop-color="#00ffa5"/></linearGradient>
<linearGradient id="g133" gradientUnits="userSpaceOnUse" x1="0" y1="36.9" x2="0" y2="143.2"><stop offset="0.015" stop-color="#da0000"/><stop offset="0.062" stop-color="#e40000"/><stop offset="0.076" stop-color="#e80000"/><stop offset="0.109" stop-color="#ef0000"/><stop offset="0.156" stop-color="#f90000"/><stop offset="0.161" stop-color="#fa0000"/><stop offset="0.198" stop-color="#fc0000"/><stop offset="0.245" stop-color="#ff0000"/><stop offset="0.250" stop-color="#ff0000"/><stop offset="0.293" stop-color="#ff1700"/><stop offset="0.340" stop-color="#ff3000"/><stop offset="0.387" stop-color="#ff4b00"/><stop offset="0.434" stop-color="#ff6500"/><stop offset="0.481" stop-color="#ff8100"/><stop offset="0.523" stop-color="#ff9a00"/><stop offset="0.570" stop-color="#ffb600"/><stop offset="0.617" stop-color="#ffd200"/><stop offset="0.664" stop-color="#ffef00"/><stop offset="0.693" stop-color="#fdff00"/><stop offset="0.711" stop-color="#ebff00"/><stop offset="0.740" stop-color="#cfff00"/><stop offset="0.758" stop-color="#b7ff07"/><stop offset="0.801" stop-color="#80ff1a"/><stop offset="0.805" stop-color="#79ff1d"/><stop offset="0.848" stop-color="#38ff3e"/><stop offset="0.857" stop-color="#29ff45"/><stop offset="0.895" stop-color="#0aff60"/><stop offset="0.909" stop-color="#00ff6a"/><stop offset="0.942" stop-color="#00ff86"/><stop offset="0.987" stop-color="#00ffad"/></linearGradient>
<linearGradient id="g134" gradientUnits="userSpaceOnUse" x1="0" y1="38.0" x2="0" y2="143.9"><stop offset="0.015" stop-color="#dd0000"/><stop offset="0.062" stop-color="#e80000"/><stop offset="0.110" stop-color="#f20000"/><stop offset="0.147" stop-color="#fa0000"/><stop offset="0.152" stop-color="#fa0000"/><stop offset="0.199" stop-color="#fd0000"/><stop offset="0.237" stop-color="#ff0000"/><stop offset="0.247" stop-color="#ff0500"/><stop offset="0.294" stop-color="#ff1e00"/><stop offset="0.341" stop-color="#ff3800"/><stop offset="0.384" stop-color="#ff5000"/><stop offset="0.431" stop-color="#ff6b00"/><stop offset="0.478" stop-color="#ff8600"/><stop offset="0.525" stop-color="#ffa200"/><stop offset="0.572" stop-color="#ffbe00"/><stop offset="0.620" stop-color="#ffda00"/><stop offset="0.662" stop-color="#fff400"/><stop offset="0.681" stop-color="#feff00"/><stop offset="0.709" stop-color="#e2ff00"/><stop offset="0.733" stop-color="#caff01"/><stop offset="0.757" stop-color="#acff0b"/><stop offset="0.790" stop-color="#82ff19"/><stop offset="0.804" stop-color="#6cff24"/><stop offset="0.846" stop-color="#2bff45"/><stop offset="0.851" stop-color="#26ff48"/><stop offset="0.894" stop-color="#04ff66"/><stop offset="0.898" stop-color="#00ff69"/><stop offset="0.941" stop-color="#00ff8d"/><stop offset="0.987" stop-color="#00ffb5"/></linearGradient>
<linearGradient id="g135" gradientUnits="userSpaceOnUse" x1="0" y1="39.2" x2="0" y2="144.7"><stop offset="0.016" stop-color="#e10000"/><stop offset="0.049" stop-color="#e80000"/><stop offset="0.063" stop-color="#eb0000"/><stop offset="0.110" stop-color="#f50000"/><stop offset="0.134" stop-color="#fa0000"/><stop offset="0.163" stop-color="#fc0000"/><stop offset="0.210" stop-color="#fe0000"/><stop offset="0.224" stop-color="#ff0000"/><stop offset="0.257" stop-color="#ff1200"/><stop offset="0.309" stop-color="#ff2e00"/><stop offset="0.357" stop-color="#ff4800"/><stop offset="0.404" stop-color="#ff6300"/><stop offset="0.452" stop-color="#ff7e00"/><stop offset="0.499" stop-color="#ff9900"/><stop offset="0.551" stop-color="#ffb800"/><stop offset="0.599" stop-color="#ffd500"/><stop offset="0.646" stop-color="#fff100"/><stop offset="0.670" stop-color="#feff00"/><stop offset="0.698" stop-color="#e2ff00"/><stop offset="0.722" stop-color="#caff01"/><stop offset="0.745" stop-color="#acff0b"/><stop offset="0.779" stop-color="#82ff19"/><stop offset="0.793" stop-color="#6dff24"/><stop offset="0.835" stop-color="#2bff44"/><stop offset="0.840" stop-color="#26ff48"/><stop offset="0.888" stop-color="#00ff69"/><stop offset="0.940" stop-color="#00ff95"/><stop offset="0.986" stop-color="#00ffbd"/></linearGradient>
<linearGradient id="g136" gradientUnits="userSpaceOnUse" x1="0" y1="40.4" x2="0" y2="145.5"><stop offset="0.016" stop-color="#e50000"/><stop offset="0.030" stop-color="#e80000"/><stop offset="0.064" stop-color="#ee0000"/><stop offset="0.111" stop-color="#f90000"/><stop offset="0.116" stop-color="#fa0000"/><stop offset="0.164" stop-color="#fc0000"/><stop offset="0.211" stop-color="#ff0100"/><stop offset="0.259" stop-color="#ff1a00"/><stop offset="0.306" stop-color="#ff3400"/><stop offset="0.354" stop-color="#ff4e00"/><stop offset="0.406" stop-color="#ff6c00"/><stop offset="0.454" stop-color="#ff8700"/><stop offset="0.501" stop-color="#ffa200"/><stop offset="0.549" stop-color="#ffbe00"/><stop offset="0.596" stop-color="#ffdb00"/><stop offset="0.649" stop-color="#fffa00"/><stop offset="0.658" stop-color="#fdff00"/><stop offset="0.696" stop-color="#d8ff00"/><stop offset="0.706" stop-color="#cfff00"/><stop offset="0.744" stop-color="#a0ff0f"/><stop offset="0.768" stop-color="#81ff19"/><stop offset="0.791" stop-color="#5dff2b"/><stop offset="0.825" stop-color="#2aff45"/><stop offset="0.839" stop-color="#1eff4f"/><stop offset="0.877" stop-color="#00ff69"/><stop offset="0.891" stop-color="#00ff75"/><stop offset="0.939" stop-color="#00ff9e"/><stop offset="0.977" stop-color="#00ffbe"/><stop offset="0.986" stop-color="#00ffc3"/></linearGradient>
<linearGradient id="g137" gradientUnits="userSpaceOnUse" x1="0" y1="41.7" x2="0" y2="146.4"><stop offset="0.017" stop-color="#e90000"/><stop offset="0.064" stop-color="#f20000"/><stop offset="0.103" stop-color="#fa0000"/><stop offset="0.112" stop-color="#fb0000"/><stop offset="0.160" stop-color="#fd0000"/><stop offset="0.193" stop-color="#ff0000"/><stop offset="0.212" stop-color="#ff0900"/><stop offset="0.260" stop-color="#ff2300"/><stop offset="0.308" stop-color="#ff3d00"/><stop offset="0.356" stop-color="#ff5700"/><stop offset="0.403" stop-color="#ff7200"/><stop offset="0.451" stop-color="#ff8e00"/><stop offset="0.504" stop-color="#ffac00"/><stop offset="0.552" stop-color="#ffc800"/><stop offset="0.599" stop-color="#ffe400"/><stop offset="0.642" stop-color="#fffe00"/><stop offset="0.647" stop-color="#fcff00"/><stop offset="0.695" stop-color="#cdff00"/><stop offset="0.743" stop-color="#92ff14"/><stop offset="0.757" stop-color="#7fff1a"/><stop offset="0.790" stop-color="#4cff34"/><stop offset="0.814" stop-color="#28ff46"/><stop offset="0.843" stop-color="#11ff5a"/><stop offset="0.867" stop-color="#00ff6a"/><stop offset="0.891" stop-color="#00ff7f"/><stop offset="0.938" stop-color="#00ffa7"/><stop offset="0.967" stop-color="#00ffbf"/><stop offset="0.986" stop-color="#00ffca"/></linearGradient>
<linearGradient id="g138" gradientUnits="userSpaceOnUse" x1="0" y1="43.1" x2="0" y2="147.3"><stop offset="0.017" stop-color="#ec0000"/><stop offset="0.065" stop-color="#f60000"/><stop offset="0.084" stop-color="#fa0000"/><stop offset="0.113" stop-color="#fb0000"/><stop offset="0.161" stop-color="#fe0000"/><stop offset="0.180" stop-color="#ff0100"/><stop offset="0.209" stop-color="#ff1000"/><stop offset="0.257" stop-color="#ff2a00"/><stop offset="0.310" stop-color="#ff4600"/><stop offset="0.358" stop-color="#ff6100"/><stop offset="0.406" stop-color="#ff7c00"/><stop offset="0.454" stop-color="#ff9700"/><stop offset="0.502" stop-color="#ffb300"/><stop offset="0.550" stop-color="#ffcf00"/><stop offset="0.598" stop-color="#ffec00"/><stop offset="0.631" stop-color="#feff00"/><stop offset="0.646" stop-color="#f0ff00"/><stop offset="0.684" stop-color="#caff01"/><stop offset="0.694" stop-color="#beff05"/><stop offset="0.742" stop-color="#82ff19"/><stop offset="0.746" stop-color="#7bff1c"/><stop offset="0.794" stop-color="#33ff41"/><stop offset="0.804" stop-color="#26ff48"/><stop offset="0.842" stop-color="#08ff62"/><stop offset="0.852" stop-color="#00ff69"/><stop offset="0.890" stop-color="#00ff89"/><stop offset="0.938" stop-color="#00ffb1"/><stop offset="0.953" stop-color="#00ffbd"/><stop offset="0.985" stop-color="#00ffd1"/></linearGradient>
<linearGradient id="g139" gradientUnits="userSpaceOnUse" x1="0" y1="44.6" x2="0" y2="148.3"><stop offset="0.018" stop-color="#f00000"/><stop offset="0.066" stop-color="#fa0000"/><stop offset="0.114" stop-color="#fc0000"/><stop offset="0.162" stop-color="#ff0000"/><stop offset="0.211" stop-color="#ff1900"/><stop offset="0.259" stop-color="#ff3300"/><stop offset="0.307" stop-color="#ff4e00"/><stop offset="0.355" stop-color="#ff6900"/><stop offset="0.403" stop-color="#ff8400"/><stop offset="0.452" stop-color="#ff9f00"/><stop offset="0.500" stop-color="#ffbb00"/><stop offset="0.553" stop-color="#ffda00"/><stop offset="0.601" stop-color="#fff700"/><stop offset="0.616" stop-color="#ffff00"/><stop offset="0.649" stop-color="#dfff00"/><stop offset="0.669" stop-color="#ccff00"/><stop offset="0.698" stop-color="#a8ff0c"/><stop offset="0.726" stop-color="#84ff18"/><stop offset="0.746" stop-color="#68ff26"/><stop offset="0.789" stop-color="#27ff47"/><stop offset="0.794" stop-color="#23ff4a"/><stop offset="0.837" stop-color="#02ff68"/><stop offset="0.842" stop-color="#00ff6b"/><stop offset="0.890" stop-color="#00ff93"/><stop offset="0.939" stop-color="#00ffbc"/><stop offset="0.943" stop-color="#00ffbf"/><stop offset="0.985" stop-color="#00ffd8"/></linearGradient>
<linearGradient id="g140" gradientUnits="userSpaceOnUse" x1="0" y1="46.2" x2="0" y2="149.4"><stop offset="0.018" stop-color="#f40000"/><stop offset="0.047" stop-color="#fa0000"/><stop offset="0.067" stop-color="#fb0000"/><stop offset="0.115" stop-color="#fd0000"/><stop offset="0.144" stop-color="#ff0000"/><stop offset="0.164" stop-color="#ff0a00"/><stop offset="0.212" stop-color="#ff2400"/><stop offset="0.261" stop-color="#ff3e00"/><stop offset="0.309" stop-color="#ff5900"/><stop offset="0.358" stop-color="#ff7300"/><stop offset="0.406" stop-color="#ff8f00"/><stop offset="0.455" stop-color="#ffaa00"/><stop offset="0.503" stop-color="#ffc600"/><stop offset="0.552" stop-color="#ffe300"/><stop offset="0.600" stop-color="#ffff00"/><stop offset="0.649" stop-color="#d1ff00"/><stop offset="0.653" stop-color="#ccff00"/><stop offset="0.697" stop-color="#96ff12"/><stop offset="0.712" stop-color="#84ff18"/><stop offset="0.746" stop-color="#52ff31"/><stop offset="0.775" stop-color="#27ff47"/><stop offset="0.794" stop-color="#18ff54"/><stop offset="0.823" stop-color="#02ff67"/><stop offset="0.842" stop-color="#00ff77"/><stop offset="0.891" stop-color="#00ff9f"/><stop offset="0.930" stop-color="#00ffbf"/><stop offset="0.939" stop-color="#00ffc5"/><stop offset="0.985" stop-color="#00ffdf"/></linearGradient>
<linearGradient id="g141" gradientUnits="userSpaceOnUse" x1="0" y1="47.9" x2="0" y2="150.4"><stop offset="0.019" stop-color="#f80000"/><stop offset="0.024" stop-color="#f90000"/><stop offset="0.068" stop-color="#fc0000"/><stop offset="0.117" stop-color="#ff0000"/><stop offset="0.126" stop-color="#ff0100"/><stop offset="0.165" stop-color="#ff1500"/><stop offset="0.214" stop-color="#ff2f00"/><stop offset="0.263" stop-color="#ff4900"/><stop offset="0.307" stop-color="#ff6100"/><stop offset="0.356" stop-color="#ff7c00"/><stop offset="0.404" stop-color="#ff9800"/><stop offset="0.453" stop-color="#ffb300"/><stop offset="0.502" stop-color="#ffcf00"/><stop offset="0.551" stop-color="#ffec00"/><stop offset="0.585" stop-color="#feff00"/><stop offset="0.599" stop-color="#f0ff00"/><stop offset="0.639" stop-color="#cbff01"/><stop offset="0.648" stop-color="#bfff05"/><stop offset="0.697" stop-color="#83ff19"/><stop offset="0.741" stop-color="#42ff39"/><stop offset="0.760" stop-color="#27ff47"/><stop offset="0.790" stop-color="#10ff5b"/><stop offset="0.809" stop-color="#01ff68"/><stop offset="0.838" stop-color="#00ff80"/><stop offset="0.887" stop-color="#00ffa8"/><stop offset="0.912" stop-color="#00ffbc"/><stop offset="0.936" stop-color="#00ffcb"/><stop offset="0.984" stop-color="#00ffe7"/></linearGradient>
<linearGradient id="g142" gradientUnits="userSpaceOnUse" x1="0" y1="49.8" x2="0" y2="151.6"><stop offset="0.020" stop-color="#fb0000"/><stop offset="0.069" stop-color="#fd0000"/><stop offset="0.103" stop-color="#ff0000"/><stop offset="0.118" stop-color="#ff0700"/><stop offset="0.167" stop-color="#ff2000"/><stop offset="0.211" stop-color="#ff3800"/><stop offset="0.261" stop-color="#ff5200"/><stop offset="0.310" stop-color="#ff6d00"/><stop offset="0.359" stop-color="#ff8900"/><stop offset="0.408" stop-color="#ffa400"/><stop offset="0.457" stop-color="#ffc000"/><stop offset="0.501" stop-color="#ffd900"/><stop offset="0.550" stop-color="#fff600"/><stop offset="0.565" stop-color="#fffe00"/><stop offset="0.599" stop-color="#e0ff00"/><stop offset="0.619" stop-color="#cdff00"/><stop offset="0.649" stop-color="#aaff0c"/><stop offset="0.683" stop-color="#80ff1a"/><stop offset="0.698" stop-color="#6aff25"/><stop offset="0.742" stop-color="#29ff45"/><stop offset="0.747" stop-color="#25ff49"/><stop offset="0.796" stop-color="#00ff6a"/><stop offset="0.840" stop-color="#00ff8e"/><stop offset="0.889" stop-color="#00ffb6"/><stop offset="0.899" stop-color="#00ffbe"/><stop offset="0.938" stop-color="#00ffd5"/><stop offset="0.984" stop-color="#00ffef"/></linearGradient>
<linearGradient id="g143" gradientUnits="userSpaceOnUse" x1="0" y1="51.8" x2="0" y2="152.7"><stop offset="0.021" stop-color="#fc0000"/><stop offset="0.070" stop-color="#fe0000"/><stop offset="0.080" stop-color="#ff0000"/><stop offset="0.125" stop-color="#ff1600"/><stop offset="0.174" stop-color="#ff3000"/><stop offset="0.224" stop-color="#ff4a00"/><stop offset="0.273" stop-color="#ff6500"/><stop offset="0.328" stop-color="#ff8300"/><stop offset="0.377" stop-color="#ff9e00"/><stop offset="0.427" stop-color="#ffba00"/><stop offset="0.476" stop-color="#ffd600"/><stop offset="0.531" stop-color="#fff500"/><stop offset="0.546" stop-color="#fffe00"/><stop offset="0.580" stop-color="#e1ff00"/><stop offset="0.600" stop-color="#ceff00"/><stop offset="0.630" stop-color="#abff0b"/><stop offset="0.664" stop-color="#81ff19"/><stop offset="0.679" stop-color="#6cff24"/><stop offset="0.724" stop-color="#2bff45"/><stop offset="0.734" stop-color="#22ff4b"/><stop offset="0.778" stop-color="#00ff69"/><stop offset="0.783" stop-color="#00ff6d"/><stop offset="0.833" stop-color="#00ff95"/><stop offset="0.882" stop-color="#00ffbd"/><stop offset="0.937" stop-color="#00ffdc"/><stop offset="0.984" stop-color="#00fff7"/></linearGradient>
<linearGradient id="g144" gradientUnits="userSpaceOnUse" x1="0" y1="53.9" x2="0" y2="154.0"><stop offset="0.022" stop-color="#fd0000"/><stop offset="0.057" stop-color="#ff0000"/><stop offset="0.072" stop-color="#ff0700"/><stop offset="0.122" stop-color="#ff2000"/><stop offset="0.172" stop-color="#ff3a00"/><stop offset="0.227" stop-color="#ff5800"/><stop offset="0.277" stop-color="#ff7300"/><stop offset="0.327" stop-color="#ff8e00"/><stop offset="0.377" stop-color="#ffa900"/><stop offset="0.426" stop-color="#ffc500"/><stop offset="0.476" stop-color="#ffe200"/><stop offset="0.526" stop-color="#fffe00"/><stop offset="0.531" stop-color="#fcff00"/><stop offset="0.581" stop-color="#ceff00"/><stop offset="0.631" stop-color="#93ff13"/><stop offset="0.646" stop-color="#81ff1a"/><stop offset="0.681" stop-color="#4eff33"/><stop offset="0.706" stop-color="#2aff45"/><stop offset="0.731" stop-color="#16ff55"/><stop offset="0.761" stop-color="#00ff69"/><stop offset="0.781" stop-color="#00ff79"/><stop offset="0.836" stop-color="#00ffa5"/><stop offset="0.866" stop-color="#00ffbd"/><stop offset="0.886" stop-color="#00ffc9"/><stop offset="0.936" stop-color="#00ffe5"/><stop offset="0.981" stop-color="#00ffff"/><stop offset="0.983" stop-color="#00feff"/></linearGradient>
<linearGradient id="g145" gradientUnits="userSpaceOnUse" x1="0" y1="56.2" x2="0" y2="155.2"><stop offset="0.023" stop-color="#ff0000"/><stop offset="0.033" stop-color="#ff0100"/><stop offset="0.073" stop-color="#ff1500"/><stop offset="0.124" stop-color="#ff2e00"/><stop offset="0.174" stop-color="#ff4900"/><stop offset="0.225" stop-color="#ff6400"/><stop offset="0.275" stop-color="#ff7f00"/><stop offset="0.326" stop-color="#ff9a00"/><stop offset="0.376" stop-color="#ffb600"/><stop offset="0.427" stop-color="#ffd200"/><stop offset="0.477" stop-color="#ffee00"/><stop offset="0.508" stop-color="#feff00"/><stop offset="0.533" stop-color="#e8ff00"/><stop offset="0.563" stop-color="#ccff00"/><stop offset="0.583" stop-color="#b4ff08"/><stop offset="0.624" stop-color="#84ff18"/><stop offset="0.634" stop-color="#76ff1f"/><stop offset="0.684" stop-color="#2eff43"/><stop offset="0.690" stop-color="#27ff46"/><stop offset="0.735" stop-color="#06ff64"/><stop offset="0.745" stop-color="#00ff6b"/><stop offset="0.785" stop-color="#00ff8b"/><stop offset="0.836" stop-color="#00ffb3"/><stop offset="0.851" stop-color="#00ffbf"/><stop offset="0.886" stop-color="#00ffd3"/><stop offset="0.937" stop-color="#00ffef"/><stop offset="0.967" stop-color="#00feff"/><stop offset="0.983" stop-color="#00f5ff"/></linearGradient>
<linearGradient id="g146" gradientUnits="userSpaceOnUse" x1="0" y1="58.7" x2="0" y2="156.5"><stop offset="0.024" stop-color="#ff0b00"/><stop offset="0.075" stop-color="#ff2400"/><stop offset="0.126" stop-color="#ff3e00"/><stop offset="0.178" stop-color="#ff5800"/><stop offset="0.229" stop-color="#ff7300"/><stop offset="0.275" stop-color="#ff8c00"/><stop offset="0.326" stop-color="#ffa700"/><stop offset="0.377" stop-color="#ffc300"/><stop offset="0.428" stop-color="#ffe000"/><stop offset="0.479" stop-color="#fffc00"/><stop offset="0.484" stop-color="#ffff00"/><stop offset="0.530" stop-color="#d6ff00"/><stop offset="0.541" stop-color="#cdff00"/><stop offset="0.581" stop-color="#9dff10"/><stop offset="0.607" stop-color="#7fff1b"/><stop offset="0.633" stop-color="#5bff2d"/><stop offset="0.668" stop-color="#28ff46"/><stop offset="0.684" stop-color="#1dff50"/><stop offset="0.725" stop-color="#00ff6a"/><stop offset="0.735" stop-color="#00ff72"/><stop offset="0.781" stop-color="#00ff96"/><stop offset="0.832" stop-color="#00ffbe"/><stop offset="0.883" stop-color="#00ffdb"/><stop offset="0.934" stop-color="#00fff7"/><stop offset="0.950" stop-color="#00feff"/><stop offset="0.983" stop-color="#00ecff"/></linearGradient>
<linearGradient id="g147" gradientUnits="userSpaceOnUse" x1="0" y1="61.4" x2="0" y2="157.8"><stop offset="0.026" stop-color="#ff1a00"/><stop offset="0.077" stop-color="#ff3400"/><stop offset="0.134" stop-color="#ff5100"/><stop offset="0.186" stop-color="#ff6c00"/><stop offset="0.238" stop-color="#ff8700"/><stop offset="0.290" stop-color="#ffa200"/><stop offset="0.347" stop-color="#ffc100"/><stop offset="0.399" stop-color="#ffdd00"/><stop offset="0.451" stop-color="#fffa00"/><stop offset="0.461" stop-color="#feff00"/><stop offset="0.503" stop-color="#daff00"/><stop offset="0.518" stop-color="#ccff00"/><stop offset="0.560" stop-color="#9cff10"/><stop offset="0.580" stop-color="#84ff18"/><stop offset="0.612" stop-color="#59ff2d"/><stop offset="0.648" stop-color="#27ff47"/><stop offset="0.663" stop-color="#1cff50"/><stop offset="0.705" stop-color="#00ff6b"/><stop offset="0.721" stop-color="#00ff77"/><stop offset="0.772" stop-color="#00ff9f"/><stop offset="0.814" stop-color="#00ffbf"/><stop offset="0.824" stop-color="#00ffc4"/><stop offset="0.876" stop-color="#00ffe1"/><stop offset="0.933" stop-color="#00feff"/><stop offset="0.982" stop-color="#00e2ff"/></linearGradient>
<linearGradient id="g148" gradientUnits="userSpaceOnUse" x1="0" y1="64.2" x2="0" y2="159.1"><stop offset="0.027" stop-color="#ff2b00"/><stop offset="0.080" stop-color="#ff4500"/><stop offset="0.132" stop-color="#ff6000"/><stop offset="0.185" stop-color="#ff7b00"/><stop offset="0.238" stop-color="#ff9600"/><stop offset="0.296" stop-color="#ffb500"/><stop offset="0.349" stop-color="#ffd100"/><stop offset="0.401" stop-color="#ffed00"/><stop offset="0.433" stop-color="#fffe00"/><stop offset="0.454" stop-color="#eeff00"/><stop offset="0.491" stop-color="#ceff00"/><stop offset="0.507" stop-color="#bcff06"/><stop offset="0.559" stop-color="#80ff1a"/><stop offset="0.612" stop-color="#38ff3e"/><stop offset="0.623" stop-color="#2aff45"/><stop offset="0.665" stop-color="#0bff5f"/><stop offset="0.681" stop-color="#00ff69"/><stop offset="0.718" stop-color="#00ff85"/><stop offset="0.776" stop-color="#00ffb1"/><stop offset="0.791" stop-color="#00ffbe"/><stop offset="0.828" stop-color="#00ffd2"/><stop offset="0.881" stop-color="#00ffee"/><stop offset="0.913" stop-color="#00ffff"/><stop offset="0.934" stop-color="#00f3ff"/><stop offset="0.982" stop-color="#00d9ff"/></linearGradient>
<linearGradient id="g149" gradientUnits="userSpaceOnUse" x1="0" y1="67.3" x2="0" y2="160.4"><stop offset="0.029" stop-color="#ff3e00"/><stop offset="0.082" stop-color="#ff5800"/><stop offset="0.136" stop-color="#ff7300"/><stop offset="0.190" stop-color="#ff8e00"/><stop offset="0.243" stop-color="#ffaa00"/><stop offset="0.292" stop-color="#ffc300"/><stop offset="0.346" stop-color="#ffdf00"/><stop offset="0.399" stop-color="#fffb00"/><stop offset="0.405" stop-color="#fffe00"/><stop offset="0.453" stop-color="#d7ff00"/><stop offset="0.464" stop-color="#ceff00"/><stop offset="0.507" stop-color="#9eff10"/><stop offset="0.534" stop-color="#80ff1a"/><stop offset="0.560" stop-color="#5cff2c"/><stop offset="0.598" stop-color="#2aff45"/><stop offset="0.614" stop-color="#1eff4f"/><stop offset="0.657" stop-color="#00ff69"/><stop offset="0.668" stop-color="#00ff71"/><stop offset="0.722" stop-color="#00ff99"/><stop offset="0.770" stop-color="#00ffbe"/><stop offset="0.824" stop-color="#00ffda"/><stop offset="0.877" stop-color="#00fff6"/><stop offset="0.893" stop-color="#00ffff"/><stop offset="0.931" stop-color="#00ebff"/><stop offset="0.982" stop-color="#00cfff"/></linearGradient>
<linearGradient id="g150" gradientUnits="userSpaceOnUse" x1="0" y1="70.6" x2="0" y2="161.7"><stop offset="0.030" stop-color="#ff5100"/><stop offset="0.085" stop-color="#ff6c00"/><stop offset="0.140" stop-color="#ff8700"/><stop offset="0.200" stop-color="#ffa500"/><stop offset="0.255" stop-color="#ffc100"/><stop offset="0.310" stop-color="#ffdd00"/><stop offset="0.365" stop-color="#fffa00"/><stop offset="0.376" stop-color="#ffff00"/><stop offset="0.425" stop-color="#d5ff00"/><stop offset="0.436" stop-color="#ccff00"/><stop offset="0.480" stop-color="#9cff10"/><stop offset="0.502" stop-color="#84ff18"/><stop offset="0.535" stop-color="#5aff2d"/><stop offset="0.573" stop-color="#28ff46"/><stop offset="0.590" stop-color="#1cff50"/><stop offset="0.634" stop-color="#00ff6b"/><stop offset="0.650" stop-color="#00ff77"/><stop offset="0.705" stop-color="#00ff9f"/><stop offset="0.749" stop-color="#00ffbf"/><stop offset="0.760" stop-color="#00ffc4"/><stop offset="0.815" stop-color="#00ffe1"/><stop offset="0.875" stop-color="#00feff"/><stop offset="0.930" stop-color="#00e1ff"/><stop offset="0.981" stop-color="#00c6ff"/></linearGradient>
<linearGradient id="g151" gradientUnits="userSpaceOnUse" x1="0" y1="74.1" x2="0" y2="163.0"><stop offset="0.032" stop-color="#ff6600"/><stop offset="0.088" stop-color="#ff8100"/><stop offset="0.144" stop-color="#ff9c00"/><stop offset="0.201" stop-color="#ffb800"/><stop offset="0.257" stop-color="#ffd400"/><stop offset="0.313" stop-color="#fff000"/><stop offset="0.341" stop-color="#ffff00"/><stop offset="0.369" stop-color="#e9ff00"/><stop offset="0.403" stop-color="#cdff00"/><stop offset="0.425" stop-color="#b6ff08"/><stop offset="0.476" stop-color="#7fff1a"/><stop offset="0.482" stop-color="#78ff1e"/><stop offset="0.532" stop-color="#38ff3e"/><stop offset="0.543" stop-color="#29ff45"/><stop offset="0.588" stop-color="#0bff60"/><stop offset="0.605" stop-color="#00ff6a"/><stop offset="0.645" stop-color="#00ff86"/><stop offset="0.701" stop-color="#00ffae"/><stop offset="0.723" stop-color="#00ffbe"/><stop offset="0.757" stop-color="#00ffcf"/><stop offset="0.813" stop-color="#00ffec"/><stop offset="0.852" stop-color="#00feff"/><stop offset="0.869" stop-color="#00f6ff"/><stop offset="0.925" stop-color="#00d9ff"/><stop offset="0.981" stop-color="#00bcff"/></linearGradient>
<linearGradient id="g152" gradientUnits="userSpaceOnUse" x1="0" y1="77.7" x2="0" y2="164.4"><stop offset="0.034" stop-color="#ff7c00"/><stop offset="0.092" stop-color="#ff9700"/><stop offset="0.155" stop-color="#ffb600"/><stop offset="0.213" stop-color="#ffd200"/><stop offset="0.271" stop-color="#ffee00"/><stop offset="0.305" stop-color="#ffff00"/><stop offset="0.334" stop-color="#e8ff00"/><stop offset="0.369" stop-color="#cdff00"/><stop offset="0.392" stop-color="#b5ff08"/><stop offset="0.444" stop-color="#7fff1b"/><stop offset="0.449" stop-color="#78ff1e"/><stop offset="0.507" stop-color="#30ff42"/><stop offset="0.513" stop-color="#28ff46"/><stop offset="0.571" stop-color="#03ff67"/><stop offset="0.576" stop-color="#00ff6a"/><stop offset="0.628" stop-color="#00ff8e"/><stop offset="0.686" stop-color="#00ffb6"/><stop offset="0.698" stop-color="#00ffbe"/><stop offset="0.749" stop-color="#00ffd8"/><stop offset="0.807" stop-color="#00fff4"/><stop offset="0.830" stop-color="#00feff"/><stop offset="0.865" stop-color="#00edff"/><stop offset="0.928" stop-color="#00cdff"/><stop offset="0.980" stop-color="#00b3ff"/></linearGradient>
<linearGradient id="g153" gradientUnits="userSpaceOnUse" x1="0" y1="81.5" x2="0" y2="165.7"><stop offset="0.036" stop-color="#ff9400"/><stop offset="0.095" stop-color="#ffaf00"/><stop offset="0.155" stop-color="#ffcb00"/><stop offset="0.214" stop-color="#ffe700"/><stop offset="0.268" stop-color="#fdff00"/><stop offset="0.274" stop-color="#f8ff00"/><stop offset="0.327" stop-color="#cfff00"/><stop offset="0.333" stop-color="#caff01"/><stop offset="0.393" stop-color="#8eff15"/><stop offset="0.405" stop-color="#83ff19"/><stop offset="0.452" stop-color="#49ff35"/><stop offset="0.482" stop-color="#27ff47"/><stop offset="0.511" stop-color="#14ff58"/><stop offset="0.541" stop-color="#01ff68"/><stop offset="0.565" stop-color="#00ff78"/><stop offset="0.624" stop-color="#00ffa0"/><stop offset="0.666" stop-color="#00ffbc"/><stop offset="0.684" stop-color="#00ffc5"/><stop offset="0.743" stop-color="#00ffe2"/><stop offset="0.803" stop-color="#00fffe"/><stop offset="0.862" stop-color="#00e3ff"/><stop offset="0.922" stop-color="#00c5ff"/><stop offset="0.980" stop-color="#00a9ff"/></linearGradient>
<linearGradient id="g154" gradientUnits="userSpaceOnUse" x1="0" y1="85.5" x2="0" y2="166.9"><stop offset="0.038" stop-color="#ffac00"/><stop offset="0.100" stop-color="#ffc800"/><stop offset="0.167" stop-color="#ffe600"/><stop offset="0.223" stop-color="#feff00"/><stop offset="0.229" stop-color="#f9ff00"/><stop offset="0.290" stop-color="#cbff01"/><stop offset="0.352" stop-color="#8fff15"/><stop offset="0.364" stop-color="#83ff19"/><stop offset="0.419" stop-color="#43ff38"/><stop offset="0.444" stop-color="#27ff47"/><stop offset="0.481" stop-color="#11ff5a"/><stop offset="0.505" stop-color="#02ff68"/><stop offset="0.542" stop-color="#00ff7f"/><stop offset="0.604" stop-color="#00ffa7"/><stop offset="0.640" stop-color="#00ffbf"/><stop offset="0.671" stop-color="#00ffcd"/><stop offset="0.733" stop-color="#00ffea"/><stop offset="0.776" stop-color="#00fffe"/><stop offset="0.794" stop-color="#00f7ff"/><stop offset="0.855" stop-color="#00daff"/><stop offset="0.923" stop-color="#00baff"/><stop offset="0.979" stop-color="#00a0ff"/></linearGradient>
<linearGradient id="g155" gradientUnits="userSpaceOnUse" x1="0" y1="89.8" x2="0" y2="168.2"><stop offset="0.041" stop-color="#ffc600"/><stop offset="0.105" stop-color="#ffe200"/><stop offset="0.169" stop-color="#fffe00"/><stop offset="0.232" stop-color="#d3ff00"/><stop offset="0.239" stop-color="#ceff00"/><stop offset="0.290" stop-color="#a0ff0f"/><stop offset="0.322" stop-color="#82ff19"/><stop offset="0.354" stop-color="#5eff2b"/><stop offset="0.405" stop-color="#26ff48"/><stop offset="0.417" stop-color="#1fff4e"/><stop offset="0.468" stop-color="#01ff68"/><stop offset="0.481" stop-color="#00ff70"/><stop offset="0.545" stop-color="#00ff98"/><stop offset="0.602" stop-color="#00ffbd"/><stop offset="0.608" stop-color="#00ffc0"/><stop offset="0.672" stop-color="#00ffdc"/><stop offset="0.736" stop-color="#00fff9"/><stop offset="0.749" stop-color="#00ffff"/><stop offset="0.793" stop-color="#00ebff"/><stop offset="0.857" stop-color="#00ceff"/><stop offset="0.921" stop-color="#00b1ff"/><stop offset="0.979" stop-color="#0096ff"/></linearGradient>
<linearGradient id="g156" gradientUnits="userSpaceOnUse" x1="0" y1="94.2" x2="0" y2="169.5"><stop offset="0.045" stop-color="#ffe100"/><stop offset="0.111" stop-color="#fffd00"/><stop offset="0.118" stop-color="#fdff00"/><stop offset="0.177" stop-color="#d4ff00"/><stop offset="0.191" stop-color="#cbff01"/><stop offset="0.244" stop-color="#9bff11"/><stop offset="0.270" stop-color="#83ff19"/><stop offset="0.310" stop-color="#59ff2e"/><stop offset="0.357" stop-color="#27ff47"/><stop offset="0.377" stop-color="#1cff50"/><stop offset="0.423" stop-color="#02ff67"/><stop offset="0.443" stop-color="#00ff73"/><stop offset="0.509" stop-color="#00ff9b"/><stop offset="0.569" stop-color="#00ffbf"/><stop offset="0.582" stop-color="#00ffc5"/><stop offset="0.649" stop-color="#00ffe1"/><stop offset="0.715" stop-color="#00fffe"/><stop offset="0.782" stop-color="#00e3ff"/><stop offset="0.848" stop-color="#00c6ff"/><stop offset="0.915" stop-color="#00a9ff"/><stop offset="0.978" stop-color="#008dff"/></linearGradient>
<linearGradient id="g157" gradientUnits="userSpaceOnUse" x1="0" y1="98.8" x2="0" y2="170.7"><stop offset="0.048" stop-color="#fffe00"/><stop offset="0.118" stop-color="#d3ff00"/><stop offset="0.125" stop-color="#cfff00"/><stop offset="0.194" stop-color="#94ff13"/><stop offset="0.215" stop-color="#82ff19"/><stop offset="0.264" stop-color="#50ff32"/><stop offset="0.306" stop-color="#26ff47"/><stop offset="0.334" stop-color="#18ff54"/><stop offset="0.375" stop-color="#01ff68"/><stop offset="0.410" stop-color="#00ff7c"/><stop offset="0.480" stop-color="#00ffa4"/><stop offset="0.521" stop-color="#00ffbc"/><stop offset="0.549" stop-color="#00ffc8"/><stop offset="0.619" stop-color="#00ffe4"/><stop offset="0.681" stop-color="#00fffe"/><stop offset="0.695" stop-color="#00faff"/><stop offset="0.765" stop-color="#00ddff"/><stop offset="0.834" stop-color="#00c0ff"/><stop offset="0.911" stop-color="#009fff"/><stop offset="0.977" stop-color="#0084ff"/></linearGradient>
<linearGradient id="g158" gradientUnits="userSpaceOnUse" x1="0" y1="103.8" x2="0" y2="172.0"><stop offset="0.053" stop-color="#d0ff00"/><stop offset="0.060" stop-color="#cbff01"/><stop offset="0.126" stop-color="#96ff12"/><stop offset="0.148" stop-color="#84ff18"/><stop offset="0.192" stop-color="#59ff2d"/><stop offset="0.243" stop-color="#28ff46"/><stop offset="0.265" stop-color="#1cff50"/><stop offset="0.324" stop-color="#00ff6b"/><stop offset="0.339" stop-color="#00ff73"/><stop offset="0.405" stop-color="#00ff97"/><stop offset="0.478" stop-color="#00ffbf"/><stop offset="0.551" stop-color="#00ffdb"/><stop offset="0.625" stop-color="#00fff8"/><stop offset="0.647" stop-color="#00feff"/><stop offset="0.691" stop-color="#00ecff"/><stop offset="0.764" stop-color="#00cfff"/><stop offset="0.837" stop-color="#00b2ff"/><stop offset="0.903" stop-color="#0098ff"/><stop offset="0.975" stop-color="#007bff"/></linearGradient>
<linearGradient id="g159" gradientUnits="userSpaceOnUse" x1="0" y1="108.9" x2="0" y2="173.2"><stop offset="0.058" stop-color="#8eff15"/><stop offset="0.074" stop-color="#82ff19"/><stop offset="0.136" stop-color="#49ff36"/><stop offset="0.175" stop-color="#27ff47"/><stop offset="0.214" stop-color="#14ff58"/><stop offset="0.253" stop-color="#01ff68"/><stop offset="0.292" stop-color="#00ff7c"/><stop offset="0.362" stop-color="#00ffa0"/><stop offset="0.424" stop-color="#00ffbf"/><stop offset="0.439" stop-color="#00ffc5"/><stop offset="0.517" stop-color="#00ffe1"/><stop offset="0.595" stop-color="#00fffe"/><stop offset="0.673" stop-color="#00e3ff"/><stop offset="0.743" stop-color="#00c9ff"/><stop offset="0.821" stop-color="#00abff"/><stop offset="0.898" stop-color="#008eff"/><stop offset="0.974" stop-color="#0072ff"/></linearGradient>
<linearGradient id="g160" gradientUnits="userSpaceOnUse" x1="0" y1="114.4" x2="0" y2="174.5"><stop offset="0.065" stop-color="#3cff3c"/><stop offset="0.090" stop-color="#27ff47"/><stop offset="0.148" stop-color="#0dff5e"/><stop offset="0.173" stop-color="#02ff67"/><stop offset="0.231" stop-color="#00ff83"/><stop offset="0.314" stop-color="#00ffab"/><stop offset="0.356" stop-color="#00ffbf"/><stop offset="0.398" stop-color="#00ffcd"/><stop offset="0.481" stop-color="#00ffe9"/><stop offset="0.548" stop-color="#00feff"/><stop offset="0.564" stop-color="#00f8ff"/><stop offset="0.647" stop-color="#00dbff"/><stop offset="0.731" stop-color="#00bdff"/><stop offset="0.814" stop-color="#00a0ff"/><stop offset="0.897" stop-color="#0083ff"/><stop offset="0.972" stop-color="#0069ff"/></linearGradient>
<linearGradient id="g161" gradientUnits="userSpaceOnUse" x1="0" y1="120.1" x2="0" y2="175.7"><stop offset="0.073" stop-color="#04ff66"/><stop offset="0.082" stop-color="#00ff69"/><stop offset="0.163" stop-color="#00ff8d"/><stop offset="0.253" stop-color="#00ffb5"/><stop offset="0.271" stop-color="#00ffbd"/><stop offset="0.343" stop-color="#00ffd4"/><stop offset="0.433" stop-color="#00fff0"/><stop offset="0.478" stop-color="#00ffff"/><stop offset="0.523" stop-color="#00f1ff"/><stop offset="0.613" stop-color="#00d4ff"/><stop offset="0.702" stop-color="#00b6ff"/><stop offset="0.792" stop-color="#0099ff"/><stop offset="0.882" stop-color="#007cff"/><stop offset="0.970" stop-color="#005fff"/></linearGradient>
<linearGradient id="g162" gradientUnits="userSpaceOnUse" x1="0" y1="126.2" x2="0" y2="177.0"><stop offset="0.083" stop-color="#00ff99"/><stop offset="0.171" stop-color="#00ffbd"/><stop offset="0.181" stop-color="#00ffc0"/><stop offset="0.280" stop-color="#00ffdd"/><stop offset="0.378" stop-color="#00fff9"/><stop offset="0.398" stop-color="#00ffff"/><stop offset="0.476" stop-color="#00e8ff"/><stop offset="0.575" stop-color="#00cbff"/><stop offset="0.673" stop-color="#00adff"/><stop offset="0.772" stop-color="#0090ff"/><stop offset="0.870" stop-color="#0073ff"/><stop offset="0.967" stop-color="#0056ff"/></linearGradient>
<linearGradient id="g163" gradientUnits="userSpaceOnUse" x1="0" y1="132.6" x2="0" y2="178.3"><stop offset="0.095" stop-color="#00ffcb"/><stop offset="0.205" stop-color="#00ffe7"/><stop offset="0.292" stop-color="#00fffe"/><stop offset="0.314" stop-color="#00faff"/><stop offset="0.423" stop-color="#00ddff"/><stop offset="0.533" stop-color="#00c0ff"/><stop offset="0.642" stop-color="#00a3ff"/><stop offset="0.752" stop-color="#0085ff"/><stop offset="0.861" stop-color="#0068ff"/><stop offset="0.963" stop-color="#004dff"/></linearGradient>
<linearGradient id="g164" gradientUnits="userSpaceOnUse" x1="0" y1="139.3" x2="0" y2="179.6"><stop offset="0.112" stop-color="#00fff3"/><stop offset="0.161" stop-color="#00ffff"/><stop offset="0.236" stop-color="#00eeff"/><stop offset="0.360" stop-color="#00d1ff"/><stop offset="0.484" stop-color="#00b3ff"/><stop offset="0.595" stop-color="#0099ff"/><stop offset="0.719" stop-color="#007cff"/><stop offset="0.843" stop-color="#005eff"/><stop offset="0.958" stop-color="#0043ff"/></linearGradient>
<linearGradient id="g165" gradientUnits="userSpaceOnUse" x1="0" y1="146.2" x2="0" y2="180.9"><stop offset="0.134" stop-color="#00dfff"/><stop offset="0.278" stop-color="#00c2ff"/><stop offset="0.408" stop-color="#00a8ff"/><stop offset="0.538" stop-color="#008eff"/><stop offset="0.682" stop-color="#0070ff"/><stop offset="0.826" stop-color="#0053ff"/><stop offset="0.950" stop-color="#003aff"/></linearGradient>
<linearGradient id="g166" gradientUnits="userSpaceOnUse" x1="0" y1="153.5" x2="0" y2="182.3"><stop offset="0.165" stop-color="#00b3ff"/><stop offset="0.356" stop-color="#0092ff"/><stop offset="0.547" stop-color="#0072ff"/><stop offset="0.756" stop-color="#004fff"/><stop offset="0.940" stop-color="#0030ff"/></linearGradient>
<linearGradient id="g167" gradientUnits="userSpaceOnUse" x1="0" y1="161.0" x2="0" y2="183.7"><stop offset="0.213" stop-color="#0084ff"/><stop offset="0.455" stop-color="#0064ff"/><stop offset="0.697" stop-color="#0044ff"/><stop offset="0.923" stop-color="#0026ff"/></linearGradient>
<linearGradient id="g168" gradientUnits="userSpaceOnUse" x1="0" y1="168.6" x2="0" y2="185.1"><stop offset="0.296" stop-color="#0055ff"/><stop offset="0.599" stop-color="#0038ff"/><stop offset="0.892" stop-color="#001cff"/></linearGradient>
<linearGradient id="g169" gradientUnits="userSpaceOnUse" x1="0" y1="176.3" x2="0" y2="186.6"><stop offset="0.476" stop-color="#0026ff"/><stop offset="0.825" stop-color="#0011ff"/></linearGradient>
<linearGradient id="g170" gradientUnits="userSpaceOnUse" x1="0" y1="183.6" x2="0" y2="186.8"><stop offset="0.333" stop-color="#0011ff"/><stop offset="0.594" stop-color="#000cff"/></linearGradient>
<clipPath id="c"><polygon points="129.5,68.8 131.6,67.4 133.6,66.0 135.7,64.8 137.7,63.6 139.8,62.5 141.9,61.4 143.9,60.4 146.0,59.5 148.0,58.6 150.1,57.8 152.1,57.0 154.2,56.3 156.3,55.5 158.3,54.9 160.4,54.2 162.4,53.6 164.5,53.0 166.6,52.5 168.6,51.9 170.7,51.4 172.7,50.9 174.8,50.5 176.8,50.0 178.9,49.6 181.0,49.1 183.0,48.7 185.1,48.3 187.1,48.0 189.2,47.6 191.3,47.2 193.3,46.8 195.4,46.5 197.4,46.1 199.5,45.8 201.6,45.5 203.6,45.1 205.7,44.8 207.7,44.5 209.8,44.2 211.8,43.9 213.9,43.6 216.0,43.3 218.0,43.0 220.1,42.8 222.1,42.5 224.2,42.2 226.3,42.0 228.3,41.7 230.4,41.5 232.4,41.3 234.5,41.0 236.5,40.8 238.6,40.6 240.7,40.4 242.7,40.2 244.8,40.0 246.8,39.8 248.9,39.6 251.0,39.4 253.0,39.2 255.1,39.0 257.1,38.8 259.2,38.7 261.2,38.5 263.3,38.3 265.4,38.2 267.4,38.0 269.5,37.8 271.5,37.7 273.6,37.5 275.7,37.3 277.7,37.2 279.8,37.0 281.8,36.9 283.9,36.7 286.0,36.6 288.0,36.4 290.1,36.3 292.1,36.1 294.2,36.0 296.2,35.8 298.3,35.7 300.4,35.5 302.4,35.4 304.5,35.2 306.5,35.1 308.6,34.9 310.7,34.8 312.7,34.6 314.8,34.5 316.8,34.4 318.9,34.2 320.9,34.1 323.0,33.9 325.1,33.8 327.1,33.7 329.2,33.5 331.2,33.4 333.3,33.3 335.4,33.1 337.4,33.0 339.5,32.9 341.5,32.8 343.6,32.6 345.7,32.5 347.7,32.4 349.8,32.3 351.8,32.2 353.9,32.1 355.9,32.0 358.0,31.9 360.1,31.8 362.1,31.7 364.2,31.6 366.2,31.5 368.3,31.4 370.4,31.3 372.4,31.2 374.5,31.1 375.9,31.2 376.7,31.4 377.4,31.6 378.2,31.8 379.0,32.0 379.8,32.2 380.5,32.5 381.3,32.7 382.1,33.0 382.9,33.2 383.6,33.5 384.4,33.8 385.2,34.0 386.0,34.3 386.7,34.6 387.5,35.0 388.3,35.3 389.1,35.6 389.9,36.0 390.6,36.3 391.4,36.7 392.2,37.0 393.0,37.4 393.7,37.8 394.5,38.2 395.3,38.6 396.1,39.0 396.8,39.5 397.6,39.9 398.4,40.4 399.2,40.9 399.9,41.3 400.7,41.8 401.5,42.4 402.3,42.9 403.0,43.4 403.8,44.0 404.6,44.5 405.4,45.1 406.1,45.7 406.9,46.3 407.7,47.0 408.5,47.6 409.2,48.3 410.0,48.9 410.8,49.6 411.6,50.4 412.3,51.1 413.1,51.9 413.9,52.6 414.7,53.5 415.5,54.3 416.2,55.1 417.0,56.0 417.8,56.9 418.6,57.9 419.3,58.8 420.1,59.8 420.9,60.8 421.7,61.9 422.4,63.0 423.2,64.1 424.0,65.2 424.8,66.4 425.5,67.6 426.3,68.8 427.1,70.1 427.9,71.4 428.6,72.7 429.4,74.0 430.2,75.4 431.0,76.8 431.7,78.2 432.5,79.7 433.3,81.2 434.1,82.7 434.8,84.2 435.6,85.8 436.4,87.4 437.2,89.0 437.9,90.6 438.7,92.3 439.5,94.1 440.3,95.8 441.0,97.6 441.8,99.4 442.6,101.3 443.4,103.2 444.2,105.1 444.9,107.1 445.7,109.1 446.5,111.2 447.3,113.3 448.0,115.5 448.8,117.7 449.6,119.9 450.4,122.2 451.1,124.5 451.9,126.9 452.7,129.3 453.5,131.8 454.2,134.3 455.0,136.9 455.8,139.5 456.6,142.2 457.3,144.9 458.1,147.6 458.9,150.4 459.7,153.3 460.4,156.1 461.2,159.0 462.0,161.9 462.8,164.9 463.5,167.9 464.3,170.8 465.1,173.8 465.9,176.8 466.6,179.8 467.4,182.8 468.2,185.8 466.1,184.2 464.1,182.7 462.0,181.3 459.9,179.9 457.8,178.5 455.8,177.1 453.7,175.8 451.6,174.5 449.5,173.2 447.5,171.9 445.4,170.6 443.3,169.3 441.2,168.0 439.2,166.7 437.1,165.4 435.0,164.0 432.9,162.7 430.9,161.3 428.8,159.9 426.7,158.6 424.7,157.2 422.6,155.8 420.5,154.5 418.4,153.2 416.4,152.0 414.3,150.7 412.2,149.6 410.1,148.4 408.1,147.3 406.0,146.3 403.9,145.3 401.8,144.4 399.8,143.6 397.7,142.8 395.6,142.1 393.5,141.4 391.5,140.7 389.4,140.2 387.3,139.6 385.3,139.2 383.2,138.7 381.1,138.4 379.0,138.0 377.0,137.8 374.9,137.6 372.8,137.4 370.7,137.3 368.7,137.2 366.6,137.2 364.5,137.3 362.4,137.4 360.4,137.6 358.3,137.8 356.2,138.1 354.1,138.4 352.1,138.8 350.0,139.3 347.9,139.8 345.9,140.3 343.8,140.9 341.7,141.6 339.6,142.3 337.6,143.0 335.5,143.8 333.4,144.5 331.3,145.4 329.3,146.2 327.2,147.1 325.1,147.9 323.0,148.8 321.0,149.8 318.9,150.7 316.8,151.6 314.8,152.5 312.7,153.5 310.6,154.4 308.5,155.3 306.5,156.2 304.4,157.2 302.3,158.1 300.2,159.0 298.2,160.0 296.1,160.9 294.0,161.9 291.9,162.9 289.9,163.9 287.8,164.9 285.7,165.9 283.6,167.0 281.6,168.1 279.5,169.2 277.4,170.3 275.4,171.4 273.3,172.6 271.2,173.9 269.1,175.2 267.1,176.5 265.0,177.8 262.9,179.3 260.8,180.7 258.8,182.3 256.7,183.9 254.6,185.6 252.5,187.3 250.5,189.2 248.4,191.1 246.3,193.2 244.2,195.3 242.2,197.6 240.1,199.9 238.0,202.4 236.0,205.0 233.9,207.8 231.8,210.7 229.7,213.7 227.7,216.9 225.6,220.3 223.5,224.0 221.4,227.9 220.0,228.7 219.3,226.0 218.5,223.5 217.7,220.9 217.0,218.4 216.2,216.0 215.5,213.6 214.7,211.2 213.9,208.9 213.2,206.6 212.4,204.4 211.7,202.2 210.9,200.1 210.1,198.0 209.4,195.9 208.6,193.9 207.8,192.0 207.1,190.0 206.3,188.2 205.6,186.3 204.8,184.5 204.0,182.8 203.3,181.0 202.5,179.4 201.8,177.7 201.0,176.1 200.2,174.5 199.5,172.9 198.7,171.4 198.0,169.9 197.2,168.4 196.4,166.9 195.7,165.5 194.9,164.0 194.2,162.6 193.4,161.2 192.6,159.9 191.9,158.5 191.1,157.2 190.4,155.8 189.6,154.5 188.8,153.2 188.1,152.0 187.3,150.7 186.6,149.4 185.8,148.2 185.0,146.9 184.3,145.7 183.5,144.5 182.7,143.3 182.0,142.1 181.2,140.9 180.5,139.7 179.7,138.5 178.9,137.4 178.2,136.2 177.4,135.1 176.7,133.9 175.9,132.8 175.1,131.7 174.4,130.5 173.6,129.4 172.9,128.3 172.1,127.2 171.3,126.1 170.6,125.0 169.8,123.9 169.1,122.8 168.3,121.7 167.5,120.7 166.8,119.6 166.0,118.5 165.3,117.4 164.5,116.4 163.7,115.3 163.0,114.3 162.2,113.2 161.4,112.2 160.7,111.1 159.9,110.1 159.2,109.0 158.4,108.0 157.6,106.9 156.9,105.9 156.1,104.9 155.4,103.8 154.6,102.8 153.8,101.8 153.1,100.8 152.3,99.7 151.6,98.7 150.8,97.7 150.0,96.7 149.3,95.6 148.5,94.6 147.8,93.6 147.0,92.6 146.2,91.5 145.5,90.5 144.7,89.5 144.0,88.5 143.2,87.4 142.4,86.4 141.7,85.4 140.9,84.4 140.1,83.3 139.4,82.3 138.6,81.3 137.9,80.3 137.1,79.2 136.3,78.2 135.6,77.2 134.8,76.1 134.1,75.1 133.3,74.0 132.5,73.0 131.8,72.0 131.0,70.9 130.3,69.9"/></clipPath>
</defs>
<rect width="550" height="289" fill="#fff"/>
<g id="grid">
<line class="f" x1="56.0" y1="205.5" x2="56.0" y2="33.1"/>
<line class="g" x1="330.5" y1="181.6" x2="330.5" y2="9.2"/>
<line class="f" x1="512.7" y1="217.3" x2="512.7" y2="44.9"/>
<line class="g" x1="56.0" y1="33.1" x2="330.5" y2="9.2"/>
<line class="g" x1="330.5" y1="9.2" x2="512.7" y2="44.9"/>
<line class="h" x1="56.0" y1="205.5" x2="330.5" y2="181.6"/>
<line class="h" x1="330.5" y1="181.6" x2="512.7" y2="217.3"/>
<line class="g" x1="56.0" y1="148.0" x2="330.5" y2="124.1"/>
<line class="g" x1="330.5" y1="124.1" x2="512.7" y2="159.8"/>
<line class="g" x1="56.0" y1="90.6" x2="330.5" y2="66.7"/>
<line class="g" x1="330.5" y1="66.7" x2="512.7" y2="102.4"/>
<line class="h" x1="294.9" y1="236.3" x2="110.9" y2="200.7"/>
<line class="h" x1="349.3" y1="231.5" x2="165.8" y2="195.9"/>
<line class="h" x1="403.8" y1="226.8" x2="220.7" y2="191.2"/>
<line class="g" x1="220.7" y1="191.2" x2="220.7" y2="18.8"/>
<line class="h" x1="458.2" y1="222.0" x2="275.6" y2="186.4"/>
<line class="g" x1="275.6" y1="186.4" x2="275.6" y2="14.0"/>
<line class="h" x1="148.2" y1="223.2" x2="421.6" y2="199.4"/>
<line class="a" x1="56.0" y1="205.5" x2="240.4" y2="241.0"/>
<line class="b" x1="240.4" y1="241.0" x2="512.7" y2="217.3"/>
<line class="t" x1="48.2" y1="205.5" x2="51.7" y2="205.5"/>
<line class="t" x1="54.2" y1="205.5" x2="55.7" y2="205.5"/>
<line class="t" x1="48.2" y1="148.0" x2="51.7" y2="148.0"/>
<line class="t" x1="54.2" y1="148.0" x2="55.7" y2="148.0"/>
<line class="t" x1="48.2" y1="90.6" x2="51.7" y2="90.6"/>
<line class="t" x1="54.2" y1="90.6" x2="55.7" y2="90.6"/>
<line class="t" x1="48.2" y1="33.1" x2="51.7" y2="33.1"/>
<line class="t" x1="54.2" y1="33.1" x2="55.7" y2="33.1"/>
<line class="t" x1="240.4" y1="241.0" x2="242.9" y2="241.5"/>
<line class="t" x1="294.9" y1="236.3" x2="297.3" y2="236.7"/>
<line class="t" x1="349.3" y1="231.5" x2="351.8" y2="232.0"/>
<line class="t" x1="403.8" y1="226.8" x2="406.2" y2="227.3"/>
<line class="t" x1="458.2" y1="222.0" x2="460.7" y2="222.5"/>
<line class="t" x1="512.7" y1="217.3" x2="515.2" y2="217.8"/>
<line class="t" x1="516.6" y1="218.1" x2="520.1" y2="218.7"/>
<line class="t" x1="240.4" y1="241.0" x2="237.9" y2="241.2"/>
<line class="t" x1="148.2" y1="223.2" x2="145.7" y2="223.5"/>
<line class="t" x1="56.0" y1="205.5" x2="53.5" y2="205.7"/>
</g>
<g id="s" clip-path="url(#c)">
<rect x="128" y="67.4" width="2" height="3.0" fill="url(#g0)"/>
<rect x="130" y="66.1" width="2" height="7.2" fill="url(#g1)"/>
<rect x="132" y="64.8" width="2" height="11.2" fill="url(#g2)"/>
<rect x="134" y="63.6" width="2" height="15.1" fill="url(#g3)"/>
<rect x="136" y="62.4" width="2" height="19.0" fill="url(#g4)"/>
<rect x="138" y="61.4" width="2" height="22.8" fill="url(#g5)"/>
<rect x="140" y="60.4" width="2" height="26.5" fill="url(#g6)"/>
<rect x="142" y="59.4" width="2" height="30.1" fill="url(#g7)"/>
<rect x="144" y="58.5" width="2" height="33.7" fill="url(#g8)"/>
<rect x="146" y="57.6" width="2" height="37.3" fill="url(#g9)"/>
<rect x="148" y="56.8" width="2" height="40.8" fill="url(#g10)"/>
<rect x="150" y="56.1" width="2" height="44.2" fill="url(#g11)"/>
<rect x="152" y="55.3" width="2" height="47.7" fill="url(#g12)"/>
<rect x="154" y="54.6" width="2" height="51.1" fill="url(#g13)"/>
<rect x="156" y="54.0" width="2" height="54.5" fill="url(#g14)"/>
<rect x="158" y="53.3" width="2" height="57.8" fill="url(#g15)"/>
<rect x="160" y="52.7" width="2" height="61.2" fill="url(#g16)"/>
<rect x="162" y="52.2" width="2" height="64.5" fill="url(#g17)"/>
<rect x="164" y="51.6" width="2" height="67.9" fill="url(#g18)"/>
<rect x="166" y="51.1" width="2" height="71.2" fill="url(#g19)"/>
<rect x="168" y="50.6" width="2" height="74.6" fill="url(#g20)"/>
<rect x="170" y="50.1" width="2" height="77.9" fill="url(#g21)"/>
<rect x="172" y="49.6" width="2" height="81.3" fill="url(#g22)"/>
<rect x="174" y="49.2" width="2" height="84.7" fill="url(#g23)"/>
<rect x="176" y="48.8" width="2" height="88.2" fill="url(#g24)"/>
<rect x="178" y="48.3" width="2" height="91.7" fill="url(#g25)"/>
<rect x="180" y="47.9" width="2" height="95.2" fill="url(#g26)"/>
<rect x="182" y="47.5" width="2" height="98.7" fill="url(#g27)"/>
<rect x="184" y="47.2" width="2" height="102.4" fill="url(#g28)"/>
<rect x="186" y="46.8" width="2" height="106.0" fill="url(#g29)"/>
<rect x="188" y="46.4" width="2" height="109.8" fill="url(#g30)"/>
<rect x="190" y="46.1" width="2" height="113.7" fill="url(#g31)"/>
<rect x="192" y="45.7" width="2" height="117.6" fill="url(#g32)"/>
<rect x="194" y="45.4" width="2" height="121.7" fill="url(#g33)"/>
<rect x="196" y="45.0" width="2" height="125.9" fill="url(#g34)"/>
<rect x="198" y="44.7" width="2" height="130.3" fill="url(#g35)"/>
<rect x="200" y="44.4" width="2" height="134.8" fill="url(#g36)"/>
<rect x="202" y="44.1" width="2" height="139.6" fill="url(#g37)"/>
<rect x="204" y="43.8" width="2" height="144.6" fill="url(#g38)"/>
<rect x="206" y="43.5" width="2" height="149.9" fill="url(#g39)"/>
<rect x="208" y="43.2" width="2" height="155.5" fill="url(#g40)"/>
<rect x="210" y="42.9" width="2" height="161.3" fill="url(#g41)"/>
<rect x="212" y="42.6" width="2" height="167.5" fill="url(#g42)"/>
<rect x="214" y="42.3" width="2" height="174.0" fill="url(#g43)"/>
<rect x="216" y="42.0" width="2" height="180.7" fill="url(#g44)"/>
<rect x="218" y="41.8" width="2" height="187.8" fill="url(#g45)"/>
<rect x="220" y="41.5" width="2" height="188.3" fill="url(#g46)"/>
<rect x="222" y="41.3" width="2" height="186.6" fill="url(#g47)"/>
<rect x="224" y="41.0" width="2" height="183.1" fill="url(#g48)"/>
<rect x="226" y="40.8" width="2" height="179.9" fill="url(#g49)"/>
<rect x="228" y="40.5" width="2" height="176.8" fill="url(#g50)"/>
<rect x="230" y="40.3" width="2" height="174.0" fill="url(#g51)"/>
<rect x="232" y="40.1" width="2" height="171.3" fill="url(#g52)"/>
<rect x="234" y="39.9" width="2" height="168.7" fill="url(#g53)"/>
<rect x="236" y="39.7" width="2" height="166.3" fill="url(#g54)"/>
<rect x="238" y="39.5" width="2" height="164.0" fill="url(#g55)"/>
<rect x="240" y="39.3" width="2" height="161.8" fill="url(#g56)"/>
<rect x="242" y="39.1" width="2" height="159.7" fill="url(#g57)"/>
<rect x="244" y="38.9" width="2" height="157.7" fill="url(#g58)"/>
<rect x="246" y="38.7" width="2" height="155.8" fill="url(#g59)"/>
<rect x="248" y="38.5" width="2" height="154.0" fill="url(#g60)"/>
<rect x="250" y="38.3" width="2" height="152.3" fill="url(#g61)"/>
<rect x="252" y="38.1" width="2" height="150.7" fill="url(#g62)"/>
<rect x="254" y="37.9" width="2" height="149.1" fill="url(#g63)"/>
<rect x="256" y="37.8" width="2" height="147.7" fill="url(#g64)"/>
<rect x="258" y="37.6" width="2" height="146.3" fill="url(#g65)"/>
<rect x="260" y="37.4" width="2" height="144.9" fill="url(#g66)"/>
<rect x="262" y="37.3" width="2" height="143.6" fill="url(#g67)"/>
<rect x="264" y="37.1" width="2" height="142.4" fill="url(#g68)"/>
<rect x="266" y="36.9" width="2" height="141.2" fill="url(#g69)"/>
<rect x="268" y="36.8" width="2" height="140.1" fill="url(#g70)"/>
<rect x="270" y="36.6" width="2" height="139.0" fill="url(#g71)"/>
<rect x="272" y="36.5" width="2" height="137.9" fill="url(#g72)"/>
<rect x="274" y="36.3" width="2" height="136.9" fill="url(#g73)"/>
<rect x="276" y="36.2" width="2" height="135.9" fill="url(#g74)"/>
<rect x="278" y="36.0" width="2" height="135.0" fill="url(#g75)"/>
<rect x="280" y="35.9" width="2" height="134.0" fill="url(#g76)"/>
<rect x="282" y="35.7" width="2" height="133.1" fill="url(#g77)"/>
<rect x="284" y="35.6" width="2" height="132.2" fill="url(#g78)"/>
<rect x="286" y="35.4" width="2" height="131.4" fill="url(#g79)"/>
<rect x="288" y="35.3" width="2" height="130.5" fill="url(#g80)"/>
<rect x="290" y="35.1" width="2" height="129.7" fill="url(#g81)"/>
<rect x="292" y="35.0" width="2" height="128.9" fill="url(#g82)"/>
<rect x="294" y="34.8" width="2" height="128.1" fill="url(#g83)"/>
<rect x="296" y="34.7" width="2" height="127.3" fill="url(#g84)"/>
<rect x="298" y="34.5" width="2" height="126.5" fill="url(#g85)"/>
<rect x="300" y="34.4" width="2" height="125.7" fill="url(#g86)"/>
<rect x="302" y="34.3" width="2" height="125.0" fill="url(#g87)"/>
<rect x="304" y="34.1" width="2" height="124.2" fill="url(#g88)"/>
<rect x="306" y="34.0" width="2" height="123.5" fill="url(#g89)"/>
<rect x="308" y="33.8" width="2" height="122.7" fill="url(#g90)"/>
<rect x="310" y="33.7" width="2" height="122.0" fill="url(#g91)"/>
<rect x="312" y="33.6" width="2" height="121.2" fill="url(#g92)"/>
<rect x="314" y="33.4" width="2" height="120.5" fill="url(#g93)"/>
<rect x="316" y="33.3" width="2" height="119.7" fill="url(#g94)"/>
<rect x="318" y="33.1" width="2" height="118.9" fill="url(#g95)"/>
<rect x="320" y="33.0" width="2" height="118.2" fill="url(#g96)"/>
<rect x="322" y="32.9" width="2" height="117.4" fill="url(#g97)"/>
<rect x="324" y="32.7" width="2" height="116.7" fill="url(#g98)"/>
<rect x="326" y="32.6" width="2" height="116.0" fill="url(#g99)"/>
<rect x="328" y="32.5" width="2" height="115.2" fill="url(#g100)"/>
<rect x="330" y="32.3" width="2" height="114.5" fill="url(#g101)"/>
<rect x="332" y="32.2" width="2" height="113.9" fill="url(#g102)"/>
<rect x="334" y="32.1" width="2" height="113.2" fill="url(#g103)"/>
<rect x="336" y="32.0" width="2" height="112.6" fill="url(#g104)"/>
<rect x="338" y="31.9" width="2" height="112.0" fill="url(#g105)"/>
<rect x="340" y="31.7" width="2" height="111.4" fill="url(#g106)"/>
<rect x="342" y="31.6" width="2" height="110.9" fill="url(#g107)"/>
<rect x="344" y="31.5" width="2" height="110.4" fill="url(#g108)"/>
<rect x="346" y="31.4" width="2" height="109.9" fill="url(#g109)"/>
<rect x="348" y="31.3" width="2" height="109.5" fill="url(#g110)"/>
<rect x="350" y="31.2" width="2" height="109.1" fill="url(#g111)"/>
<rect x="352" y="31.1" width="2" height="108.8" fill="url(#g112)"/>
<rect x="354" y="31.0" width="2" height="108.5" fill="url(#g113)"/>
<rect x="356" y="30.9" width="2" height="108.2" fill="url(#g114)"/>
<rect x="358" y="30.8" width="2" height="108.1" fill="url(#g115)"/>
<rect x="360" y="30.7" width="2" height="107.9" fill="url(#g116)"/>
<rect x="362" y="30.6" width="2" height="107.8" fill="url(#g117)"/>
<rect x="364" y="30.5" width="2" height="107.8" fill="url(#g118)"/>
<rect x="366" y="30.4" width="2" height="107.8" fill="url(#g119)"/>
<rect x="368" y="30.3" width="2" height="107.9" fill="url(#g120)"/>
<rect x="370" y="30.2" width="2" height="108.1" fill="url(#g121)"/>
<rect x="372" y="30.2" width="2" height="108.3" fill="url(#g122)"/>
<rect x="374" y="30.1" width="2" height="108.5" fill="url(#g123)"/>
<rect x="376" y="30.2" width="2" height="108.7" fill="url(#g124)"/>
<rect x="378" y="30.7" width="2" height="108.4" fill="url(#g125)"/>
<rect x="380" y="31.3" width="2" height="108.2" fill="url(#g126)"/>
<rect x="382" y="31.9" width="2" height="108.0" fill="url(#g127)"/>
<rect x="384" y="32.6" width="2" height="107.7" fill="url(#g128)"/>
<rect x="386" y="33.4" width="2" height="107.4" fill="url(#g129)"/>
<rect x="388" y="34.2" width="2" height="107.2" fill="url(#g130)"/>
<rect x="390" y="35.0" width="2" height="106.9" fill="url(#g131)"/>
<rect x="392" y="35.9" width="2" height="106.6" fill="url(#g132)"/>
<rect x="394" y="36.9" width="2" height="106.2" fill="url(#g133)"/>
<rect x="396" y="38.0" width="2" height="105.9" fill="url(#g134)"/>
<rect x="398" y="39.2" width="2" height="105.5" fill="url(#g135)"/>
<rect x="400" y="40.4" width="2" height="105.1" fill="url(#g136)"/>
<rect x="402" y="41.7" width="2" height="104.7" fill="url(#g137)"/>
<rect x="404" y="43.1" width="2" height="104.2" fill="url(#g138)"/>
<rect x="406" y="44.6" width="2" height="103.7" fill="url(#g139)"/>
<rect x="408" y="46.2" width="2" height="103.1" fill="url(#g140)"/>
<rect x="410" y="47.9" width="2" height="102.5" fill="url(#g141)"/>
<rect x="412" y="49.8" width="2" height="101.8" fill="url(#g142)"/>
<rect x="414" y="51.8" width="2" height="101.0" fill="url(#g143)"/>
<rect x="416" y="53.9" width="2" height="100.1" fill="url(#g144)"/>
<rect x="418" y="56.2" width="2" height="99.0" fill="url(#g145)"/>
<rect x="420" y="58.7" width="2" height="97.8" fill="url(#g146)"/>
<rect x="422" y="61.4" width="2" height="96.4" fill="url(#g147)"/>
<rect x="424" y="64.2" width="2" height="94.8" fill="url(#g148)"/>
<rect x="426" y="67.3" width="2" height="93.1" fill="url(#g149)"/>
<rect x="428" y="70.6" width="2" height="91.1" fill="url(#g150)"/>
<rect x="430" y="74.1" width="2" height="89.0" fill="url(#g151)"/>
<rect x="432" y="77.7" width="2" height="86.7" fill="url(#g152)"/>
<rect x="434" y="81.5" width="2" height="84.1" fill="url(#g153)"/>
<rect x="436" y="85.5" width="2" height="81.4" fill="url(#g154)"/>
<rect x="438" y="89.8" width="2" height="78.5" fill="url(#g155)"/>
<rect x="440" y="94.2" width="2" height="75.3" fill="url(#g156)"/>
<rect x="442" y="98.8" width="2" height="71.9" fill="url(#g157)"/>
<rect x="444" y="103.8" width="2" height="68.2" fill="url(#g158)"/>
<rect x="446" y="108.9" width="2" height="64.3" fill="url(#g159)"/>
<rect x="448" y="114.4" width="2" height="60.1" fill="url(#g160)"/>
<rect x="450" y="120.1" width="2" height="55.6" fill="url(#g161)"/>
<rect x="452" y="126.2" width="2" height="50.8" fill="url(#g162)"/>
<rect x="454" y="132.6" width="2" height="45.7" fill="url(#g163)"/>
<rect x="456" y="139.3" width="2" height="40.3" fill="url(#g164)"/>
<rect x="458" y="146.2" width="2" height="34.7" fill="url(#g165)"/>
<rect x="460" y="153.5" width="2" height="28.8" fill="url(#g166)"/>
<rect x="462" y="161.0" width="2" height="22.7" fill="url(#g167)"/>
<rect x="464" y="168.6" width="2" height="16.5" fill="url(#g168)"/>
<rect x="466" y="176.3" width="2" height="10.3" fill="url(#g169)"/>
<rect x="468" y="183.6" width="2" height="3.2" fill="url(#g170)"/>
</g>
<g id="labels">
<text x="47.6" y="38.0" text-anchor="end">100</text>
<text x="47.6" y="94.6" text-anchor="end">80</text>
<text x="47.6" y="152.3" text-anchor="end">60</text>
<text x="47.6" y="208.8" text-anchor="end">40</text>
<text x="245.7" y="256.5">0.2</text>
<text x="300.7" y="251.5">0.4</text>
<text x="355.7" y="246.8">0.6</text>
<text x="410.7" y="242.1">0.8</text>
<text x="466.0" y="237.5">1</text>
<text x="521.5" y="232.9">1.2</text>
<text x="230.4" y="255.4" text-anchor="end">0.5</text>
<text x="139.2" y="237.7" text-anchor="end">1</text>
<text x="47.5" y="220.0" text-anchor="end">1.5</text>
<text x="27" y="273.1">Rotor diameter(m)</text>
<text x="353.4" y="275.7">Rotor thickness(m)</text>
<text transform="translate(17.6,190.4) rotate(-90)" style="letter-spacing:.12px">Roll reduction rate(%)</text>
</g>
</svg>
</body></html>
